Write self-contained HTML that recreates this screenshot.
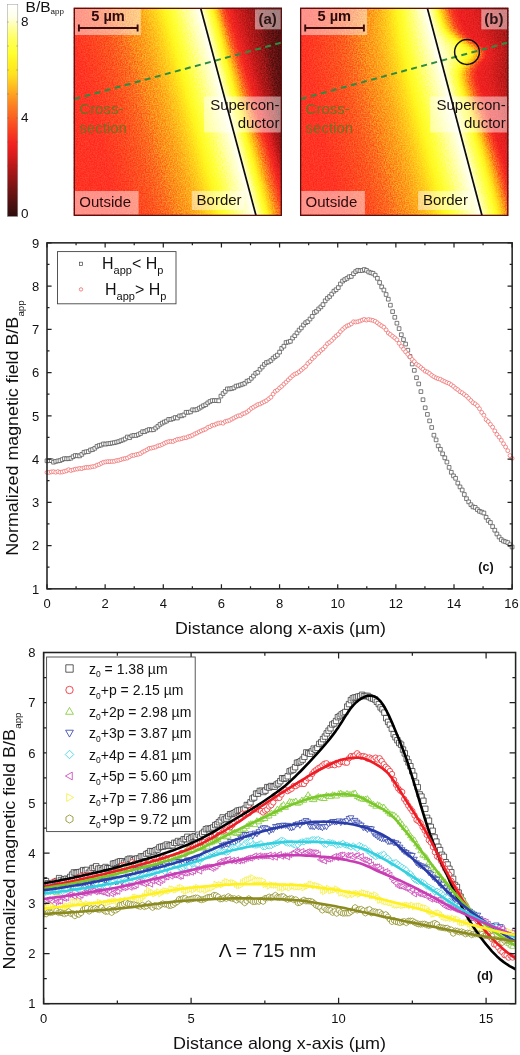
<!DOCTYPE html>
<html lang="en"><head><meta charset="utf-8"><title>Figure</title>
<style>html,body{margin:0;padding:0;background:#fff;}body{width:520px;height:1055px;overflow:hidden;}svg{display:block;}.ka{stop-color:#ff3424}.kb{stop-color:#fe4222}.kc{stop-color:#fd5420}.kd{stop-color:#fc6c20}.ke{stop-color:#fc8a1c}.kf{stop-color:#fda01c}.kg{stop-color:#feb81c}.kh{stop-color:#ffd01c}.ki{stop-color:#ffe81c}.kj{stop-color:#fff820}.kk{stop-color:#ffff38}.kl{stop-color:#ffff70}.km{stop-color:#ffffac}.kn{stop-color:#ffffd4}.ko{stop-color:#fffff4}.kp{stop-color:#ffffa0}.kq{stop-color:#ffff40}.kr{stop-color:#ffd018}.ks{stop-color:#fea018}.kt{stop-color:#fc7020}.ku{stop-color:#fa4820}.kv{stop-color:#f42820}.kw{stop-color:#e42020}.kx{stop-color:#d01c1c}.ky{stop-color:#b81818}.kz{stop-color:#981616}.kaa{stop-color:#701313}.kab{stop-color:#561010}.kac{stop-color:#420c0c}.kad{stop-color:#ff3222}.kae{stop-color:#ffff60}.kaf{stop-color:#ffff30}.kag{stop-color:#fff020}.kah{stop-color:#fe9818}.kai{stop-color:#fc6020}.kaj{stop-color:#f83820}.kak{stop-color:#f02020}.kal{stop-color:#b81a1a}.kam{stop-color:#a01818}.kan{stop-color:#8c1616}</style>
</head><body>
<svg width="520" height="1055" viewBox="0 0 520 1055" font-family='"Liberation Sans", sans-serif' shape-rendering="auto">
<rect x="0" y="0" width="520" height="1055" fill="#fff"/>
<defs><linearGradient id="gcb" x1="0" y1="0" x2="0" y2="1"><stop offset="0.003" stop-color="#ffffff"/><stop offset="0.059" stop-color="#ffffe8"/><stop offset="0.109" stop-color="#ffffa0"/><stop offset="0.159" stop-color="#ffff60"/><stop offset="0.230" stop-color="#ffff30"/><stop offset="0.280" stop-color="#fff020"/><stop offset="0.331" stop-color="#ffe020"/><stop offset="0.381" stop-color="#ffc020"/><stop offset="0.431" stop-color="#fe9c20"/><stop offset="0.482" stop-color="#fc7c20"/><stop offset="0.542" stop-color="#fa5c20"/><stop offset="0.602" stop-color="#f83c20"/><stop offset="0.663" stop-color="#f02020"/><stop offset="0.713" stop-color="#d81c1c"/><stop offset="0.763" stop-color="#b81818"/><stop offset="0.814" stop-color="#981616"/><stop offset="0.864" stop-color="#781414"/><stop offset="0.914" stop-color="#5c1212"/><stop offset="0.965" stop-color="#401010"/><stop offset="1.000" stop-color="#2c0c0c"/></linearGradient><linearGradient id="a0" gradientUnits="userSpaceOnUse" x1="65.19" y1="0" x2="292.39" y2="0" gradientTransform="matrix(1 0 0.2670 1 -2.72 0)"><stop offset="0" class="ka"/><stop offset=".075" class="kb"/><stop offset=".15" class="kc"/><stop offset=".211" class="kd"/><stop offset=".264" class="ke"/><stop offset=".312" class="kf"/><stop offset=".352" class="kg"/><stop offset=".387" class="kh"/><stop offset=".418" class="ki"/><stop offset=".44" class="kj"/><stop offset=".471" class="kk"/><stop offset=".506" class="kl"/><stop offset=".542" class="km"/><stop offset=".57" class="kn"/><stop offset=".59" class="ko"/><stop offset=".612" class="kp"/><stop offset=".634" class="kq"/><stop offset=".649" class="kj"/><stop offset=".664" class="kr"/><stop offset=".677" class="ks"/><stop offset=".686" class="kt"/><stop offset=".699" class="ku"/><stop offset=".717" class="kv"/><stop offset=".74" class="kw"/><stop offset=".762" class="kx"/><stop offset=".789" class="ky"/><stop offset=".831" class="kz"/><stop offset=".865" class="kaa"/><stop offset=".914" class="kab"/><stop offset="1" class="kac"/></linearGradient><linearGradient id="a1" gradientUnits="userSpaceOnUse" x1="66.52" y1="0" x2="293.72" y2="0" gradientTransform="matrix(1 0 0.2670 1 -4.06 0)"><stop offset="0" class="ka"/><stop offset=".075" class="kb"/><stop offset=".15" class="kc"/><stop offset=".211" class="kd"/><stop offset=".264" class="ke"/><stop offset=".312" class="kf"/><stop offset=".352" class="kg"/><stop offset=".387" class="kh"/><stop offset=".418" class="ki"/><stop offset=".44" class="kj"/><stop offset=".471" class="kk"/><stop offset=".506" class="kl"/><stop offset=".542" class="km"/><stop offset=".57" class="kn"/><stop offset=".59" class="ko"/><stop offset=".612" class="kp"/><stop offset=".634" class="kq"/><stop offset=".649" class="kj"/><stop offset=".664" class="kr"/><stop offset=".677" class="ks"/><stop offset=".686" class="kt"/><stop offset=".699" class="ku"/><stop offset=".717" class="kv"/><stop offset=".74" class="kw"/><stop offset=".762" class="kx"/><stop offset=".789" class="ky"/><stop offset=".831" class="kz"/><stop offset=".865" class="kaa"/><stop offset=".914" class="kab"/><stop offset="1" class="kac"/></linearGradient><linearGradient id="a2" gradientUnits="userSpaceOnUse" x1="67.86" y1="0" x2="294.15" y2="0" gradientTransform="matrix(1 0 0.2670 1 -5.39 0)"><stop offset="0" class="ka"/><stop offset=".075" class="kb"/><stop offset=".15" class="kc"/><stop offset=".212" class="kd"/><stop offset=".265" class="ke"/><stop offset=".314" class="kf"/><stop offset=".354" class="kg"/><stop offset=".389" class="kh"/><stop offset=".42" class="ki"/><stop offset=".442" class="kj"/><stop offset=".473" class="kk"/><stop offset=".508" class="kl"/><stop offset=".544" class="km"/><stop offset=".572" class="kn"/><stop offset=".592" class="ko"/><stop offset=".615" class="kp"/><stop offset=".637" class="kq"/><stop offset=".652" class="kj"/><stop offset=".666" class="kr"/><stop offset=".68" class="ks"/><stop offset=".69" class="kt"/><stop offset=".702" class="ku"/><stop offset=".72" class="kv"/><stop offset=".743" class="kw"/><stop offset=".765" class="kx"/><stop offset=".792" class="ky"/><stop offset=".833" class="kz"/><stop offset=".867" class="kaa"/><stop offset=".915" class="kab"/><stop offset="1" class="kac"/></linearGradient><linearGradient id="a3" gradientUnits="userSpaceOnUse" x1="69.19" y1="0" x2="294.4" y2="0" gradientTransform="matrix(1 0 0.2670 1 -6.73 0)"><stop offset="0" class="ka"/><stop offset=".075" class="kb"/><stop offset=".151" class="kc"/><stop offset=".213" class="kd"/><stop offset=".266" class="ke"/><stop offset=".315" class="kf"/><stop offset=".355" class="kg"/><stop offset=".391" class="kh"/><stop offset=".422" class="ki"/><stop offset=".444" class="kj"/><stop offset=".475" class="kk"/><stop offset=".511" class="kl"/><stop offset=".547" class="km"/><stop offset=".575" class="kn"/><stop offset=".595" class="ko"/><stop offset=".617" class="kp"/><stop offset=".64" class="kq"/><stop offset=".655" class="kj"/><stop offset=".67" class="kr"/><stop offset=".683" class="ks"/><stop offset=".693" class="kt"/><stop offset=".706" class="ku"/><stop offset=".724" class="kv"/><stop offset=".747" class="kw"/><stop offset=".768" class="kx"/><stop offset=".795" class="ky"/><stop offset=".836" class="kz"/><stop offset=".869" class="kaa"/><stop offset=".916" class="kab"/><stop offset="1" class="kac"/></linearGradient><linearGradient id="a4" gradientUnits="userSpaceOnUse" x1="70.53" y1="0" x2="294.65" y2="0" gradientTransform="matrix(1 0 0.2670 1 -8.06 0)"><stop offset="0" class="ka"/><stop offset=".076" class="kb"/><stop offset=".152" class="kc"/><stop offset=".214" class="kd"/><stop offset=".268" class="ke"/><stop offset=".317" class="kf"/><stop offset=".357" class="kg"/><stop offset=".393" class="kh"/><stop offset=".424" class="ki"/><stop offset=".446" class="kj"/><stop offset=".477" class="kk"/><stop offset=".513" class="kl"/><stop offset=".55" class="km"/><stop offset=".578" class="kn"/><stop offset=".598" class="ko"/><stop offset=".62" class="kp"/><stop offset=".643" class="kq"/><stop offset=".658" class="kj"/><stop offset=".673" class="kr"/><stop offset=".687" class="ks"/><stop offset=".697" class="kt"/><stop offset=".71" class="ku"/><stop offset=".728" class="kv"/><stop offset=".751" class="kw"/><stop offset=".772" class="kx"/><stop offset=".798" class="ky"/><stop offset=".838" class="kz"/><stop offset=".87" class="kaa"/><stop offset=".917" class="kab"/><stop offset="1" class="kac"/></linearGradient><linearGradient id="a5" gradientUnits="userSpaceOnUse" x1="71.86" y1="0" x2="294.9" y2="0" gradientTransform="matrix(1 0 0.2670 1 -9.4 0)"><stop offset="0" class="ka"/><stop offset=".076" class="kb"/><stop offset=".152" class="kc"/><stop offset=".215" class="kd"/><stop offset=".269" class="ke"/><stop offset=".318" class="kf"/><stop offset=".359" class="kg"/><stop offset=".395" class="kh"/><stop offset=".426" class="ki"/><stop offset=".448" class="kj"/><stop offset=".48" class="kk"/><stop offset=".516" class="kl"/><stop offset=".552" class="km"/><stop offset=".581" class="kn"/><stop offset=".601" class="ko"/><stop offset=".623" class="kp"/><stop offset=".646" class="kq"/><stop offset=".661" class="kj"/><stop offset=".676" class="kr"/><stop offset=".69" class="ks"/><stop offset=".701" class="kt"/><stop offset=".714" class="ku"/><stop offset=".732" class="kv"/><stop offset=".755" class="kw"/><stop offset=".776" class="kx"/><stop offset=".801" class="ky"/><stop offset=".84" class="kz"/><stop offset=".872" class="kaa"/><stop offset=".918" class="kab"/><stop offset="1" class="kac"/></linearGradient><linearGradient id="a6" gradientUnits="userSpaceOnUse" x1="9.2" y1="0" x2="295.15" y2="0" gradientTransform="matrix(1 0 0.2670 1 -10.73 0)"><stop offset="0" class="kad"/><stop offset=".224" class="ka"/><stop offset=".283" class="kb"/><stop offset=".343" class="kc"/><stop offset=".392" class="kd"/><stop offset=".434" class="ke"/><stop offset=".472" class="kf"/><stop offset=".504" class="kg"/><stop offset=".532" class="kh"/><stop offset=".556" class="ki"/><stop offset=".574" class="kj"/><stop offset=".598" class="kk"/><stop offset=".626" class="kl"/><stop offset=".655" class="km"/><stop offset=".677" class="kn"/><stop offset=".692" class="ko"/><stop offset=".71" class="kp"/><stop offset=".727" class="kq"/><stop offset=".74" class="kj"/><stop offset=".752" class="kr"/><stop offset=".762" class="ks"/><stop offset=".771" class="kt"/><stop offset=".782" class="ku"/><stop offset=".796" class="kv"/><stop offset=".813" class="kw"/><stop offset=".829" class="kx"/><stop offset=".848" class="ky"/><stop offset=".878" class="kz"/><stop offset=".902" class="kaa"/><stop offset=".937" class="kab"/><stop offset="1" class="kac"/></linearGradient><linearGradient id="a7" gradientUnits="userSpaceOnUse" x1="10.53" y1="0" x2="295.41" y2="0" gradientTransform="matrix(1 0 0.2670 1 -12.07 0)"><stop offset="0" class="kad"/><stop offset=".225" class="ka"/><stop offset=".284" class="kb"/><stop offset=".344" class="kc"/><stop offset=".393" class="kd"/><stop offset=".435" class="ke"/><stop offset=".474" class="kf"/><stop offset=".505" class="kg"/><stop offset=".534" class="kh"/><stop offset=".558" class="ki"/><stop offset=".576" class="kj"/><stop offset=".6" class="kk"/><stop offset=".628" class="kl"/><stop offset=".657" class="km"/><stop offset=".679" class="kn"/><stop offset=".695" class="ko"/><stop offset=".713" class="kp"/><stop offset=".73" class="kq"/><stop offset=".742" class="kj"/><stop offset=".754" class="kr"/><stop offset=".765" class="ks"/><stop offset=".774" class="kt"/><stop offset=".785" class="ku"/><stop offset=".799" class="kv"/><stop offset=".816" class="kw"/><stop offset=".832" class="kx"/><stop offset=".851" class="ky"/><stop offset=".88" class="kz"/><stop offset=".904" class="kaa"/><stop offset=".938" class="kab"/><stop offset="1" class="kac"/></linearGradient><linearGradient id="a8" gradientUnits="userSpaceOnUse" x1="11.87" y1="0" x2="295.66" y2="0" gradientTransform="matrix(1 0 0.2670 1 -13.4 0)"><stop offset="0" class="kad"/><stop offset=".226" class="ka"/><stop offset=".285" class="kb"/><stop offset=".345" class="kc"/><stop offset=".395" class="kd"/><stop offset=".437" class="ke"/><stop offset=".476" class="kf"/><stop offset=".507" class="kg"/><stop offset=".536" class="kh"/><stop offset=".56" class="ki"/><stop offset=".578" class="kj"/><stop offset=".603" class="kk"/><stop offset=".631" class="kl"/><stop offset=".66" class="km"/><stop offset=".682" class="kn"/><stop offset=".698" class="ko"/><stop offset=".715" class="kp"/><stop offset=".733" class="kq"/><stop offset=".745" class="kj"/><stop offset=".757" class="kr"/><stop offset=".769" class="ks"/><stop offset=".778" class="kt"/><stop offset=".789" class="ku"/><stop offset=".803" class="kv"/><stop offset=".82" class="kw"/><stop offset=".835" class="kx"/><stop offset=".853" class="ky"/><stop offset=".882" class="kz"/><stop offset=".905" class="kaa"/><stop offset=".939" class="kab"/><stop offset="1" class="kac"/></linearGradient><linearGradient id="a9" gradientUnits="userSpaceOnUse" x1="13.2" y1="0" x2="295.91" y2="0" gradientTransform="matrix(1 0 0.2670 1 -14.74 0)"><stop offset="0" class="kad"/><stop offset=".226" class="ka"/><stop offset=".287" class="kb"/><stop offset=".347" class="kc"/><stop offset=".396" class="kd"/><stop offset=".439" class="ke"/><stop offset=".478" class="kf"/><stop offset=".509" class="kg"/><stop offset=".538" class="kh"/><stop offset=".562" class="ki"/><stop offset=".58" class="kj"/><stop offset=".605" class="kk"/><stop offset=".633" class="kl"/><stop offset=".662" class="km"/><stop offset=".684" class="kn"/><stop offset=".7" class="ko"/><stop offset=".718" class="kp"/><stop offset=".736" class="kq"/><stop offset=".748" class="kj"/><stop offset=".76" class="kr"/><stop offset=".772" class="ks"/><stop offset=".781" class="kt"/><stop offset=".792" class="ku"/><stop offset=".806" class="kv"/><stop offset=".823" class="kw"/><stop offset=".838" class="kx"/><stop offset=".856" class="ky"/><stop offset=".884" class="kz"/><stop offset=".907" class="kaa"/><stop offset=".94" class="kab"/><stop offset="1" class="kac"/></linearGradient><linearGradient id="a10" gradientUnits="userSpaceOnUse" x1="14.54" y1="0" x2="296.16" y2="0" gradientTransform="matrix(1 0 0.2670 1 -16.07 0)"><stop offset="0" class="kad"/><stop offset=".227" class="ka"/><stop offset=".288" class="kb"/><stop offset=".348" class="kc"/><stop offset=".398" class="kd"/><stop offset=".44" class="ke"/><stop offset=".479" class="kf"/><stop offset=".511" class="kg"/><stop offset=".54" class="kh"/><stop offset=".565" class="ki"/><stop offset=".582" class="kj"/><stop offset=".607" class="kk"/><stop offset=".636" class="kl"/><stop offset=".665" class="km"/><stop offset=".687" class="kn"/><stop offset=".703" class="ko"/><stop offset=".721" class="kp"/><stop offset=".738" class="kq"/><stop offset=".751" class="kj"/><stop offset=".763" class="kr"/><stop offset=".775" class="ks"/><stop offset=".785" class="kt"/><stop offset=".796" class="ku"/><stop offset=".81" class="kv"/><stop offset=".827" class="kw"/><stop offset=".841" class="kx"/><stop offset=".859" class="ky"/><stop offset=".886" class="kz"/><stop offset=".908" class="kaa"/><stop offset=".941" class="kab"/><stop offset="1" class="kac"/></linearGradient><linearGradient id="a11" gradientUnits="userSpaceOnUse" x1="15.87" y1="0" x2="296.41" y2="0" gradientTransform="matrix(1 0 0.2670 1 -17.41 0)"><stop offset="0" class="kad"/><stop offset=".228" class="ka"/><stop offset=".289" class="kb"/><stop offset=".349" class="kc"/><stop offset=".399" class="kd"/><stop offset=".442" class="ke"/><stop offset=".481" class="kf"/><stop offset=".513" class="kg"/><stop offset=".542" class="kh"/><stop offset=".567" class="ki"/><stop offset=".585" class="kj"/><stop offset=".61" class="kk"/><stop offset=".638" class="kl"/><stop offset=".667" class="km"/><stop offset=".69" class="kn"/><stop offset=".706" class="ko"/><stop offset=".723" class="kp"/><stop offset=".741" class="kq"/><stop offset=".754" class="kj"/><stop offset=".766" class="kr"/><stop offset=".778" class="ks"/><stop offset=".788" class="kt"/><stop offset=".799" class="ku"/><stop offset=".813" class="kv"/><stop offset=".83" class="kw"/><stop offset=".844" class="kx"/><stop offset=".861" class="ky"/><stop offset=".888" class="kz"/><stop offset=".91" class="kaa"/><stop offset=".942" class="kab"/><stop offset="1" class="kac"/></linearGradient><linearGradient id="a12" gradientUnits="userSpaceOnUse" x1="17.21" y1="0" x2="296.66" y2="0" gradientTransform="matrix(1 0 0.2670 1 -18.74 0)"><stop offset="0" class="kad"/><stop offset=".229" class="ka"/><stop offset=".29" class="kb"/><stop offset=".351" class="kc"/><stop offset=".401" class="kd"/><stop offset=".444" class="ke"/><stop offset=".483" class="kf"/><stop offset=".515" class="kg"/><stop offset=".544" class="kh"/><stop offset=".569" class="ki"/><stop offset=".587" class="kj"/><stop offset=".612" class="kk"/><stop offset=".641" class="kl"/><stop offset=".67" class="km"/><stop offset=".692" class="kn"/><stop offset=".709" class="ko"/><stop offset=".726" class="kp"/><stop offset=".744" class="kq"/><stop offset=".757" class="kj"/><stop offset=".77" class="kr"/><stop offset=".781" class="ks"/><stop offset=".792" class="kt"/><stop offset=".803" class="ku"/><stop offset=".817" class="kv"/><stop offset=".834" class="kw"/><stop offset=".848" class="kx"/><stop offset=".864" class="ky"/><stop offset=".89" class="kz"/><stop offset=".912" class="kaa"/><stop offset=".943" class="kab"/><stop offset="1" class="kac"/></linearGradient><linearGradient id="a13" gradientUnits="userSpaceOnUse" x1="18.54" y1="0" x2="296.91" y2="0" gradientTransform="matrix(1 0 0.2670 1 -20.08 0)"><stop offset="0" class="kad"/><stop offset=".23" class="ka"/><stop offset=".291" class="kb"/><stop offset=".352" class="kc"/><stop offset=".402" class="kd"/><stop offset=".445" class="ke"/><stop offset=".485" class="kf"/><stop offset=".517" class="kg"/><stop offset=".546" class="kh"/><stop offset=".571" class="ki"/><stop offset=".589" class="kj"/><stop offset=".614" class="kk"/><stop offset=".643" class="kl"/><stop offset=".672" class="km"/><stop offset=".695" class="kn"/><stop offset=".711" class="ko"/><stop offset=".729" class="kp"/><stop offset=".747" class="kq"/><stop offset=".759" class="kj"/><stop offset=".773" class="kr"/><stop offset=".784" class="ks"/><stop offset=".795" class="kt"/><stop offset=".807" class="ku"/><stop offset=".821" class="kv"/><stop offset=".837" class="kw"/><stop offset=".851" class="kx"/><stop offset=".867" class="ky"/><stop offset=".892" class="kz"/><stop offset=".913" class="kaa"/><stop offset=".944" class="kab"/><stop offset="1" class="kac"/></linearGradient><linearGradient id="a14" gradientUnits="userSpaceOnUse" x1="19.88" y1="0" x2="297.17" y2="0" gradientTransform="matrix(1 0 0.2670 1 -21.41 0)"><stop offset="0" class="kad"/><stop offset=".231" class="ka"/><stop offset=".292" class="kb"/><stop offset=".353" class="kc"/><stop offset=".404" class="kd"/><stop offset=".447" class="ke"/><stop offset=".487" class="kf"/><stop offset=".519" class="kg"/><stop offset=".548" class="kh"/><stop offset=".573" class="ki"/><stop offset=".591" class="kj"/><stop offset=".617" class="kk"/><stop offset=".646" class="kl"/><stop offset=".675" class="km"/><stop offset=".698" class="kn"/><stop offset=".714" class="ko"/><stop offset=".731" class="kp"/><stop offset=".75" class="kq"/><stop offset=".762" class="kj"/><stop offset=".776" class="kr"/><stop offset=".788" class="ks"/><stop offset=".799" class="kt"/><stop offset=".81" class="ku"/><stop offset=".825" class="kv"/><stop offset=".841" class="kw"/><stop offset=".854" class="kx"/><stop offset=".87" class="ky"/><stop offset=".894" class="kz"/><stop offset=".915" class="kaa"/><stop offset=".945" class="kab"/><stop offset="1" class="kac"/></linearGradient><linearGradient id="a15" gradientUnits="userSpaceOnUse" x1="21.21" y1="0" x2="297.42" y2="0" gradientTransform="matrix(1 0 0.2670 1 -22.75 0)"><stop offset="0" class="kad"/><stop offset=".232" class="ka"/><stop offset=".293" class="kb"/><stop offset=".355" class="kc"/><stop offset=".405" class="kd"/><stop offset=".449" class="ke"/><stop offset=".489" class="kf"/><stop offset=".521" class="kg"/><stop offset=".55" class="kh"/><stop offset=".576" class="ki"/><stop offset=".594" class="kj"/><stop offset=".619" class="kk"/><stop offset=".648" class="kl"/><stop offset=".678" class="km"/><stop offset=".701" class="kn"/><stop offset=".717" class="ko"/><stop offset=".734" class="kp"/><stop offset=".752" class="kq"/><stop offset=".765" class="kj"/><stop offset=".779" class="kr"/><stop offset=".791" class="ks"/><stop offset=".802" class="kt"/><stop offset=".814" class="ku"/><stop offset=".828" class="kv"/><stop offset=".844" class="kw"/><stop offset=".858" class="kx"/><stop offset=".873" class="ky"/><stop offset=".896" class="kz"/><stop offset=".916" class="kaa"/><stop offset=".946" class="kab"/><stop offset="1" class="kac"/></linearGradient><linearGradient id="a16" gradientUnits="userSpaceOnUse" x1="22.55" y1="0" x2="297.67" y2="0" gradientTransform="matrix(1 0 0.2670 1 -24.08 0)"><stop offset="0" class="kad"/><stop offset=".233" class="ka"/><stop offset=".294" class="kb"/><stop offset=".356" class="kc"/><stop offset=".407" class="kd"/><stop offset=".451" class="ke"/><stop offset=".491" class="kf"/><stop offset=".523" class="kg"/><stop offset=".552" class="kh"/><stop offset=".578" class="ki"/><stop offset=".596" class="kj"/><stop offset=".622" class="kk"/><stop offset=".651" class="kl"/><stop offset=".68" class="km"/><stop offset=".703" class="kn"/><stop offset=".72" class="ko"/><stop offset=".737" class="kp"/><stop offset=".755" class="kq"/><stop offset=".768" class="kj"/><stop offset=".782" class="kr"/><stop offset=".794" class="ks"/><stop offset=".806" class="kt"/><stop offset=".818" class="ku"/><stop offset=".832" class="kv"/><stop offset=".848" class="kw"/><stop offset=".861" class="kx"/><stop offset=".875" class="ky"/><stop offset=".898" class="kz"/><stop offset=".918" class="kaa"/><stop offset=".947" class="kab"/><stop offset="1" class="kac"/></linearGradient><linearGradient id="a17" gradientUnits="userSpaceOnUse" x1="23.88" y1="0" x2="283.6" y2="0" gradientTransform="matrix(1 0 0.2670 1 -25.42 0)"><stop offset="0" class="kad"/><stop offset=".246" class="ka"/><stop offset=".312" class="kb"/><stop offset=".377" class="kc"/><stop offset=".431" class="kd"/><stop offset=".477" class="ke"/><stop offset=".52" class="kf"/><stop offset=".554" class="kg"/><stop offset=".585" class="kh"/><stop offset=".612" class="ki"/><stop offset=".631" class="kj"/><stop offset=".658" class="kk"/><stop offset=".689" class="kl"/><stop offset=".721" class="km"/><stop offset=".745" class="kn"/><stop offset=".762" class="ko"/><stop offset=".781" class="kp"/><stop offset=".8" class="kq"/><stop offset=".814" class="kj"/><stop offset=".828" class="kr"/><stop offset=".842" class="ks"/><stop offset=".854" class="kt"/><stop offset=".867" class="ku"/><stop offset=".882" class="kv"/><stop offset=".898" class="kw"/><stop offset=".912" class="kx"/><stop offset=".927" class="ky"/><stop offset=".95" class="kz"/><stop offset=".97" class="kaa"/><stop offset="1" class="kab"/></linearGradient><linearGradient id="a18" gradientUnits="userSpaceOnUse" x1="25.22" y1="0" x2="284.19" y2="0" gradientTransform="matrix(1 0 0.2670 1 -26.75 0)"><stop offset="0" class="kad"/><stop offset=".247" class="ka"/><stop offset=".313" class="kb"/><stop offset=".378" class="kc"/><stop offset=".432" class="kd"/><stop offset=".479" class="ke"/><stop offset=".521" class="kf"/><stop offset=".556" class="kg"/><stop offset=".587" class="kh"/><stop offset=".614" class="ki"/><stop offset=".633" class="kj"/><stop offset=".66" class="kk"/><stop offset=".691" class="kl"/><stop offset=".723" class="km"/><stop offset=".747" class="kn"/><stop offset=".765" class="ko"/><stop offset=".783" class="kp"/><stop offset=".802" class="kq"/><stop offset=".816" class="kj"/><stop offset=".831" class="kr"/><stop offset=".844" class="ks"/><stop offset=".857" class="kt"/><stop offset=".87" class="ku"/><stop offset=".885" class="kv"/><stop offset=".901" class="kw"/><stop offset=".914" class="kx"/><stop offset=".929" class="ky"/><stop offset=".951" class="kz"/><stop offset=".971" class="kaa"/><stop offset="1" class="kab"/></linearGradient><linearGradient id="a19" gradientUnits="userSpaceOnUse" x1="26.55" y1="0" x2="284.77" y2="0" gradientTransform="matrix(1 0 0.2670 1 -28.09 0)"><stop offset="0" class="kad"/><stop offset=".248" class="ka"/><stop offset=".314" class="kb"/><stop offset=".38" class="kc"/><stop offset=".434" class="kd"/><stop offset=".48" class="ke"/><stop offset=".523" class="kf"/><stop offset=".558" class="kg"/><stop offset=".589" class="kh"/><stop offset=".616" class="ki"/><stop offset=".635" class="kj"/><stop offset=".662" class="kk"/><stop offset=".693" class="kl"/><stop offset=".725" class="km"/><stop offset=".749" class="kn"/><stop offset=".767" class="ko"/><stop offset=".785" class="kp"/><stop offset=".804" class="kq"/><stop offset=".818" class="kj"/><stop offset=".833" class="kr"/><stop offset=".847" class="ks"/><stop offset=".86" class="kt"/><stop offset=".873" class="ku"/><stop offset=".888" class="kv"/><stop offset=".904" class="kw"/><stop offset=".917" class="kx"/><stop offset=".931" class="ky"/><stop offset=".952" class="kz"/><stop offset=".972" class="kaa"/><stop offset="1" class="kab"/></linearGradient><linearGradient id="a20" gradientUnits="userSpaceOnUse" x1="27.89" y1="0" x2="285.36" y2="0" gradientTransform="matrix(1 0 0.2670 1 -29.42 0)"><stop offset="0" class="kad"/><stop offset=".249" class="ka"/><stop offset=".315" class="kb"/><stop offset=".381" class="kc"/><stop offset=".435" class="kd"/><stop offset=".482" class="ke"/><stop offset=".524" class="kf"/><stop offset=".559" class="kg"/><stop offset=".59" class="kh"/><stop offset=".618" class="ki"/><stop offset=".637" class="kj"/><stop offset=".664" class="kk"/><stop offset=".695" class="kl"/><stop offset=".727" class="km"/><stop offset=".752" class="kn"/><stop offset=".769" class="ko"/><stop offset=".787" class="kp"/><stop offset=".807" class="kq"/><stop offset=".821" class="kj"/><stop offset=".836" class="kr"/><stop offset=".85" class="ks"/><stop offset=".863" class="kt"/><stop offset=".876" class="ku"/><stop offset=".891" class="kv"/><stop offset=".907" class="kw"/><stop offset=".92" class="kx"/><stop offset=".933" class="ky"/><stop offset=".953" class="kz"/><stop offset=".973" class="kaa"/><stop offset="1" class="kab"/></linearGradient><linearGradient id="a21" gradientUnits="userSpaceOnUse" x1="29.22" y1="0" x2="285.94" y2="0" gradientTransform="matrix(1 0 0.2670 1 -30.76 0)"><stop offset="0" class="kad"/><stop offset=".249" class="ka"/><stop offset=".316" class="kb"/><stop offset=".382" class="kc"/><stop offset=".436" class="kd"/><stop offset=".483" class="ke"/><stop offset=".526" class="kf"/><stop offset=".561" class="kg"/><stop offset=".592" class="kh"/><stop offset=".619" class="ki"/><stop offset=".639" class="kj"/><stop offset=".666" class="kk"/><stop offset=".697" class="kl"/><stop offset=".729" class="km"/><stop offset=".754" class="kn"/><stop offset=".771" class="ko"/><stop offset=".79" class="kp"/><stop offset=".809" class="kq"/><stop offset=".823" class="kj"/><stop offset=".839" class="kr"/><stop offset=".852" class="ks"/><stop offset=".866" class="kt"/><stop offset=".879" class="ku"/><stop offset=".894" class="kv"/><stop offset=".91" class="kw"/><stop offset=".922" class="kx"/><stop offset=".935" class="ky"/><stop offset=".955" class="kz"/><stop offset=".973" class="kaa"/><stop offset="1" class="kab"/></linearGradient><linearGradient id="a22" gradientUnits="userSpaceOnUse" x1="30.56" y1="0" x2="286.53" y2="0" gradientTransform="matrix(1 0 0.2670 1 -32.09 0)"><stop offset="0" class="kad"/><stop offset=".25" class="ka"/><stop offset=".316" class="kb"/><stop offset=".383" class="kc"/><stop offset=".438" class="kd"/><stop offset=".484" class="ke"/><stop offset=".527" class="kf"/><stop offset=".563" class="kg"/><stop offset=".594" class="kh"/><stop offset=".621" class="ki"/><stop offset=".641" class="kj"/><stop offset=".668" class="kk"/><stop offset=".699" class="kl"/><stop offset=".731" class="km"/><stop offset=".756" class="kn"/><stop offset=".774" class="ko"/><stop offset=".792" class="kp"/><stop offset=".811" class="kq"/><stop offset=".825" class="kj"/><stop offset=".841" class="kr"/><stop offset=".855" class="ks"/><stop offset=".869" class="kt"/><stop offset=".883" class="ku"/><stop offset=".898" class="kv"/><stop offset=".913" class="kw"/><stop offset=".925" class="kx"/><stop offset=".937" class="ky"/><stop offset=".956" class="kz"/><stop offset=".974" class="kaa"/><stop offset="1" class="kab"/></linearGradient><linearGradient id="a23" gradientUnits="userSpaceOnUse" x1="31.89" y1="0" x2="287.11" y2="0" gradientTransform="matrix(1 0 0.2670 1 -33.43 0)"><stop offset="0" class="kad"/><stop offset=".251" class="ka"/><stop offset=".317" class="kb"/><stop offset=".384" class="kc"/><stop offset=".439" class="kd"/><stop offset=".486" class="ke"/><stop offset=".529" class="kf"/><stop offset=".564" class="kg"/><stop offset=".596" class="kh"/><stop offset=".623" class="ki"/><stop offset=".643" class="kj"/><stop offset=".67" class="kk"/><stop offset=".701" class="kl"/><stop offset=".733" class="km"/><stop offset=".758" class="kn"/><stop offset=".776" class="ko"/><stop offset=".794" class="kp"/><stop offset=".814" class="kq"/><stop offset=".828" class="kj"/><stop offset=".844" class="kr"/><stop offset=".858" class="ks"/><stop offset=".872" class="kt"/><stop offset=".886" class="ku"/><stop offset=".901" class="kv"/><stop offset=".916" class="kw"/><stop offset=".927" class="kx"/><stop offset=".939" class="ky"/><stop offset=".957" class="kz"/><stop offset=".975" class="kaa"/><stop offset="1" class="kab"/></linearGradient><linearGradient id="a24" gradientUnits="userSpaceOnUse" x1="33.23" y1="0" x2="287.7" y2="0" gradientTransform="matrix(1 0 0.2670 1 -34.76 0)"><stop offset="0" class="kad"/><stop offset=".252" class="ka"/><stop offset=".318" class="kb"/><stop offset=".385" class="kc"/><stop offset=".44" class="kd"/><stop offset=".487" class="ke"/><stop offset=".531" class="kf"/><stop offset=".566" class="kg"/><stop offset=".597" class="kh"/><stop offset=".625" class="ki"/><stop offset=".644" class="kj"/><stop offset=".672" class="kk"/><stop offset=".703" class="kl"/><stop offset=".736" class="km"/><stop offset=".76" class="kn"/><stop offset=".778" class="ko"/><stop offset=".796" class="kp"/><stop offset=".816" class="kq"/><stop offset=".83" class="kj"/><stop offset=".846" class="kr"/><stop offset=".861" class="ks"/><stop offset=".875" class="kt"/><stop offset=".889" class="ku"/><stop offset=".904" class="kv"/><stop offset=".919" class="kw"/><stop offset=".93" class="kx"/><stop offset=".941" class="ky"/><stop offset=".958" class="kz"/><stop offset=".975" class="kaa"/><stop offset="1" class="kab"/></linearGradient><linearGradient id="a25" gradientUnits="userSpaceOnUse" x1="34.56" y1="0" x2="288.28" y2="0" gradientTransform="matrix(1 0 0.2670 1 -36.1 0)"><stop offset="0" class="kad"/><stop offset=".252" class="ka"/><stop offset=".319" class="kb"/><stop offset=".386" class="kc"/><stop offset=".441" class="kd"/><stop offset=".489" class="ke"/><stop offset=".532" class="kf"/><stop offset=".568" class="kg"/><stop offset=".599" class="kh"/><stop offset=".627" class="ki"/><stop offset=".646" class="kj"/><stop offset=".674" class="kk"/><stop offset=".706" class="kl"/><stop offset=".738" class="km"/><stop offset=".763" class="kn"/><stop offset=".78" class="ko"/><stop offset=".799" class="kp"/><stop offset=".818" class="kq"/><stop offset=".833" class="kj"/><stop offset=".849" class="kr"/><stop offset=".863" class="ks"/><stop offset=".878" class="kt"/><stop offset=".892" class="ku"/><stop offset=".907" class="kv"/><stop offset=".922" class="kw"/><stop offset=".933" class="kx"/><stop offset=".944" class="ky"/><stop offset=".96" class="kz"/><stop offset=".976" class="kaa"/><stop offset="1" class="kab"/></linearGradient><linearGradient id="a26" gradientUnits="userSpaceOnUse" x1="35.9" y1="0" x2="288.87" y2="0" gradientTransform="matrix(1 0 0.2670 1 -37.43 0)"><stop offset="0" class="kad"/><stop offset=".253" class="ka"/><stop offset=".32" class="kb"/><stop offset=".387" class="kc"/><stop offset=".443" class="kd"/><stop offset=".49" class="ke"/><stop offset=".534" class="kf"/><stop offset=".569" class="kg"/><stop offset=".601" class="kh"/><stop offset=".629" class="ki"/><stop offset=".648" class="kj"/><stop offset=".676" class="kk"/><stop offset=".708" class="kl"/><stop offset=".74" class="km"/><stop offset=".765" class="kn"/><stop offset=".783" class="ko"/><stop offset=".801" class="kp"/><stop offset=".821" class="kq"/><stop offset=".835" class="kj"/><stop offset=".851" class="kr"/><stop offset=".866" class="ks"/><stop offset=".881" class="kt"/><stop offset=".895" class="ku"/><stop offset=".911" class="kv"/><stop offset=".925" class="kw"/><stop offset=".936" class="kx"/><stop offset=".946" class="ky"/><stop offset=".961" class="kz"/><stop offset=".977" class="kaa"/><stop offset="1" class="kab"/></linearGradient><linearGradient id="a27" gradientUnits="userSpaceOnUse" x1="37.23" y1="0" x2="283.83" y2="0" gradientTransform="matrix(1 0 0.2670 1 -38.77 0)"><stop offset="0" class="kad"/><stop offset=".26" class="ka"/><stop offset=".328" class="kb"/><stop offset=".397" class="kc"/><stop offset=".454" class="kd"/><stop offset=".503" class="ke"/><stop offset=".547" class="kf"/><stop offset=".584" class="kg"/><stop offset=".616" class="kh"/><stop offset=".645" class="ki"/><stop offset=".665" class="kj"/><stop offset=".693" class="kk"/><stop offset=".726" class="kl"/><stop offset=".759" class="km"/><stop offset=".785" class="kn"/><stop offset=".803" class="ko"/><stop offset=".821" class="kp"/><stop offset=".842" class="kq"/><stop offset=".857" class="kj"/><stop offset=".874" class="kr"/><stop offset=".889" class="ks"/><stop offset=".904" class="kt"/><stop offset=".919" class="ku"/><stop offset=".935" class="kv"/><stop offset=".949" class="kw"/><stop offset=".96" class="kx"/><stop offset=".969" class="ky"/><stop offset=".984" class="kz"/><stop offset="1" class="kaa"/></linearGradient><linearGradient id="a28" gradientUnits="userSpaceOnUse" x1="38.57" y1="0" x2="284.63" y2="0" gradientTransform="matrix(1 0 0.2670 1 -40.1 0)"><stop offset="0" class="kad"/><stop offset=".26" class="ka"/><stop offset=".329" class="kb"/><stop offset=".398" class="kc"/><stop offset=".455" class="kd"/><stop offset=".504" class="ke"/><stop offset=".549" class="kf"/><stop offset=".585" class="kg"/><stop offset=".618" class="kh"/><stop offset=".646" class="ki"/><stop offset=".666" class="kj"/><stop offset=".695" class="kk"/><stop offset=".727" class="kl"/><stop offset=".761" class="km"/><stop offset=".786" class="kn"/><stop offset=".805" class="ko"/><stop offset=".823" class="kp"/><stop offset=".843" class="kq"/><stop offset=".858" class="kj"/><stop offset=".876" class="kr"/><stop offset=".891" class="ks"/><stop offset=".907" class="kt"/><stop offset=".922" class="ku"/><stop offset=".937" class="kv"/><stop offset=".952" class="kw"/><stop offset=".962" class="kx"/><stop offset=".971" class="ky"/><stop offset=".985" class="kz"/><stop offset="1" class="kaa"/></linearGradient><linearGradient id="a29" gradientUnits="userSpaceOnUse" x1="39.9" y1="0" x2="285.42" y2="0" gradientTransform="matrix(1 0 0.2670 1 -41.44 0)"><stop offset="0" class="kad"/><stop offset=".261" class="ka"/><stop offset=".33" class="kb"/><stop offset=".399" class="kc"/><stop offset=".456" class="kd"/><stop offset=".505" class="ke"/><stop offset=".55" class="kf"/><stop offset=".587" class="kg"/><stop offset=".619" class="kh"/><stop offset=".648" class="ki"/><stop offset=".668" class="kj"/><stop offset=".696" class="kk"/><stop offset=".729" class="kl"/><stop offset=".762" class="km"/><stop offset=".788" class="kn"/><stop offset=".806" class="ko"/><stop offset=".825" class="kp"/><stop offset=".845" class="kq"/><stop offset=".86" class="kj"/><stop offset=".878" class="kr"/><stop offset=".893" class="ks"/><stop offset=".909" class="kt"/><stop offset=".924" class="ku"/><stop offset=".94" class="kv"/><stop offset=".954" class="kw"/><stop offset=".964" class="kx"/><stop offset=".972" class="ky"/><stop offset=".985" class="kz"/><stop offset="1" class="kaa"/></linearGradient><linearGradient id="a30" gradientUnits="userSpaceOnUse" x1="41.24" y1="0" x2="286.24" y2="0" gradientTransform="matrix(1 0 0.2670 1 -42.77 0)"><stop offset="0" class="kad"/><stop offset=".261" class="ka"/><stop offset=".331" class="kb"/><stop offset=".4" class="kc"/><stop offset=".457" class="kd"/><stop offset=".506" class="ke"/><stop offset=".551" class="kf"/><stop offset=".588" class="kg"/><stop offset=".62" class="kh"/><stop offset=".649" class="ki"/><stop offset=".669" class="kj"/><stop offset=".698" class="kk"/><stop offset=".731" class="kl"/><stop offset=".764" class="km"/><stop offset=".79" class="kn"/><stop offset=".808" class="ko"/><stop offset=".827" class="kp"/><stop offset=".847" class="kq"/><stop offset=".862" class="kj"/><stop offset=".88" class="kr"/><stop offset=".895" class="ks"/><stop offset=".911" class="kt"/><stop offset=".927" class="ku"/><stop offset=".942" class="kv"/><stop offset=".956" class="kw"/><stop offset=".966" class="kx"/><stop offset=".974" class="ky"/><stop offset=".986" class="kz"/><stop offset="1" class="kaa"/></linearGradient><linearGradient id="a31" gradientUnits="userSpaceOnUse" x1="42.57" y1="0" x2="284.07" y2="0" gradientTransform="matrix(1 0 0.2670 1 -44.11 0)"><stop offset="0" class="kad"/><stop offset=".265" class="ka"/><stop offset=".335" class="kb"/><stop offset=".406" class="kc"/><stop offset=".464" class="kd"/><stop offset=".513" class="ke"/><stop offset=".559" class="kf"/><stop offset=".596" class="kg"/><stop offset=".629" class="kh"/><stop offset=".658" class="ki"/><stop offset=".679" class="kj"/><stop offset=".708" class="kk"/><stop offset=".741" class="kl"/><stop offset=".775" class="km"/><stop offset=".801" class="kn"/><stop offset=".82" class="ko"/><stop offset=".839" class="kp"/><stop offset=".859" class="kq"/><stop offset=".875" class="kj"/><stop offset=".892" class="kr"/><stop offset=".908" class="ks"/><stop offset=".925" class="kt"/><stop offset=".94" class="ku"/><stop offset=".956" class="kv"/><stop offset=".97" class="kw"/><stop offset=".98" class="kx"/><stop offset=".988" class="ky"/><stop offset="1" class="kz"/></linearGradient><linearGradient id="a32" gradientUnits="userSpaceOnUse" x1="43.91" y1="0" x2="285.41" y2="0" gradientTransform="matrix(1 0 0.2670 1 -45.44 0)"><stop offset="0" class="kad"/><stop offset=".265" class="ka"/><stop offset=".335" class="kb"/><stop offset=".406" class="kc"/><stop offset=".464" class="kd"/><stop offset=".513" class="ke"/><stop offset=".559" class="kf"/><stop offset=".596" class="kg"/><stop offset=".629" class="kh"/><stop offset=".658" class="ki"/><stop offset=".679" class="kj"/><stop offset=".708" class="kk"/><stop offset=".741" class="kl"/><stop offset=".775" class="km"/><stop offset=".801" class="kn"/><stop offset=".82" class="ko"/><stop offset=".839" class="kp"/><stop offset=".859" class="kq"/><stop offset=".875" class="kj"/><stop offset=".892" class="kr"/><stop offset=".908" class="ks"/><stop offset=".925" class="kt"/><stop offset=".94" class="ku"/><stop offset=".956" class="kv"/><stop offset=".97" class="kw"/><stop offset=".98" class="kx"/><stop offset=".988" class="ky"/><stop offset="1" class="kz"/></linearGradient><linearGradient id="a33" gradientUnits="userSpaceOnUse" x1="45.24" y1="0" x2="283.84" y2="0" gradientTransform="matrix(1 0 0.2670 1 -46.78 0)"><stop offset="0" class="kad"/><stop offset=".268" class="ka"/><stop offset=".339" class="kb"/><stop offset=".411" class="kc"/><stop offset=".469" class="kd"/><stop offset=".52" class="ke"/><stop offset=".566" class="kf"/><stop offset=".604" class="kg"/><stop offset=".637" class="kh"/><stop offset=".666" class="ki"/><stop offset=".687" class="kj"/><stop offset=".717" class="kk"/><stop offset=".75" class="kl"/><stop offset=".785" class="km"/><stop offset=".811" class="kn"/><stop offset=".83" class="ko"/><stop offset=".849" class="kp"/><stop offset=".87" class="kq"/><stop offset=".885" class="kj"/><stop offset=".903" class="kr"/><stop offset=".919" class="ks"/><stop offset=".936" class="kt"/><stop offset=".952" class="ku"/><stop offset=".968" class="kv"/><stop offset=".982" class="kw"/><stop offset=".992" class="kx"/><stop offset="1" class="ky"/></linearGradient><linearGradient id="a34" gradientUnits="userSpaceOnUse" x1="46.58" y1="0" x2="285.18" y2="0" gradientTransform="matrix(1 0 0.2670 1 -48.11 0)"><stop offset="0" class="kad"/><stop offset=".268" class="ka"/><stop offset=".339" class="kb"/><stop offset=".411" class="kc"/><stop offset=".469" class="kd"/><stop offset=".52" class="ke"/><stop offset=".566" class="kf"/><stop offset=".604" class="kg"/><stop offset=".637" class="kh"/><stop offset=".666" class="ki"/><stop offset=".687" class="kj"/><stop offset=".717" class="kk"/><stop offset=".75" class="kl"/><stop offset=".785" class="km"/><stop offset=".811" class="kn"/><stop offset=".83" class="ko"/><stop offset=".849" class="kp"/><stop offset=".87" class="kq"/><stop offset=".885" class="kj"/><stop offset=".903" class="kr"/><stop offset=".919" class="ks"/><stop offset=".936" class="kt"/><stop offset=".952" class="ku"/><stop offset=".968" class="kv"/><stop offset=".982" class="kw"/><stop offset=".992" class="kx"/><stop offset="1" class="ky"/></linearGradient><linearGradient id="a35" gradientUnits="userSpaceOnUse" x1="47.91" y1="0" x2="284.51" y2="0" gradientTransform="matrix(1 0 0.2670 1 -49.45 0)"><stop offset="0" class="kad"/><stop offset=".27" class="ka"/><stop offset=".342" class="kb"/><stop offset=".414" class="kc"/><stop offset=".473" class="kd"/><stop offset=".524" class="ke"/><stop offset=".571" class="kf"/><stop offset=".609" class="kg"/><stop offset=".642" class="kh"/><stop offset=".672" class="ki"/><stop offset=".693" class="kj"/><stop offset=".723" class="kk"/><stop offset=".757" class="kl"/><stop offset=".791" class="km"/><stop offset=".818" class="kn"/><stop offset=".837" class="ko"/><stop offset=".856" class="kp"/><stop offset=".877" class="kq"/><stop offset=".893" class="kj"/><stop offset=".911" class="kr"/><stop offset=".927" class="ks"/><stop offset=".944" class="kt"/><stop offset=".96" class="ku"/><stop offset=".976" class="kv"/><stop offset=".99" class="kw"/><stop offset="1" class="kx"/></linearGradient><linearGradient id="a36" gradientUnits="userSpaceOnUse" x1="49.25" y1="0" x2="283.55" y2="0" gradientTransform="matrix(1 0 0.2670 1 -50.78 0)"><stop offset="0" class="kad"/><stop offset=".273" class="ka"/><stop offset=".346" class="kb"/><stop offset=".418" class="kc"/><stop offset=".478" class="kd"/><stop offset=".529" class="ke"/><stop offset=".576" class="kf"/><stop offset=".615" class="kg"/><stop offset=".649" class="kh"/><stop offset=".679" class="ki"/><stop offset=".7" class="kj"/><stop offset=".73" class="kk"/><stop offset=".764" class="kl"/><stop offset=".799" class="km"/><stop offset=".826" class="kn"/><stop offset=".845" class="ko"/><stop offset=".864" class="kp"/><stop offset=".886" class="kq"/><stop offset=".901" class="kj"/><stop offset=".92" class="kr"/><stop offset=".936" class="ks"/><stop offset=".953" class="kt"/><stop offset=".969" class="ku"/><stop offset=".985" class="kv"/><stop offset="1" class="kw"/></linearGradient><linearGradient id="a37" gradientUnits="userSpaceOnUse" x1="50.58" y1="0" x2="284.88" y2="0" gradientTransform="matrix(1 0 0.2670 1 -52.12 0)"><stop offset="0" class="kad"/><stop offset=".273" class="ka"/><stop offset=".346" class="kb"/><stop offset=".418" class="kc"/><stop offset=".478" class="kd"/><stop offset=".529" class="ke"/><stop offset=".576" class="kf"/><stop offset=".615" class="kg"/><stop offset=".649" class="kh"/><stop offset=".679" class="ki"/><stop offset=".7" class="kj"/><stop offset=".73" class="kk"/><stop offset=".764" class="kl"/><stop offset=".799" class="km"/><stop offset=".826" class="kn"/><stop offset=".845" class="ko"/><stop offset=".864" class="kp"/><stop offset=".886" class="kq"/><stop offset=".901" class="kj"/><stop offset=".92" class="kr"/><stop offset=".936" class="ks"/><stop offset=".953" class="kt"/><stop offset=".969" class="ku"/><stop offset=".985" class="kv"/><stop offset="1" class="kw"/></linearGradient><linearGradient id="a38" gradientUnits="userSpaceOnUse" x1="51.92" y1="0" x2="286.22" y2="0" gradientTransform="matrix(1 0 0.2670 1 -53.45 0)"><stop offset="0" class="kad"/><stop offset=".273" class="ka"/><stop offset=".346" class="kb"/><stop offset=".418" class="kc"/><stop offset=".478" class="kd"/><stop offset=".529" class="ke"/><stop offset=".576" class="kf"/><stop offset=".615" class="kg"/><stop offset=".649" class="kh"/><stop offset=".679" class="ki"/><stop offset=".7" class="kj"/><stop offset=".73" class="kk"/><stop offset=".764" class="kl"/><stop offset=".799" class="km"/><stop offset=".826" class="kn"/><stop offset=".845" class="ko"/><stop offset=".864" class="kp"/><stop offset=".886" class="kq"/><stop offset=".901" class="kj"/><stop offset=".92" class="kr"/><stop offset=".936" class="ks"/><stop offset=".953" class="kt"/><stop offset=".969" class="ku"/><stop offset=".985" class="kv"/><stop offset="1" class="kw"/></linearGradient><linearGradient id="a39" gradientUnits="userSpaceOnUse" x1="53.25" y1="0" x2="284.15" y2="0" gradientTransform="matrix(1 0 0.2670 1 -54.79 0)"><stop offset="0" class="kad"/><stop offset=".277" class="ka"/><stop offset=".351" class="kb"/><stop offset=".424" class="kc"/><stop offset=".485" class="kd"/><stop offset=".537" class="ke"/><stop offset=".585" class="kf"/><stop offset=".624" class="kg"/><stop offset=".658" class="kh"/><stop offset=".689" class="ki"/><stop offset=".71" class="kj"/><stop offset=".741" class="kk"/><stop offset=".775" class="kl"/><stop offset=".811" class="km"/><stop offset=".838" class="kn"/><stop offset=".858" class="ko"/><stop offset=".877" class="kp"/><stop offset=".899" class="kq"/><stop offset=".915" class="kj"/><stop offset=".933" class="kr"/><stop offset=".95" class="ks"/><stop offset=".967" class="kt"/><stop offset=".984" class="ku"/><stop offset="1" class="kv"/></linearGradient><linearGradient id="a40" gradientUnits="userSpaceOnUse" x1="54.58" y1="0" x2="285.48" y2="0" gradientTransform="matrix(1 0 0.2670 1 -56.12 0)"><stop offset="0" class="kad"/><stop offset=".277" class="ka"/><stop offset=".351" class="kb"/><stop offset=".424" class="kc"/><stop offset=".485" class="kd"/><stop offset=".537" class="ke"/><stop offset=".585" class="kf"/><stop offset=".624" class="kg"/><stop offset=".658" class="kh"/><stop offset=".689" class="ki"/><stop offset=".71" class="kj"/><stop offset=".741" class="kk"/><stop offset=".775" class="kl"/><stop offset=".811" class="km"/><stop offset=".838" class="kn"/><stop offset=".858" class="ko"/><stop offset=".877" class="kp"/><stop offset=".899" class="kq"/><stop offset=".915" class="kj"/><stop offset=".933" class="kr"/><stop offset=".95" class="ks"/><stop offset=".967" class="kt"/><stop offset=".984" class="ku"/><stop offset="1" class="kv"/></linearGradient><linearGradient id="a41" gradientUnits="userSpaceOnUse" x1="55.69" y1="0" x2="286.59" y2="0" gradientTransform="matrix(1 0 0.2670 1 -57.23 0)"><stop offset="0" class="kad"/><stop offset=".277" class="ka"/><stop offset=".351" class="kb"/><stop offset=".424" class="kc"/><stop offset=".485" class="kd"/><stop offset=".537" class="ke"/><stop offset=".585" class="kf"/><stop offset=".624" class="kg"/><stop offset=".658" class="kh"/><stop offset=".689" class="ki"/><stop offset=".71" class="kj"/><stop offset=".741" class="kk"/><stop offset=".775" class="kl"/><stop offset=".811" class="km"/><stop offset=".838" class="kn"/><stop offset=".858" class="ko"/><stop offset=".877" class="kp"/><stop offset=".899" class="kq"/><stop offset=".915" class="kj"/><stop offset=".933" class="kr"/><stop offset=".95" class="ks"/><stop offset=".967" class="kt"/><stop offset=".984" class="ku"/><stop offset="1" class="kv"/></linearGradient><linearGradient id="b0" gradientUnits="userSpaceOnUse" x1="261.2" y1="0" x2="519.16" y2="0" gradientTransform="matrix(1 0 0.2636 1 -2.43 0)"><stop offset="0" class="kad"/><stop offset=".206" class="ka"/><stop offset=".261" class="kb"/><stop offset=".316" class="kc"/><stop offset=".361" class="kd"/><stop offset=".4" class="ke"/><stop offset=".435" class="kf"/><stop offset=".464" class="kg"/><stop offset=".49" class="kh"/><stop offset=".513" class="ki"/><stop offset=".529" class="kj"/><stop offset=".552" class="kk"/><stop offset=".577" class="kl"/><stop offset=".604" class="km"/><stop offset=".624" class="kn"/><stop offset=".639" class="ko"/><stop offset=".658" class="kp"/><stop offset=".67" class="kae"/><stop offset=".679" class="kaf"/><stop offset=".686" class="kag"/><stop offset=".696" class="kr"/><stop offset=".711" class="kah"/><stop offset=".724" class="kai"/><stop offset=".738" class="kaj"/><stop offset=".76" class="kak"/><stop offset=".817" class="kw"/><stop offset=".857" class="kx"/><stop offset=".897" class="kal"/><stop offset=".945" class="kam"/><stop offset="1" class="kan"/></linearGradient><linearGradient id="b1" gradientUnits="userSpaceOnUse" x1="258.22" y1="0" x2="519.52" y2="0" gradientTransform="matrix(1 0 0.2636 1 -3.22 0)"><stop offset="0" class="kad"/><stop offset=".208" class="ka"/><stop offset=".264" class="kb"/><stop offset=".319" class="kc"/><stop offset=".365" class="kd"/><stop offset=".404" class="ke"/><stop offset=".44" class="kf"/><stop offset=".469" class="kg"/><stop offset=".495" class="kh"/><stop offset=".518" class="ki"/><stop offset=".534" class="kj"/><stop offset=".557" class="kk"/><stop offset=".583" class="kl"/><stop offset=".61" class="km"/><stop offset=".63" class="kn"/><stop offset=".645" class="ko"/><stop offset=".664" class="kp"/><stop offset=".676" class="kae"/><stop offset=".685" class="kaf"/><stop offset=".692" class="kag"/><stop offset=".702" class="kr"/><stop offset=".717" class="kah"/><stop offset=".73" class="kai"/><stop offset=".743" class="kaj"/><stop offset=".765" class="kak"/><stop offset=".82" class="kw"/><stop offset=".86" class="kx"/><stop offset=".899" class="kal"/><stop offset=".946" class="kam"/><stop offset="1" class="kan"/></linearGradient><linearGradient id="b2" gradientUnits="userSpaceOnUse" x1="255.61" y1="0" x2="519.89" y2="0" gradientTransform="matrix(1 0 0.2636 1 -4.01 0)"><stop offset="0" class="kad"/><stop offset=".21" class="ka"/><stop offset=".266" class="kb"/><stop offset=".322" class="kc"/><stop offset=".368" class="kd"/><stop offset=".407" class="ke"/><stop offset=".443" class="kf"/><stop offset=".473" class="kg"/><stop offset=".499" class="kh"/><stop offset=".522" class="ki"/><stop offset=".539" class="kj"/><stop offset=".562" class="kk"/><stop offset=".588" class="kl"/><stop offset=".615" class="km"/><stop offset=".635" class="kn"/><stop offset=".65" class="ko"/><stop offset=".669" class="kp"/><stop offset=".681" class="kae"/><stop offset=".69" class="kaf"/><stop offset=".698" class="kag"/><stop offset=".708" class="kr"/><stop offset=".722" class="kah"/><stop offset=".735" class="kai"/><stop offset=".749" class="kaj"/><stop offset=".77" class="kak"/><stop offset=".824" class="kw"/><stop offset=".862" class="kx"/><stop offset=".901" class="kal"/><stop offset=".947" class="kam"/><stop offset="1" class="kan"/></linearGradient><linearGradient id="b3" gradientUnits="userSpaceOnUse" x1="253.31" y1="0" x2="520.26" y2="0" gradientTransform="matrix(1 0 0.2636 1 -4.8 0)"><stop offset="0" class="kad"/><stop offset=".212" class="ka"/><stop offset=".268" class="kb"/><stop offset=".324" class="kc"/><stop offset=".371" class="kd"/><stop offset=".41" class="ke"/><stop offset=".447" class="kf"/><stop offset=".477" class="kg"/><stop offset=".503" class="kh"/><stop offset=".526" class="ki"/><stop offset=".543" class="kj"/><stop offset=".566" class="kk"/><stop offset=".592" class="kl"/><stop offset=".619" class="km"/><stop offset=".64" class="kn"/><stop offset=".655" class="ko"/><stop offset=".674" class="kp"/><stop offset=".686" class="kae"/><stop offset=".696" class="kaf"/><stop offset=".703" class="kag"/><stop offset=".713" class="kr"/><stop offset=".727" class="kah"/><stop offset=".74" class="kai"/><stop offset=".753" class="kaj"/><stop offset=".774" class="kak"/><stop offset=".827" class="kw"/><stop offset=".865" class="kx"/><stop offset=".902" class="kal"/><stop offset=".947" class="kam"/><stop offset="1" class="kan"/></linearGradient><linearGradient id="b4" gradientUnits="userSpaceOnUse" x1="251.31" y1="0" x2="520.66" y2="0" gradientTransform="matrix(1 0 0.2636 1 -5.59 0)"><stop offset="0" class="kad"/><stop offset=".213" class="ka"/><stop offset=".27" class="kb"/><stop offset=".326" class="kc"/><stop offset=".373" class="kd"/><stop offset=".413" class="ke"/><stop offset=".45" class="kf"/><stop offset=".48" class="kg"/><stop offset=".506" class="kh"/><stop offset=".53" class="ki"/><stop offset=".546" class="kj"/><stop offset=".57" class="kk"/><stop offset=".596" class="kl"/><stop offset=".624" class="km"/><stop offset=".645" class="kn"/><stop offset=".66" class="ko"/><stop offset=".679" class="kp"/><stop offset=".691" class="kae"/><stop offset=".7" class="kaf"/><stop offset=".708" class="kag"/><stop offset=".718" class="kr"/><stop offset=".732" class="kah"/><stop offset=".745" class="kai"/><stop offset=".758" class="kaj"/><stop offset=".778" class="kak"/><stop offset=".83" class="kw"/><stop offset=".867" class="kx"/><stop offset=".904" class="kal"/><stop offset=".948" class="kam"/><stop offset="1" class="kan"/></linearGradient><linearGradient id="b5" gradientUnits="userSpaceOnUse" x1="249.58" y1="0" x2="521.09" y2="0" gradientTransform="matrix(1 0 0.2636 1 -6.38 0)"><stop offset="0" class="kad"/><stop offset=".214" class="ka"/><stop offset=".271" class="kb"/><stop offset=".328" class="kc"/><stop offset=".375" class="kd"/><stop offset=".416" class="ke"/><stop offset=".452" class="kf"/><stop offset=".483" class="kg"/><stop offset=".509" class="kh"/><stop offset=".533" class="ki"/><stop offset=".55" class="kj"/><stop offset=".573" class="kk"/><stop offset=".6" class="kl"/><stop offset=".627" class="km"/><stop offset=".649" class="kn"/><stop offset=".664" class="ko"/><stop offset=".683" class="kp"/><stop offset=".695" class="kae"/><stop offset=".705" class="kaf"/><stop offset=".713" class="kag"/><stop offset=".723" class="kr"/><stop offset=".737" class="kah"/><stop offset=".75" class="kai"/><stop offset=".763" class="kaj"/><stop offset=".783" class="kak"/><stop offset=".833" class="kw"/><stop offset=".869" class="kx"/><stop offset=".905" class="kal"/><stop offset=".949" class="kam"/><stop offset="1" class="kan"/></linearGradient><linearGradient id="b6" gradientUnits="userSpaceOnUse" x1="248.09" y1="0" x2="521.59" y2="0" gradientTransform="matrix(1 0 0.2636 1 -7.17 0)"><stop offset="0" class="kad"/><stop offset=".216" class="ka"/><stop offset=".273" class="kb"/><stop offset=".33" class="kc"/><stop offset=".377" class="kd"/><stop offset=".418" class="ke"/><stop offset=".455" class="kf"/><stop offset=".485" class="kg"/><stop offset=".512" class="kh"/><stop offset=".536" class="ki"/><stop offset=".552" class="kj"/><stop offset=".576" class="kk"/><stop offset=".603" class="kl"/><stop offset=".631" class="km"/><stop offset=".652" class="kn"/><stop offset=".667" class="ko"/><stop offset=".687" class="kp"/><stop offset=".7" class="kae"/><stop offset=".71" class="kaf"/><stop offset=".718" class="kag"/><stop offset=".728" class="kr"/><stop offset=".742" class="kah"/><stop offset=".755" class="kai"/><stop offset=".768" class="kaj"/><stop offset=".787" class="kak"/><stop offset=".835" class="kw"/><stop offset=".871" class="kx"/><stop offset=".906" class="kal"/><stop offset=".95" class="kam"/><stop offset="1" class="kan"/></linearGradient><linearGradient id="b7" gradientUnits="userSpaceOnUse" x1="246.81" y1="0" x2="522.23" y2="0" gradientTransform="matrix(1 0 0.2636 1 -7.96 0)"><stop offset="0" class="kad"/><stop offset=".217" class="ka"/><stop offset=".274" class="kb"/><stop offset=".332" class="kc"/><stop offset=".379" class="kd"/><stop offset=".419" class="ke"/><stop offset=".457" class="kf"/><stop offset=".487" class="kg"/><stop offset=".514" class="kh"/><stop offset=".538" class="ki"/><stop offset=".555" class="kj"/><stop offset=".578" class="kk"/><stop offset=".606" class="kl"/><stop offset=".633" class="km"/><stop offset=".655" class="kn"/><stop offset=".67" class="ko"/><stop offset=".69" class="kp"/><stop offset=".704" class="kae"/><stop offset=".716" class="kaf"/><stop offset=".724" class="kag"/><stop offset=".734" class="kr"/><stop offset=".748" class="kah"/><stop offset=".761" class="kai"/><stop offset=".774" class="kaj"/><stop offset=".792" class="kak"/><stop offset=".838" class="kw"/><stop offset=".872" class="kx"/><stop offset=".908" class="kal"/><stop offset=".95" class="kam"/><stop offset="1" class="kan"/></linearGradient><linearGradient id="b8" gradientUnits="userSpaceOnUse" x1="245.73" y1="0" x2="509.42" y2="0" gradientTransform="matrix(1 0 0.2636 1 -8.75 0)"><stop offset="0" class="kad"/><stop offset=".228" class="ka"/><stop offset=".289" class="kb"/><stop offset=".35" class="kc"/><stop offset=".4" class="kd"/><stop offset=".443" class="ke"/><stop offset=".482" class="kf"/><stop offset=".514" class="kg"/><stop offset=".542" class="kh"/><stop offset=".567" class="ki"/><stop offset=".585" class="kj"/><stop offset=".61" class="kk"/><stop offset=".639" class="kl"/><stop offset=".668" class="km"/><stop offset=".691" class="kn"/><stop offset=".707" class="ko"/><stop offset=".73" class="kp"/><stop offset=".746" class="kae"/><stop offset=".759" class="kaf"/><stop offset=".77" class="kag"/><stop offset=".78" class="kr"/><stop offset=".795" class="kah"/><stop offset=".808" class="kai"/><stop offset=".821" class="kaj"/><stop offset=".84" class="kak"/><stop offset=".885" class="kw"/><stop offset=".919" class="kx"/><stop offset=".956" class="kal"/><stop offset="1" class="kam"/></linearGradient><linearGradient id="b9" gradientUnits="userSpaceOnUse" x1="244.83" y1="0" x2="510.56" y2="0" gradientTransform="matrix(1 0 0.2636 1 -9.54 0)"><stop offset="0" class="kad"/><stop offset=".229" class="ka"/><stop offset=".289" class="kb"/><stop offset=".35" class="kc"/><stop offset=".4" class="kd"/><stop offset=".443" class="ke"/><stop offset=".482" class="kf"/><stop offset=".515" class="kg"/><stop offset=".543" class="kh"/><stop offset=".568" class="ki"/><stop offset=".586" class="kj"/><stop offset=".611" class="kk"/><stop offset=".64" class="kl"/><stop offset=".669" class="km"/><stop offset=".691" class="kn"/><stop offset=".708" class="ko"/><stop offset=".733" class="kp"/><stop offset=".752" class="kae"/><stop offset=".767" class="kaf"/><stop offset=".78" class="kag"/><stop offset=".79" class="kr"/><stop offset=".805" class="kah"/><stop offset=".818" class="kai"/><stop offset=".83" class="kaj"/><stop offset=".847" class="kak"/><stop offset=".888" class="kw"/><stop offset=".921" class="kx"/><stop offset=".957" class="kal"/><stop offset="1" class="kam"/></linearGradient><linearGradient id="b10" gradientUnits="userSpaceOnUse" x1="244.09" y1="0" x2="511.93" y2="0" gradientTransform="matrix(1 0 0.2636 1 -10.33 0)"><stop offset="0" class="kad"/><stop offset=".229" class="ka"/><stop offset=".289" class="kb"/><stop offset=".35" class="kc"/><stop offset=".4" class="kd"/><stop offset=".443" class="ke"/><stop offset=".482" class="kf"/><stop offset=".515" class="kg"/><stop offset=".543" class="kh"/><stop offset=".568" class="ki"/><stop offset=".586" class="kj"/><stop offset=".611" class="kk"/><stop offset=".64" class="kl"/><stop offset=".669" class="km"/><stop offset=".692" class="kn"/><stop offset=".708" class="ko"/><stop offset=".737" class="kp"/><stop offset=".759" class="kae"/><stop offset=".777" class="kaf"/><stop offset=".791" class="kag"/><stop offset=".801" class="kr"/><stop offset=".816" class="kah"/><stop offset=".829" class="kai"/><stop offset=".84" class="kaj"/><stop offset=".856" class="kak"/><stop offset=".892" class="kw"/><stop offset=".922" class="kx"/><stop offset=".957" class="kal"/><stop offset="1" class="kam"/></linearGradient><linearGradient id="b11" gradientUnits="userSpaceOnUse" x1="243.49" y1="0" x2="513.45" y2="0" gradientTransform="matrix(1 0 0.2636 1 -11.12 0)"><stop offset="0" class="kad"/><stop offset=".229" class="ka"/><stop offset=".289" class="kb"/><stop offset=".35" class="kc"/><stop offset=".4" class="kd"/><stop offset=".443" class="ke"/><stop offset=".482" class="kf"/><stop offset=".514" class="kg"/><stop offset=".543" class="kh"/><stop offset=".568" class="ki"/><stop offset=".586" class="kj"/><stop offset=".611" class="kk"/><stop offset=".639" class="kl"/><stop offset=".669" class="km"/><stop offset=".691" class="kn"/><stop offset=".707" class="ko"/><stop offset=".74" class="kp"/><stop offset=".766" class="kae"/><stop offset=".787" class="kaf"/><stop offset=".804" class="kag"/><stop offset=".814" class="kr"/><stop offset=".828" class="kah"/><stop offset=".842" class="kai"/><stop offset=".852" class="kaj"/><stop offset=".865" class="kak"/><stop offset=".896" class="kw"/><stop offset=".923" class="kx"/><stop offset=".958" class="kal"/><stop offset="1" class="kam"/></linearGradient><linearGradient id="b12" gradientUnits="userSpaceOnUse" x1="243.03" y1="0" x2="514.97" y2="0" gradientTransform="matrix(1 0 0.2636 1 -11.92 0)"><stop offset="0" class="kad"/><stop offset=".228" class="ka"/><stop offset=".289" class="kb"/><stop offset=".35" class="kc"/><stop offset=".4" class="kd"/><stop offset=".442" class="ke"/><stop offset=".482" class="kf"/><stop offset=".514" class="kg"/><stop offset=".542" class="kh"/><stop offset=".567" class="ki"/><stop offset=".585" class="kj"/><stop offset=".61" class="kk"/><stop offset=".639" class="kl"/><stop offset=".668" class="km"/><stop offset=".69" class="kn"/><stop offset=".707" class="ko"/><stop offset=".743" class="kp"/><stop offset=".773" class="kae"/><stop offset=".797" class="kaf"/><stop offset=".816" class="kag"/><stop offset=".826" class="kr"/><stop offset=".841" class="kah"/><stop offset=".854" class="kai"/><stop offset=".863" class="kaj"/><stop offset=".874" class="kak"/><stop offset=".9" class="kw"/><stop offset=".924" class="kx"/><stop offset=".959" class="kal"/><stop offset="1" class="kam"/></linearGradient><linearGradient id="b13" gradientUnits="userSpaceOnUse" x1="242.69" y1="0" x2="516.25" y2="0" gradientTransform="matrix(1 0 0.2636 1 -12.71 0)"><stop offset="0" class="kad"/><stop offset=".228" class="ka"/><stop offset=".289" class="kb"/><stop offset=".35" class="kc"/><stop offset=".4" class="kd"/><stop offset=".442" class="ke"/><stop offset=".482" class="kf"/><stop offset=".514" class="kg"/><stop offset=".542" class="kh"/><stop offset=".567" class="ki"/><stop offset=".585" class="kj"/><stop offset=".61" class="kk"/><stop offset=".639" class="kl"/><stop offset=".668" class="km"/><stop offset=".69" class="kn"/><stop offset=".706" class="ko"/><stop offset=".746" class="kp"/><stop offset=".779" class="kae"/><stop offset=".805" class="kaf"/><stop offset=".826" class="kag"/><stop offset=".836" class="kr"/><stop offset=".85" class="kah"/><stop offset=".864" class="kai"/><stop offset=".872" class="kaj"/><stop offset=".882" class="kak"/><stop offset=".903" class="kw"/><stop offset=".925" class="kx"/><stop offset=".959" class="kal"/><stop offset="1" class="kam"/></linearGradient><linearGradient id="b14" gradientUnits="userSpaceOnUse" x1="242.45" y1="0" x2="517.1" y2="0" gradientTransform="matrix(1 0 0.2636 1 -13.5 0)"><stop offset="0" class="kad"/><stop offset=".229" class="ka"/><stop offset=".289" class="kb"/><stop offset=".35" class="kc"/><stop offset=".4" class="kd"/><stop offset=".443" class="ke"/><stop offset=".482" class="kf"/><stop offset=".514" class="kg"/><stop offset=".543" class="kh"/><stop offset=".568" class="ki"/><stop offset=".586" class="kj"/><stop offset=".611" class="kk"/><stop offset=".639" class="kl"/><stop offset=".669" class="km"/><stop offset=".691" class="kn"/><stop offset=".707" class="ko"/><stop offset=".748" class="kp"/><stop offset=".782" class="kae"/><stop offset=".81" class="kaf"/><stop offset=".832" class="kag"/><stop offset=".842" class="kr"/><stop offset=".856" class="kah"/><stop offset=".869" class="kai"/><stop offset=".878" class="kaj"/><stop offset=".887" class="kak"/><stop offset=".905" class="kw"/><stop offset=".926" class="kx"/><stop offset=".96" class="kal"/><stop offset="1" class="kam"/></linearGradient><linearGradient id="b15" gradientUnits="userSpaceOnUse" x1="242.31" y1="0" x2="517.42" y2="0" gradientTransform="matrix(1 0 0.2636 1 -14.29 0)"><stop offset="0" class="kad"/><stop offset=".229" class="ka"/><stop offset=".29" class="kb"/><stop offset=".351" class="kc"/><stop offset=".401" class="kd"/><stop offset=".444" class="ke"/><stop offset=".484" class="kf"/><stop offset=".516" class="kg"/><stop offset=".545" class="kh"/><stop offset=".57" class="ki"/><stop offset=".588" class="kj"/><stop offset=".613" class="kk"/><stop offset=".641" class="kl"/><stop offset=".671" class="km"/><stop offset=".693" class="kn"/><stop offset=".71" class="ko"/><stop offset=".75" class="kp"/><stop offset=".784" class="kae"/><stop offset=".811" class="kaf"/><stop offset=".833" class="kag"/><stop offset=".843" class="kr"/><stop offset=".857" class="kah"/><stop offset=".87" class="kai"/><stop offset=".879" class="kaj"/><stop offset=".888" class="kak"/><stop offset=".906" class="kw"/><stop offset=".927" class="kx"/><stop offset=".96" class="kal"/><stop offset="1" class="kam"/></linearGradient><linearGradient id="b16" gradientUnits="userSpaceOnUse" x1="242.26" y1="0" x2="517.25" y2="0" gradientTransform="matrix(1 0 0.2636 1 -15.08 0)"><stop offset="0" class="kad"/><stop offset=".23" class="ka"/><stop offset=".292" class="kb"/><stop offset=".353" class="kc"/><stop offset=".403" class="kd"/><stop offset=".446" class="ke"/><stop offset=".486" class="kf"/><stop offset=".518" class="kg"/><stop offset=".547" class="kh"/><stop offset=".572" class="ki"/><stop offset=".59" class="kj"/><stop offset=".616" class="kk"/><stop offset=".644" class="kl"/><stop offset=".674" class="km"/><stop offset=".697" class="kn"/><stop offset=".713" class="ko"/><stop offset=".751" class="kp"/><stop offset=".783" class="kae"/><stop offset=".808" class="kaf"/><stop offset=".829" class="kag"/><stop offset=".839" class="kr"/><stop offset=".854" class="kah"/><stop offset=".867" class="kai"/><stop offset=".876" class="kaj"/><stop offset=".886" class="kak"/><stop offset=".906" class="kw"/><stop offset=".928" class="kx"/><stop offset=".96" class="kal"/><stop offset="1" class="kam"/></linearGradient><linearGradient id="b17" gradientUnits="userSpaceOnUse" x1="242.29" y1="0" x2="516.72" y2="0" gradientTransform="matrix(1 0 0.2636 1 -15.87 0)"><stop offset="0" class="kad"/><stop offset=".232" class="ka"/><stop offset=".293" class="kb"/><stop offset=".355" class="kc"/><stop offset=".406" class="kd"/><stop offset=".449" class="ke"/><stop offset=".489" class="kf"/><stop offset=".521" class="kg"/><stop offset=".55" class="kh"/><stop offset=".576" class="ki"/><stop offset=".594" class="kj"/><stop offset=".619" class="kk"/><stop offset=".648" class="kl"/><stop offset=".678" class="km"/><stop offset=".701" class="kn"/><stop offset=".717" class="ko"/><stop offset=".752" class="kp"/><stop offset=".78" class="kae"/><stop offset=".803" class="kaf"/><stop offset=".822" class="kag"/><stop offset=".833" class="kr"/><stop offset=".847" class="kah"/><stop offset=".86" class="kai"/><stop offset=".87" class="kaj"/><stop offset=".881" class="kak"/><stop offset=".905" class="kw"/><stop offset=".928" class="kx"/><stop offset=".96" class="kal"/><stop offset="1" class="kam"/></linearGradient><linearGradient id="b18" gradientUnits="userSpaceOnUse" x1="242.39" y1="0" x2="516.08" y2="0" gradientTransform="matrix(1 0 0.2636 1 -16.66 0)"><stop offset="0" class="kad"/><stop offset=".233" class="ka"/><stop offset=".295" class="kb"/><stop offset=".357" class="kc"/><stop offset=".408" class="kd"/><stop offset=".452" class="ke"/><stop offset=".492" class="kf"/><stop offset=".525" class="kg"/><stop offset=".554" class="kh"/><stop offset=".579" class="ki"/><stop offset=".598" class="kj"/><stop offset=".623" class="kk"/><stop offset=".652" class="kl"/><stop offset=".682" class="km"/><stop offset=".705" class="kn"/><stop offset=".721" class="ko"/><stop offset=".752" class="kp"/><stop offset=".777" class="kae"/><stop offset=".797" class="kaf"/><stop offset=".814" class="kag"/><stop offset=".824" class="kr"/><stop offset=".839" class="kah"/><stop offset=".852" class="kai"/><stop offset=".863" class="kaj"/><stop offset=".876" class="kak"/><stop offset=".904" class="kw"/><stop offset=".929" class="kx"/><stop offset=".961" class="kal"/><stop offset="1" class="kam"/></linearGradient><linearGradient id="b19" gradientUnits="userSpaceOnUse" x1="242.56" y1="0" x2="515.51" y2="0" gradientTransform="matrix(1 0 0.2636 1 -17.45 0)"><stop offset="0" class="kad"/><stop offset=".235" class="ka"/><stop offset=".297" class="kb"/><stop offset=".359" class="kc"/><stop offset=".411" class="kd"/><stop offset=".454" class="ke"/><stop offset=".495" class="kf"/><stop offset=".528" class="kg"/><stop offset=".557" class="kh"/><stop offset=".583" class="ki"/><stop offset=".601" class="kj"/><stop offset=".627" class="kk"/><stop offset=".656" class="kl"/><stop offset=".686" class="km"/><stop offset=".709" class="kn"/><stop offset=".726" class="ko"/><stop offset=".753" class="kp"/><stop offset=".774" class="kae"/><stop offset=".792" class="kaf"/><stop offset=".806" class="kag"/><stop offset=".817" class="kr"/><stop offset=".832" class="kah"/><stop offset=".845" class="kai"/><stop offset=".856" class="kaj"/><stop offset=".871" class="kak"/><stop offset=".902" class="kw"/><stop offset=".929" class="kx"/><stop offset=".961" class="kal"/><stop offset="1" class="kam"/></linearGradient><linearGradient id="b20" gradientUnits="userSpaceOnUse" x1="242.79" y1="0" x2="515.14" y2="0" gradientTransform="matrix(1 0 0.2636 1 -18.24 0)"><stop offset="0" class="kad"/><stop offset=".236" class="ka"/><stop offset=".298" class="kb"/><stop offset=".361" class="kc"/><stop offset=".413" class="kd"/><stop offset=".457" class="ke"/><stop offset=".497" class="kf"/><stop offset=".53" class="kg"/><stop offset=".56" class="kh"/><stop offset=".586" class="ki"/><stop offset=".604" class="kj"/><stop offset=".63" class="kk"/><stop offset=".659" class="kl"/><stop offset=".69" class="km"/><stop offset=".713" class="kn"/><stop offset=".729" class="ko"/><stop offset=".754" class="kp"/><stop offset=".772" class="kae"/><stop offset=".788" class="kaf"/><stop offset=".801" class="kag"/><stop offset=".811" class="kr"/><stop offset=".826" class="kah"/><stop offset=".839" class="kai"/><stop offset=".852" class="kaj"/><stop offset=".868" class="kak"/><stop offset=".902" class="kw"/><stop offset=".93" class="kx"/><stop offset=".961" class="kal"/><stop offset="1" class="kam"/></linearGradient><linearGradient id="b21" gradientUnits="userSpaceOnUse" x1="243.07" y1="0" x2="515.01" y2="0" gradientTransform="matrix(1 0 0.2636 1 -19.03 0)"><stop offset="0" class="kad"/><stop offset=".237" class="ka"/><stop offset=".3" class="kb"/><stop offset=".362" class="kc"/><stop offset=".414" class="kd"/><stop offset=".459" class="ke"/><stop offset=".499" class="kf"/><stop offset=".533" class="kg"/><stop offset=".562" class="kh"/><stop offset=".588" class="ki"/><stop offset=".607" class="kj"/><stop offset=".632" class="kk"/><stop offset=".662" class="kl"/><stop offset=".692" class="km"/><stop offset=".716" class="kn"/><stop offset=".732" class="ko"/><stop offset=".754" class="kp"/><stop offset=".771" class="kae"/><stop offset=".786" class="kaf"/><stop offset=".797" class="kag"/><stop offset=".808" class="kr"/><stop offset=".823" class="kah"/><stop offset=".836" class="kai"/><stop offset=".849" class="kaj"/><stop offset=".866" class="kak"/><stop offset=".902" class="kw"/><stop offset=".93" class="kx"/><stop offset=".961" class="kal"/><stop offset="1" class="kam"/></linearGradient><linearGradient id="b22" gradientUnits="userSpaceOnUse" x1="243.4" y1="0" x2="515.09" y2="0" gradientTransform="matrix(1 0 0.2636 1 -19.82 0)"><stop offset="0" class="kad"/><stop offset=".237" class="ka"/><stop offset=".301" class="kb"/><stop offset=".364" class="kc"/><stop offset=".416" class="kd"/><stop offset=".46" class="ke"/><stop offset=".501" class="kf"/><stop offset=".534" class="kg"/><stop offset=".564" class="kh"/><stop offset=".59" class="ki"/><stop offset=".608" class="kj"/><stop offset=".634" class="kk"/><stop offset=".664" class="kl"/><stop offset=".695" class="km"/><stop offset=".718" class="kn"/><stop offset=".735" class="ko"/><stop offset=".755" class="kp"/><stop offset=".771" class="kae"/><stop offset=".785" class="kaf"/><stop offset=".795" class="kag"/><stop offset=".806" class="kr"/><stop offset=".821" class="kah"/><stop offset=".835" class="kai"/><stop offset=".848" class="kaj"/><stop offset=".865" class="kak"/><stop offset=".902" class="kw"/><stop offset=".931" class="kx"/><stop offset=".962" class="kal"/><stop offset="1" class="kam"/></linearGradient><linearGradient id="b23" gradientUnits="userSpaceOnUse" x1="243.77" y1="0" x2="515.34" y2="0" gradientTransform="matrix(1 0 0.2636 1 -20.61 0)"><stop offset="0" class="kad"/><stop offset=".238" class="ka"/><stop offset=".301" class="kb"/><stop offset=".365" class="kc"/><stop offset=".417" class="kd"/><stop offset=".461" class="ke"/><stop offset=".502" class="kf"/><stop offset=".536" class="kg"/><stop offset=".565" class="kh"/><stop offset=".591" class="ki"/><stop offset=".61" class="kj"/><stop offset=".636" class="kk"/><stop offset=".666" class="kl"/><stop offset=".696" class="km"/><stop offset=".72" class="kn"/><stop offset=".737" class="ko"/><stop offset=".757" class="kp"/><stop offset=".772" class="kae"/><stop offset=".785" class="kaf"/><stop offset=".795" class="kag"/><stop offset=".806" class="kr"/><stop offset=".821" class="kah"/><stop offset=".835" class="kai"/><stop offset=".848" class="kaj"/><stop offset=".865" class="kak"/><stop offset=".902" class="kw"/><stop offset=".931" class="kx"/><stop offset=".962" class="kal"/><stop offset="1" class="kam"/></linearGradient><linearGradient id="b24" gradientUnits="userSpaceOnUse" x1="244.19" y1="0" x2="515.68" y2="0" gradientTransform="matrix(1 0 0.2636 1 -21.41 0)"><stop offset="0" class="kad"/><stop offset=".239" class="ka"/><stop offset=".302" class="kb"/><stop offset=".365" class="kc"/><stop offset=".418" class="kd"/><stop offset=".462" class="ke"/><stop offset=".503" class="kf"/><stop offset=".537" class="kg"/><stop offset=".567" class="kh"/><stop offset=".593" class="ki"/><stop offset=".611" class="kj"/><stop offset=".637" class="kk"/><stop offset=".667" class="kl"/><stop offset=".698" class="km"/><stop offset=".721" class="kn"/><stop offset=".738" class="ko"/><stop offset=".758" class="kp"/><stop offset=".772" class="kae"/><stop offset=".786" class="kaf"/><stop offset=".796" class="kag"/><stop offset=".807" class="kr"/><stop offset=".822" class="kah"/><stop offset=".835" class="kai"/><stop offset=".849" class="kaj"/><stop offset=".866" class="kak"/><stop offset=".903" class="kw"/><stop offset=".932" class="kx"/><stop offset=".962" class="kal"/><stop offset="1" class="kam"/></linearGradient><linearGradient id="b25" gradientUnits="userSpaceOnUse" x1="244.64" y1="0" x2="516.08" y2="0" gradientTransform="matrix(1 0 0.2636 1 -22.2 0)"><stop offset="0" class="kad"/><stop offset=".239" class="ka"/><stop offset=".303" class="kb"/><stop offset=".366" class="kc"/><stop offset=".418" class="kd"/><stop offset=".463" class="ke"/><stop offset=".504" class="kf"/><stop offset=".538" class="kg"/><stop offset=".568" class="kh"/><stop offset=".594" class="ki"/><stop offset=".612" class="kj"/><stop offset=".639" class="kk"/><stop offset=".669" class="kl"/><stop offset=".699" class="km"/><stop offset=".723" class="kn"/><stop offset=".739" class="ko"/><stop offset=".759" class="kp"/><stop offset=".774" class="kae"/><stop offset=".787" class="kaf"/><stop offset=".797" class="kag"/><stop offset=".808" class="kr"/><stop offset=".823" class="kah"/><stop offset=".837" class="kai"/><stop offset=".85" class="kaj"/><stop offset=".868" class="kak"/><stop offset=".904" class="kw"/><stop offset=".932" class="kx"/><stop offset=".963" class="kal"/><stop offset="1" class="kam"/></linearGradient><linearGradient id="b26" gradientUnits="userSpaceOnUse" x1="245.12" y1="0" x2="516.51" y2="0" gradientTransform="matrix(1 0 0.2636 1 -22.99 0)"><stop offset="0" class="kad"/><stop offset=".239" class="ka"/><stop offset=".303" class="kb"/><stop offset=".367" class="kc"/><stop offset=".419" class="kd"/><stop offset=".464" class="ke"/><stop offset=".505" class="kf"/><stop offset=".539" class="kg"/><stop offset=".569" class="kh"/><stop offset=".595" class="ki"/><stop offset=".614" class="kj"/><stop offset=".64" class="kk"/><stop offset=".67" class="kl"/><stop offset=".7" class="km"/><stop offset=".724" class="kn"/><stop offset=".741" class="ko"/><stop offset=".76" class="kp"/><stop offset=".775" class="kae"/><stop offset=".788" class="kaf"/><stop offset=".799" class="kag"/><stop offset=".81" class="kr"/><stop offset=".825" class="kah"/><stop offset=".838" class="kai"/><stop offset=".852" class="kaj"/><stop offset=".869" class="kak"/><stop offset=".905" class="kw"/><stop offset=".933" class="kx"/><stop offset=".963" class="kal"/><stop offset="1" class="kam"/></linearGradient><linearGradient id="b27" gradientUnits="userSpaceOnUse" x1="245.63" y1="0" x2="516.95" y2="0" gradientTransform="matrix(1 0 0.2636 1 -23.78 0)"><stop offset="0" class="kad"/><stop offset=".24" class="ka"/><stop offset=".304" class="kb"/><stop offset=".367" class="kc"/><stop offset=".42" class="kd"/><stop offset=".465" class="ke"/><stop offset=".506" class="kf"/><stop offset=".54" class="kg"/><stop offset=".57" class="kh"/><stop offset=".596" class="ki"/><stop offset=".615" class="kj"/><stop offset=".641" class="kk"/><stop offset=".671" class="kl"/><stop offset=".701" class="km"/><stop offset=".725" class="kn"/><stop offset=".742" class="ko"/><stop offset=".761" class="kp"/><stop offset=".776" class="kae"/><stop offset=".79" class="kaf"/><stop offset=".8" class="kag"/><stop offset=".812" class="kr"/><stop offset=".827" class="kah"/><stop offset=".84" class="kai"/><stop offset=".854" class="kaj"/><stop offset=".871" class="kak"/><stop offset=".906" class="kw"/><stop offset=".934" class="kx"/><stop offset=".963" class="kal"/><stop offset="1" class="kam"/></linearGradient><linearGradient id="b28" gradientUnits="userSpaceOnUse" x1="246.17" y1="0" x2="517.4" y2="0" gradientTransform="matrix(1 0 0.2636 1 -24.57 0)"><stop offset="0" class="kad"/><stop offset=".24" class="ka"/><stop offset=".304" class="kb"/><stop offset=".368" class="kc"/><stop offset=".42" class="kd"/><stop offset=".465" class="ke"/><stop offset=".507" class="kf"/><stop offset=".54" class="kg"/><stop offset=".57" class="kh"/><stop offset=".597" class="ki"/><stop offset=".616" class="kj"/><stop offset=".642" class="kk"/><stop offset=".672" class="kl"/><stop offset=".703" class="km"/><stop offset=".726" class="kn"/><stop offset=".743" class="ko"/><stop offset=".763" class="kp"/><stop offset=".777" class="kae"/><stop offset=".791" class="kaf"/><stop offset=".802" class="kag"/><stop offset=".813" class="kr"/><stop offset=".828" class="kah"/><stop offset=".842" class="kai"/><stop offset=".855" class="kaj"/><stop offset=".873" class="kak"/><stop offset=".907" class="kw"/><stop offset=".934" class="kx"/><stop offset=".963" class="kal"/><stop offset="1" class="kam"/></linearGradient><linearGradient id="b29" gradientUnits="userSpaceOnUse" x1="246.73" y1="0" x2="517.84" y2="0" gradientTransform="matrix(1 0 0.2636 1 -25.36 0)"><stop offset="0" class="kad"/><stop offset=".241" class="ka"/><stop offset=".304" class="kb"/><stop offset=".368" class="kc"/><stop offset=".421" class="kd"/><stop offset=".466" class="ke"/><stop offset=".507" class="kf"/><stop offset=".541" class="kg"/><stop offset=".571" class="kh"/><stop offset=".598" class="ki"/><stop offset=".616" class="kj"/><stop offset=".643" class="kk"/><stop offset=".673" class="kl"/><stop offset=".704" class="km"/><stop offset=".727" class="kn"/><stop offset=".744" class="ko"/><stop offset=".764" class="kp"/><stop offset=".779" class="kae"/><stop offset=".793" class="kaf"/><stop offset=".804" class="kag"/><stop offset=".815" class="kr"/><stop offset=".83" class="kah"/><stop offset=".844" class="kai"/><stop offset=".857" class="kaj"/><stop offset=".874" class="kak"/><stop offset=".908" class="kw"/><stop offset=".935" class="kx"/><stop offset=".964" class="kal"/><stop offset="1" class="kam"/></linearGradient><linearGradient id="b30" gradientUnits="userSpaceOnUse" x1="247.31" y1="0" x2="518.29" y2="0" gradientTransform="matrix(1 0 0.2636 1 -26.15 0)"><stop offset="0" class="kad"/><stop offset=".241" class="ka"/><stop offset=".305" class="kb"/><stop offset=".369" class="kc"/><stop offset=".422" class="kd"/><stop offset=".467" class="ke"/><stop offset=".508" class="kf"/><stop offset=".542" class="kg"/><stop offset=".572" class="kh"/><stop offset=".599" class="ki"/><stop offset=".617" class="kj"/><stop offset=".644" class="kk"/><stop offset=".674" class="kl"/><stop offset=".705" class="km"/><stop offset=".728" class="kn"/><stop offset=".745" class="ko"/><stop offset=".765" class="kp"/><stop offset=".78" class="kae"/><stop offset=".794" class="kaf"/><stop offset=".805" class="kag"/><stop offset=".817" class="kr"/><stop offset=".832" class="kah"/><stop offset=".845" class="kai"/><stop offset=".859" class="kaj"/><stop offset=".876" class="kak"/><stop offset=".909" class="kw"/><stop offset=".936" class="kx"/><stop offset=".964" class="kal"/><stop offset="1" class="kam"/></linearGradient><linearGradient id="b31" gradientUnits="userSpaceOnUse" x1="247.92" y1="0" x2="518.74" y2="0" gradientTransform="matrix(1 0 0.2636 1 -26.94 0)"><stop offset="0" class="kad"/><stop offset=".241" class="ka"/><stop offset=".305" class="kb"/><stop offset=".369" class="kc"/><stop offset=".422" class="kd"/><stop offset=".468" class="ke"/><stop offset=".509" class="kf"/><stop offset=".543" class="kg"/><stop offset=".573" class="kh"/><stop offset=".599" class="ki"/><stop offset=".618" class="kj"/><stop offset=".645" class="kk"/><stop offset=".675" class="kl"/><stop offset=".706" class="km"/><stop offset=".73" class="kn"/><stop offset=".747" class="ko"/><stop offset=".766" class="kp"/><stop offset=".781" class="kae"/><stop offset=".796" class="kaf"/><stop offset=".807" class="kag"/><stop offset=".818" class="kr"/><stop offset=".833" class="kah"/><stop offset=".847" class="kai"/><stop offset=".861" class="kaj"/><stop offset=".878" class="kak"/><stop offset=".91" class="kw"/><stop offset=".936" class="kx"/><stop offset=".964" class="kal"/><stop offset="1" class="kam"/></linearGradient><linearGradient id="b32" gradientUnits="userSpaceOnUse" x1="248.54" y1="0" x2="509.62" y2="0" gradientTransform="matrix(1 0 0.2636 1 -27.73 0)"><stop offset="0" class="kad"/><stop offset=".251" class="ka"/><stop offset=".317" class="kb"/><stop offset=".384" class="kc"/><stop offset=".438" class="kd"/><stop offset=".485" class="ke"/><stop offset=".528" class="kf"/><stop offset=".564" class="kg"/><stop offset=".595" class="kh"/><stop offset=".622" class="ki"/><stop offset=".642" class="kj"/><stop offset=".669" class="kk"/><stop offset=".701" class="kl"/><stop offset=".733" class="km"/><stop offset=".757" class="kn"/><stop offset=".775" class="ko"/><stop offset=".795" class="kp"/><stop offset=".811" class="kae"/><stop offset=".826" class="kaf"/><stop offset=".838" class="kag"/><stop offset=".85" class="kr"/><stop offset=".866" class="kah"/><stop offset=".88" class="kai"/><stop offset=".894" class="kaj"/><stop offset=".912" class="kak"/><stop offset=".944" class="kw"/><stop offset=".971" class="kx"/><stop offset="1" class="kal"/></linearGradient><linearGradient id="b33" gradientUnits="userSpaceOnUse" x1="249.17" y1="0" x2="510.15" y2="0" gradientTransform="matrix(1 0 0.2636 1 -28.52 0)"><stop offset="0" class="kad"/><stop offset=".251" class="ka"/><stop offset=".317" class="kb"/><stop offset=".384" class="kc"/><stop offset=".439" class="kd"/><stop offset=".486" class="ke"/><stop offset=".529" class="kf"/><stop offset=".564" class="kg"/><stop offset=".596" class="kh"/><stop offset=".623" class="ki"/><stop offset=".643" class="kj"/><stop offset=".67" class="kk"/><stop offset=".701" class="kl"/><stop offset=".734" class="km"/><stop offset=".758" class="kn"/><stop offset=".776" class="ko"/><stop offset=".796" class="kp"/><stop offset=".812" class="kae"/><stop offset=".827" class="kaf"/><stop offset=".839" class="kag"/><stop offset=".851" class="kr"/><stop offset=".867" class="kah"/><stop offset=".882" class="kai"/><stop offset=".896" class="kaj"/><stop offset=".913" class="kak"/><stop offset=".945" class="kw"/><stop offset=".971" class="kx"/><stop offset="1" class="kal"/></linearGradient><linearGradient id="b34" gradientUnits="userSpaceOnUse" x1="249.83" y1="0" x2="510.69" y2="0" gradientTransform="matrix(1 0 0.2636 1 -29.31 0)"><stop offset="0" class="kad"/><stop offset=".251" class="ka"/><stop offset=".318" class="kb"/><stop offset=".384" class="kc"/><stop offset=".439" class="kd"/><stop offset=".486" class="ke"/><stop offset=".53" class="kf"/><stop offset=".565" class="kg"/><stop offset=".596" class="kh"/><stop offset=".624" class="ki"/><stop offset=".643" class="kj"/><stop offset=".671" class="kk"/><stop offset=".702" class="kl"/><stop offset=".734" class="km"/><stop offset=".759" class="kn"/><stop offset=".777" class="ko"/><stop offset=".797" class="kp"/><stop offset=".813" class="kae"/><stop offset=".829" class="kaf"/><stop offset=".841" class="kag"/><stop offset=".853" class="kr"/><stop offset=".869" class="kah"/><stop offset=".883" class="kai"/><stop offset=".897" class="kaj"/><stop offset=".915" class="kak"/><stop offset=".946" class="kw"/><stop offset=".972" class="kx"/><stop offset="1" class="kal"/></linearGradient><linearGradient id="b35" gradientUnits="userSpaceOnUse" x1="250.49" y1="0" x2="511.22" y2="0" gradientTransform="matrix(1 0 0.2636 1 -30.1 0)"><stop offset="0" class="kad"/><stop offset=".251" class="ka"/><stop offset=".318" class="kb"/><stop offset=".385" class="kc"/><stop offset=".44" class="kd"/><stop offset=".487" class="ke"/><stop offset=".53" class="kf"/><stop offset=".566" class="kg"/><stop offset=".597" class="kh"/><stop offset=".624" class="ki"/><stop offset=".644" class="kj"/><stop offset=".672" class="kk"/><stop offset=".703" class="kl"/><stop offset=".735" class="km"/><stop offset=".76" class="kn"/><stop offset=".778" class="ko"/><stop offset=".798" class="kp"/><stop offset=".814" class="kae"/><stop offset=".83" class="kaf"/><stop offset=".842" class="kag"/><stop offset=".854" class="kr"/><stop offset=".87" class="kah"/><stop offset=".885" class="kai"/><stop offset=".899" class="kaj"/><stop offset=".916" class="kak"/><stop offset=".947" class="kw"/><stop offset=".972" class="kx"/><stop offset="1" class="kal"/></linearGradient><linearGradient id="b36" gradientUnits="userSpaceOnUse" x1="251.17" y1="0" x2="511.76" y2="0" gradientTransform="matrix(1 0 0.2636 1 -30.9 0)"><stop offset="0" class="kad"/><stop offset=".252" class="ka"/><stop offset=".318" class="kb"/><stop offset=".385" class="kc"/><stop offset=".44" class="kd"/><stop offset=".488" class="ke"/><stop offset=".531" class="kf"/><stop offset=".566" class="kg"/><stop offset=".598" class="kh"/><stop offset=".625" class="ki"/><stop offset=".645" class="kj"/><stop offset=".672" class="kk"/><stop offset=".704" class="kl"/><stop offset=".736" class="km"/><stop offset=".761" class="kn"/><stop offset=".779" class="ko"/><stop offset=".799" class="kp"/><stop offset=".815" class="kae"/><stop offset=".831" class="kaf"/><stop offset=".844" class="kag"/><stop offset=".856" class="kr"/><stop offset=".872" class="kah"/><stop offset=".886" class="kai"/><stop offset=".9" class="kaj"/><stop offset=".917" class="kak"/><stop offset=".947" class="kw"/><stop offset=".972" class="kx"/><stop offset="1" class="kal"/></linearGradient><linearGradient id="b37" gradientUnits="userSpaceOnUse" x1="251.86" y1="0" x2="512.29" y2="0" gradientTransform="matrix(1 0 0.2636 1 -31.69 0)"><stop offset="0" class="kad"/><stop offset=".252" class="ka"/><stop offset=".319" class="kb"/><stop offset=".386" class="kc"/><stop offset=".441" class="kd"/><stop offset=".488" class="ke"/><stop offset=".531" class="kf"/><stop offset=".567" class="kg"/><stop offset=".598" class="kh"/><stop offset=".626" class="ki"/><stop offset=".646" class="kj"/><stop offset=".673" class="kk"/><stop offset=".705" class="kl"/><stop offset=".737" class="km"/><stop offset=".762" class="kn"/><stop offset=".779" class="ko"/><stop offset=".8" class="kp"/><stop offset=".816" class="kae"/><stop offset=".832" class="kaf"/><stop offset=".845" class="kag"/><stop offset=".857" class="kr"/><stop offset=".873" class="kah"/><stop offset=".888" class="kai"/><stop offset=".902" class="kaj"/><stop offset=".919" class="kak"/><stop offset=".948" class="kw"/><stop offset=".973" class="kx"/><stop offset="1" class="kal"/></linearGradient><linearGradient id="b38" gradientUnits="userSpaceOnUse" x1="252.55" y1="0" x2="512.82" y2="0" gradientTransform="matrix(1 0 0.2636 1 -32.48 0)"><stop offset="0" class="kad"/><stop offset=".252" class="ka"/><stop offset=".319" class="kb"/><stop offset=".386" class="kc"/><stop offset=".441" class="kd"/><stop offset=".489" class="ke"/><stop offset=".532" class="kf"/><stop offset=".567" class="kg"/><stop offset=".599" class="kh"/><stop offset=".627" class="ki"/><stop offset=".646" class="kj"/><stop offset=".674" class="kk"/><stop offset=".705" class="kl"/><stop offset=".738" class="km"/><stop offset=".762" class="kn"/><stop offset=".78" class="ko"/><stop offset=".8" class="kp"/><stop offset=".817" class="kae"/><stop offset=".833" class="kaf"/><stop offset=".846" class="kag"/><stop offset=".859" class="kr"/><stop offset=".875" class="kah"/><stop offset=".889" class="kai"/><stop offset=".903" class="kaj"/><stop offset=".92" class="kak"/><stop offset=".949" class="kw"/><stop offset=".973" class="kx"/><stop offset="1" class="kal"/></linearGradient><linearGradient id="b39" gradientUnits="userSpaceOnUse" x1="253.26" y1="0" x2="513.36" y2="0" gradientTransform="matrix(1 0 0.2636 1 -33.27 0)"><stop offset="0" class="kad"/><stop offset=".252" class="ka"/><stop offset=".32" class="kb"/><stop offset=".387" class="kc"/><stop offset=".442" class="kd"/><stop offset=".489" class="ke"/><stop offset=".533" class="kf"/><stop offset=".568" class="kg"/><stop offset=".6" class="kh"/><stop offset=".627" class="ki"/><stop offset=".647" class="kj"/><stop offset=".675" class="kk"/><stop offset=".706" class="kl"/><stop offset=".738" class="km"/><stop offset=".763" class="kn"/><stop offset=".781" class="ko"/><stop offset=".801" class="kp"/><stop offset=".818" class="kae"/><stop offset=".835" class="kaf"/><stop offset=".848" class="kag"/><stop offset=".86" class="kr"/><stop offset=".876" class="kah"/><stop offset=".891" class="kai"/><stop offset=".905" class="kaj"/><stop offset=".922" class="kak"/><stop offset=".949" class="kw"/><stop offset=".973" class="kx"/><stop offset="1" class="kal"/></linearGradient><linearGradient id="b40" gradientUnits="userSpaceOnUse" x1="253.98" y1="0" x2="513.89" y2="0" gradientTransform="matrix(1 0 0.2636 1 -34.06 0)"><stop offset="0" class="kad"/><stop offset=".253" class="ka"/><stop offset=".32" class="kb"/><stop offset=".387" class="kc"/><stop offset=".442" class="kd"/><stop offset=".49" class="ke"/><stop offset=".533" class="kf"/><stop offset=".569" class="kg"/><stop offset=".6" class="kh"/><stop offset=".628" class="ki"/><stop offset=".648" class="kj"/><stop offset=".675" class="kk"/><stop offset=".707" class="kl"/><stop offset=".739" class="km"/><stop offset=".764" class="kn"/><stop offset=".782" class="ko"/><stop offset=".802" class="kp"/><stop offset=".819" class="kae"/><stop offset=".836" class="kaf"/><stop offset=".849" class="kag"/><stop offset=".861" class="kr"/><stop offset=".878" class="kah"/><stop offset=".892" class="kai"/><stop offset=".907" class="kaj"/><stop offset=".923" class="kak"/><stop offset=".95" class="kw"/><stop offset=".974" class="kx"/><stop offset="1" class="kal"/></linearGradient><linearGradient id="b41" gradientUnits="userSpaceOnUse" x1="254.7" y1="0" x2="514.42" y2="0" gradientTransform="matrix(1 0 0.2636 1 -34.85 0)"><stop offset="0" class="kad"/><stop offset=".253" class="ka"/><stop offset=".32" class="kb"/><stop offset=".387" class="kc"/><stop offset=".443" class="kd"/><stop offset=".49" class="ke"/><stop offset=".534" class="kf"/><stop offset=".569" class="kg"/><stop offset=".601" class="kh"/><stop offset=".629" class="ki"/><stop offset=".648" class="kj"/><stop offset=".676" class="kk"/><stop offset=".708" class="kl"/><stop offset=".74" class="km"/><stop offset=".765" class="kn"/><stop offset=".783" class="ko"/><stop offset=".803" class="kp"/><stop offset=".82" class="kae"/><stop offset=".837" class="kaf"/><stop offset=".85" class="kag"/><stop offset=".863" class="kr"/><stop offset=".879" class="kah"/><stop offset=".894" class="kai"/><stop offset=".908" class="kaj"/><stop offset=".925" class="kak"/><stop offset=".951" class="kw"/><stop offset=".974" class="kx"/><stop offset="1" class="kal"/></linearGradient><linearGradient id="b42" gradientUnits="userSpaceOnUse" x1="255.43" y1="0" x2="514.96" y2="0" gradientTransform="matrix(1 0 0.2636 1 -35.64 0)"><stop offset="0" class="kad"/><stop offset=".253" class="ka"/><stop offset=".321" class="kb"/><stop offset=".388" class="kc"/><stop offset=".443" class="kd"/><stop offset=".491" class="ke"/><stop offset=".534" class="kf"/><stop offset=".57" class="kg"/><stop offset=".602" class="kh"/><stop offset=".629" class="ki"/><stop offset=".649" class="kj"/><stop offset=".677" class="kk"/><stop offset=".708" class="kl"/><stop offset=".741" class="km"/><stop offset=".766" class="kn"/><stop offset=".784" class="ko"/><stop offset=".804" class="kp"/><stop offset=".821" class="kae"/><stop offset=".838" class="kaf"/><stop offset=".852" class="kag"/><stop offset=".864" class="kr"/><stop offset=".88" class="kah"/><stop offset=".895" class="kai"/><stop offset=".91" class="kaj"/><stop offset=".926" class="kak"/><stop offset=".951" class="kw"/><stop offset=".974" class="kx"/><stop offset="1" class="kal"/></linearGradient><linearGradient id="b43" gradientUnits="userSpaceOnUse" x1="256.16" y1="0" x2="515.49" y2="0" gradientTransform="matrix(1 0 0.2636 1 -36.43 0)"><stop offset="0" class="kad"/><stop offset=".254" class="ka"/><stop offset=".321" class="kb"/><stop offset=".388" class="kc"/><stop offset=".444" class="kd"/><stop offset=".491" class="ke"/><stop offset=".535" class="kf"/><stop offset=".57" class="kg"/><stop offset=".602" class="kh"/><stop offset=".63" class="ki"/><stop offset=".65" class="kj"/><stop offset=".677" class="kk"/><stop offset=".709" class="kl"/><stop offset=".742" class="km"/><stop offset=".767" class="kn"/><stop offset=".784" class="ko"/><stop offset=".805" class="kp"/><stop offset=".822" class="kae"/><stop offset=".839" class="kaf"/><stop offset=".853" class="kag"/><stop offset=".866" class="kr"/><stop offset=".882" class="kah"/><stop offset=".897" class="kai"/><stop offset=".911" class="kaj"/><stop offset=".927" class="kak"/><stop offset=".952" class="kw"/><stop offset=".974" class="kx"/><stop offset="1" class="kal"/></linearGradient><linearGradient id="b44" gradientUnits="userSpaceOnUse" x1="256.9" y1="0" x2="509.49" y2="0" gradientTransform="matrix(1 0 0.2636 1 -37.22 0)"><stop offset="0" class="kad"/><stop offset=".26" class="ka"/><stop offset=".33" class="kb"/><stop offset=".399" class="kc"/><stop offset=".456" class="kd"/><stop offset=".504" class="ke"/><stop offset=".549" class="kf"/><stop offset=".586" class="kg"/><stop offset=".618" class="kh"/><stop offset=".647" class="ki"/><stop offset=".667" class="kj"/><stop offset=".696" class="kk"/><stop offset=".728" class="kl"/><stop offset=".762" class="km"/><stop offset=".787" class="kn"/><stop offset=".805" class="ko"/><stop offset=".826" class="kp"/><stop offset=".845" class="kae"/><stop offset=".862" class="kaf"/><stop offset=".876" class="kag"/><stop offset=".889" class="kr"/><stop offset=".906" class="kah"/><stop offset=".921" class="kai"/><stop offset=".936" class="kaj"/><stop offset=".953" class="kak"/><stop offset=".978" class="kw"/><stop offset="1" class="kx"/></linearGradient><linearGradient id="b45" gradientUnits="userSpaceOnUse" x1="257.64" y1="0" x2="510.11" y2="0" gradientTransform="matrix(1 0 0.2636 1 -38.01 0)"><stop offset="0" class="kad"/><stop offset=".261" class="ka"/><stop offset=".33" class="kb"/><stop offset=".399" class="kc"/><stop offset=".456" class="kd"/><stop offset=".505" class="ke"/><stop offset=".55" class="kf"/><stop offset=".586" class="kg"/><stop offset=".619" class="kh"/><stop offset=".647" class="ki"/><stop offset=".668" class="kj"/><stop offset=".696" class="kk"/><stop offset=".729" class="kl"/><stop offset=".762" class="km"/><stop offset=".788" class="kn"/><stop offset=".806" class="ko"/><stop offset=".827" class="kp"/><stop offset=".845" class="kae"/><stop offset=".863" class="kaf"/><stop offset=".877" class="kag"/><stop offset=".891" class="kr"/><stop offset=".907" class="kah"/><stop offset=".923" class="kai"/><stop offset=".938" class="kaj"/><stop offset=".954" class="kak"/><stop offset=".978" class="kw"/><stop offset="1" class="kx"/></linearGradient><linearGradient id="b46" gradientUnits="userSpaceOnUse" x1="258.39" y1="0" x2="510.73" y2="0" gradientTransform="matrix(1 0 0.2636 1 -38.8 0)"><stop offset="0" class="kad"/><stop offset=".261" class="ka"/><stop offset=".33" class="kb"/><stop offset=".399" class="kc"/><stop offset=".456" class="kd"/><stop offset=".505" class="ke"/><stop offset=".55" class="kf"/><stop offset=".587" class="kg"/><stop offset=".619" class="kh"/><stop offset=".648" class="ki"/><stop offset=".668" class="kj"/><stop offset=".697" class="kk"/><stop offset=".729" class="kl"/><stop offset=".763" class="km"/><stop offset=".788" class="kn"/><stop offset=".807" class="ko"/><stop offset=".828" class="kp"/><stop offset=".846" class="kae"/><stop offset=".864" class="kaf"/><stop offset=".879" class="kag"/><stop offset=".892" class="kr"/><stop offset=".909" class="kah"/><stop offset=".924" class="kai"/><stop offset=".939" class="kaj"/><stop offset=".955" class="kak"/><stop offset=".978" class="kw"/><stop offset="1" class="kx"/></linearGradient><linearGradient id="b47" gradientUnits="userSpaceOnUse" x1="259.15" y1="0" x2="511.35" y2="0" gradientTransform="matrix(1 0 0.2636 1 -39.59 0)"><stop offset="0" class="kad"/><stop offset=".261" class="ka"/><stop offset=".33" class="kb"/><stop offset=".4" class="kc"/><stop offset=".457" class="kd"/><stop offset=".506" class="ke"/><stop offset=".55" class="kf"/><stop offset=".587" class="kg"/><stop offset=".62" class="kh"/><stop offset=".648" class="ki"/><stop offset=".669" class="kj"/><stop offset=".697" class="kk"/><stop offset=".73" class="kl"/><stop offset=".763" class="km"/><stop offset=".789" class="kn"/><stop offset=".807" class="ko"/><stop offset=".828" class="kp"/><stop offset=".847" class="kae"/><stop offset=".865" class="kaf"/><stop offset=".88" class="kag"/><stop offset=".893" class="kr"/><stop offset=".91" class="kah"/><stop offset=".925" class="kai"/><stop offset=".94" class="kaj"/><stop offset=".956" class="kak"/><stop offset=".979" class="kw"/><stop offset="1" class="kx"/></linearGradient><linearGradient id="b48" gradientUnits="userSpaceOnUse" x1="259.9" y1="0" x2="511.97" y2="0" gradientTransform="matrix(1 0 0.2636 1 -40.39 0)"><stop offset="0" class="kad"/><stop offset=".261" class="ka"/><stop offset=".33" class="kb"/><stop offset=".4" class="kc"/><stop offset=".457" class="kd"/><stop offset=".506" class="ke"/><stop offset=".551" class="kf"/><stop offset=".587" class="kg"/><stop offset=".62" class="kh"/><stop offset=".649" class="ki"/><stop offset=".669" class="kj"/><stop offset=".698" class="kk"/><stop offset=".73" class="kl"/><stop offset=".764" class="km"/><stop offset=".789" class="kn"/><stop offset=".808" class="ko"/><stop offset=".829" class="kp"/><stop offset=".847" class="kae"/><stop offset=".866" class="kaf"/><stop offset=".881" class="kag"/><stop offset=".894" class="kr"/><stop offset=".911" class="kah"/><stop offset=".926" class="kai"/><stop offset=".941" class="kaj"/><stop offset=".958" class="kak"/><stop offset=".979" class="kw"/><stop offset="1" class="kx"/></linearGradient><linearGradient id="b49" gradientUnits="userSpaceOnUse" x1="260.66" y1="0" x2="512.58" y2="0" gradientTransform="matrix(1 0 0.2636 1 -41.18 0)"><stop offset="0" class="kad"/><stop offset=".261" class="ka"/><stop offset=".331" class="kb"/><stop offset=".4" class="kc"/><stop offset=".457" class="kd"/><stop offset=".506" class="ke"/><stop offset=".551" class="kf"/><stop offset=".588" class="kg"/><stop offset=".621" class="kh"/><stop offset=".649" class="ki"/><stop offset=".67" class="kj"/><stop offset=".698" class="kk"/><stop offset=".731" class="kl"/><stop offset=".764" class="km"/><stop offset=".79" class="kn"/><stop offset=".808" class="ko"/><stop offset=".829" class="kp"/><stop offset=".848" class="kae"/><stop offset=".867" class="kaf"/><stop offset=".882" class="kag"/><stop offset=".895" class="kr"/><stop offset=".912" class="kah"/><stop offset=".928" class="kai"/><stop offset=".943" class="kaj"/><stop offset=".959" class="kak"/><stop offset=".98" class="kw"/><stop offset="1" class="kx"/></linearGradient><linearGradient id="b50" gradientUnits="userSpaceOnUse" x1="261.43" y1="0" x2="513.2" y2="0" gradientTransform="matrix(1 0 0.2636 1 -41.97 0)"><stop offset="0" class="kad"/><stop offset=".261" class="ka"/><stop offset=".331" class="kb"/><stop offset=".4" class="kc"/><stop offset=".458" class="kd"/><stop offset=".507" class="ke"/><stop offset=".552" class="kf"/><stop offset=".588" class="kg"/><stop offset=".621" class="kh"/><stop offset=".65" class="ki"/><stop offset=".67" class="kj"/><stop offset=".699" class="kk"/><stop offset=".731" class="kl"/><stop offset=".765" class="km"/><stop offset=".791" class="kn"/><stop offset=".809" class="ko"/><stop offset=".83" class="kp"/><stop offset=".849" class="kae"/><stop offset=".868" class="kaf"/><stop offset=".883" class="kag"/><stop offset=".896" class="kr"/><stop offset=".913" class="kah"/><stop offset=".929" class="kai"/><stop offset=".944" class="kaj"/><stop offset=".96" class="kak"/><stop offset=".98" class="kw"/><stop offset="1" class="kx"/></linearGradient><linearGradient id="b51" gradientUnits="userSpaceOnUse" x1="262.19" y1="0" x2="513.95" y2="0" gradientTransform="matrix(1 0 0.2636 1 -42.76 0)"><stop offset="0" class="kad"/><stop offset=".262" class="ka"/><stop offset=".331" class="kb"/><stop offset=".4" class="kc"/><stop offset=".458" class="kd"/><stop offset=".507" class="ke"/><stop offset=".552" class="kf"/><stop offset=".588" class="kg"/><stop offset=".621" class="kh"/><stop offset=".65" class="ki"/><stop offset=".67" class="kj"/><stop offset=".699" class="kk"/><stop offset=".731" class="kl"/><stop offset=".765" class="km"/><stop offset=".791" class="kn"/><stop offset=".809" class="ko"/><stop offset=".83" class="kp"/><stop offset=".849" class="kae"/><stop offset=".868" class="kaf"/><stop offset=".883" class="kag"/><stop offset=".897" class="kr"/><stop offset=".914" class="kah"/><stop offset=".929" class="kai"/><stop offset=".944" class="kaj"/><stop offset=".96" class="kak"/><stop offset=".98" class="kw"/><stop offset="1" class="kx"/></linearGradient><linearGradient id="b52" gradientUnits="userSpaceOnUse" x1="262.96" y1="0" x2="509.74" y2="0" gradientTransform="matrix(1 0 0.2636 1 -43.55 0)"><stop offset="0" class="kad"/><stop offset=".267" class="ka"/><stop offset=".338" class="kb"/><stop offset=".409" class="kc"/><stop offset=".467" class="kd"/><stop offset=".517" class="ke"/><stop offset=".563" class="kf"/><stop offset=".6" class="kg"/><stop offset=".634" class="kh"/><stop offset=".663" class="ki"/><stop offset=".684" class="kj"/><stop offset=".713" class="kk"/><stop offset=".746" class="kl"/><stop offset=".78" class="km"/><stop offset=".807" class="kn"/><stop offset=".826" class="ko"/><stop offset=".847" class="kp"/><stop offset=".866" class="kae"/><stop offset=".886" class="kaf"/><stop offset=".901" class="kag"/><stop offset=".915" class="kr"/><stop offset=".932" class="kah"/><stop offset=".948" class="kai"/><stop offset=".964" class="kaj"/><stop offset=".98" class="kak"/><stop offset="1" class="kw"/></linearGradient><linearGradient id="b53" gradientUnits="userSpaceOnUse" x1="263.73" y1="0" x2="510.53" y2="0" gradientTransform="matrix(1 0 0.2636 1 -44.34 0)"><stop offset="0" class="kad"/><stop offset=".267" class="ka"/><stop offset=".338" class="kb"/><stop offset=".409" class="kc"/><stop offset=".467" class="kd"/><stop offset=".517" class="ke"/><stop offset=".563" class="kf"/><stop offset=".6" class="kg"/><stop offset=".634" class="kh"/><stop offset=".663" class="ki"/><stop offset=".684" class="kj"/><stop offset=".713" class="kk"/><stop offset=".746" class="kl"/><stop offset=".781" class="km"/><stop offset=".807" class="kn"/><stop offset=".826" class="ko"/><stop offset=".847" class="kp"/><stop offset=".866" class="kae"/><stop offset=".886" class="kaf"/><stop offset=".901" class="kag"/><stop offset=".915" class="kr"/><stop offset=".932" class="kah"/><stop offset=".948" class="kai"/><stop offset=".964" class="kaj"/><stop offset=".98" class="kak"/><stop offset="1" class="kw"/></linearGradient><linearGradient id="b54" gradientUnits="userSpaceOnUse" x1="264.5" y1="0" x2="511.32" y2="0" gradientTransform="matrix(1 0 0.2636 1 -45.13 0)"><stop offset="0" class="kad"/><stop offset=".267" class="ka"/><stop offset=".338" class="kb"/><stop offset=".409" class="kc"/><stop offset=".467" class="kd"/><stop offset=".517" class="ke"/><stop offset=".563" class="kf"/><stop offset=".6" class="kg"/><stop offset=".634" class="kh"/><stop offset=".663" class="ki"/><stop offset=".684" class="kj"/><stop offset=".713" class="kk"/><stop offset=".746" class="kl"/><stop offset=".781" class="km"/><stop offset=".807" class="kn"/><stop offset=".826" class="ko"/><stop offset=".847" class="kp"/><stop offset=".866" class="kae"/><stop offset=".886" class="kaf"/><stop offset=".901" class="kag"/><stop offset=".915" class="kr"/><stop offset=".932" class="kah"/><stop offset=".948" class="kai"/><stop offset=".964" class="kaj"/><stop offset=".98" class="kak"/><stop offset="1" class="kw"/></linearGradient><linearGradient id="b55" gradientUnits="userSpaceOnUse" x1="265.27" y1="0" x2="512.11" y2="0" gradientTransform="matrix(1 0 0.2636 1 -45.92 0)"><stop offset="0" class="kad"/><stop offset=".267" class="ka"/><stop offset=".338" class="kb"/><stop offset=".409" class="kc"/><stop offset=".467" class="kd"/><stop offset=".517" class="ke"/><stop offset=".563" class="kf"/><stop offset=".6" class="kg"/><stop offset=".634" class="kh"/><stop offset=".663" class="ki"/><stop offset=".684" class="kj"/><stop offset=".713" class="kk"/><stop offset=".746" class="kl"/><stop offset=".781" class="km"/><stop offset=".807" class="kn"/><stop offset=".826" class="ko"/><stop offset=".847" class="kp"/><stop offset=".866" class="kae"/><stop offset=".886" class="kaf"/><stop offset=".901" class="kag"/><stop offset=".915" class="kr"/><stop offset=".932" class="kah"/><stop offset=".948" class="kai"/><stop offset=".964" class="kaj"/><stop offset=".98" class="kak"/><stop offset="1" class="kw"/></linearGradient><linearGradient id="b56" gradientUnits="userSpaceOnUse" x1="266.05" y1="0" x2="512.9" y2="0" gradientTransform="matrix(1 0 0.2636 1 -46.71 0)"><stop offset="0" class="kad"/><stop offset=".267" class="ka"/><stop offset=".338" class="kb"/><stop offset=".409" class="kc"/><stop offset=".467" class="kd"/><stop offset=".517" class="ke"/><stop offset=".563" class="kf"/><stop offset=".6" class="kg"/><stop offset=".634" class="kh"/><stop offset=".663" class="ki"/><stop offset=".684" class="kj"/><stop offset=".713" class="kk"/><stop offset=".746" class="kl"/><stop offset=".781" class="km"/><stop offset=".807" class="kn"/><stop offset=".826" class="ko"/><stop offset=".847" class="kp"/><stop offset=".866" class="kae"/><stop offset=".886" class="kaf"/><stop offset=".901" class="kag"/><stop offset=".915" class="kr"/><stop offset=".932" class="kah"/><stop offset=".948" class="kai"/><stop offset=".964" class="kaj"/><stop offset=".98" class="kak"/><stop offset="1" class="kw"/></linearGradient><linearGradient id="b57" gradientUnits="userSpaceOnUse" x1="266.83" y1="0" x2="513.69" y2="0" gradientTransform="matrix(1 0 0.2636 1 -47.5 0)"><stop offset="0" class="kad"/><stop offset=".267" class="ka"/><stop offset=".338" class="kb"/><stop offset=".409" class="kc"/><stop offset=".467" class="kd"/><stop offset=".517" class="ke"/><stop offset=".563" class="kf"/><stop offset=".6" class="kg"/><stop offset=".634" class="kh"/><stop offset=".663" class="ki"/><stop offset=".684" class="kj"/><stop offset=".713" class="kk"/><stop offset=".746" class="kl"/><stop offset=".781" class="km"/><stop offset=".807" class="kn"/><stop offset=".826" class="ko"/><stop offset=".847" class="kp"/><stop offset=".866" class="kae"/><stop offset=".886" class="kaf"/><stop offset=".901" class="kag"/><stop offset=".915" class="kr"/><stop offset=".932" class="kah"/><stop offset=".948" class="kai"/><stop offset=".964" class="kaj"/><stop offset=".98" class="kak"/><stop offset="1" class="kw"/></linearGradient><linearGradient id="b58" gradientUnits="userSpaceOnUse" x1="267.61" y1="0" x2="509.49" y2="0" gradientTransform="matrix(1 0 0.2636 1 -48.29 0)"><stop offset="0" class="kad"/><stop offset=".272" class="ka"/><stop offset=".345" class="kb"/><stop offset=".417" class="kc"/><stop offset=".477" class="kd"/><stop offset=".528" class="ke"/><stop offset=".575" class="kf"/><stop offset=".613" class="kg"/><stop offset=".647" class="kh"/><stop offset=".677" class="ki"/><stop offset=".698" class="kj"/><stop offset=".728" class="kk"/><stop offset=".762" class="kl"/><stop offset=".797" class="km"/><stop offset=".824" class="kn"/><stop offset=".843" class="ko"/><stop offset=".864" class="kp"/><stop offset=".884" class="kae"/><stop offset=".904" class="kaf"/><stop offset=".92" class="kag"/><stop offset=".934" class="kr"/><stop offset=".952" class="kah"/><stop offset=".968" class="kai"/><stop offset=".983" class="kaj"/><stop offset="1" class="kak"/></linearGradient><linearGradient id="b59" gradientUnits="userSpaceOnUse" x1="268.38" y1="0" x2="510.28" y2="0" gradientTransform="matrix(1 0 0.2636 1 -49.09 0)"><stop offset="0" class="kad"/><stop offset=".272" class="ka"/><stop offset=".345" class="kb"/><stop offset=".417" class="kc"/><stop offset=".477" class="kd"/><stop offset=".528" class="ke"/><stop offset=".575" class="kf"/><stop offset=".613" class="kg"/><stop offset=".647" class="kh"/><stop offset=".677" class="ki"/><stop offset=".698" class="kj"/><stop offset=".728" class="kk"/><stop offset=".762" class="kl"/><stop offset=".797" class="km"/><stop offset=".824" class="kn"/><stop offset=".843" class="ko"/><stop offset=".864" class="kp"/><stop offset=".884" class="kae"/><stop offset=".904" class="kaf"/><stop offset=".92" class="kag"/><stop offset=".934" class="kr"/><stop offset=".952" class="kah"/><stop offset=".968" class="kai"/><stop offset=".983" class="kaj"/><stop offset="1" class="kak"/></linearGradient><linearGradient id="b60" gradientUnits="userSpaceOnUse" x1="269.17" y1="0" x2="511.07" y2="0" gradientTransform="matrix(1 0 0.2636 1 -49.88 0)"><stop offset="0" class="kad"/><stop offset=".272" class="ka"/><stop offset=".345" class="kb"/><stop offset=".417" class="kc"/><stop offset=".477" class="kd"/><stop offset=".528" class="ke"/><stop offset=".575" class="kf"/><stop offset=".613" class="kg"/><stop offset=".647" class="kh"/><stop offset=".677" class="ki"/><stop offset=".698" class="kj"/><stop offset=".728" class="kk"/><stop offset=".762" class="kl"/><stop offset=".797" class="km"/><stop offset=".824" class="kn"/><stop offset=".843" class="ko"/><stop offset=".864" class="kp"/><stop offset=".884" class="kae"/><stop offset=".904" class="kaf"/><stop offset=".92" class="kag"/><stop offset=".934" class="kr"/><stop offset=".952" class="kah"/><stop offset=".968" class="kai"/><stop offset=".983" class="kaj"/><stop offset="1" class="kak"/></linearGradient><linearGradient id="b61" gradientUnits="userSpaceOnUse" x1="269.95" y1="0" x2="511.86" y2="0" gradientTransform="matrix(1 0 0.2636 1 -50.67 0)"><stop offset="0" class="kad"/><stop offset=".272" class="ka"/><stop offset=".345" class="kb"/><stop offset=".417" class="kc"/><stop offset=".477" class="kd"/><stop offset=".528" class="ke"/><stop offset=".575" class="kf"/><stop offset=".613" class="kg"/><stop offset=".647" class="kh"/><stop offset=".677" class="ki"/><stop offset=".698" class="kj"/><stop offset=".728" class="kk"/><stop offset=".762" class="kl"/><stop offset=".797" class="km"/><stop offset=".824" class="kn"/><stop offset=".843" class="ko"/><stop offset=".864" class="kp"/><stop offset=".884" class="kae"/><stop offset=".904" class="kaf"/><stop offset=".92" class="kag"/><stop offset=".934" class="kr"/><stop offset=".952" class="kah"/><stop offset=".968" class="kai"/><stop offset=".983" class="kaj"/><stop offset="1" class="kak"/></linearGradient><linearGradient id="b62" gradientUnits="userSpaceOnUse" x1="270.73" y1="0" x2="512.65" y2="0" gradientTransform="matrix(1 0 0.2636 1 -51.46 0)"><stop offset="0" class="kad"/><stop offset=".272" class="ka"/><stop offset=".345" class="kb"/><stop offset=".417" class="kc"/><stop offset=".477" class="kd"/><stop offset=".528" class="ke"/><stop offset=".575" class="kf"/><stop offset=".613" class="kg"/><stop offset=".647" class="kh"/><stop offset=".677" class="ki"/><stop offset=".698" class="kj"/><stop offset=".728" class="kk"/><stop offset=".762" class="kl"/><stop offset=".797" class="km"/><stop offset=".824" class="kn"/><stop offset=".843" class="ko"/><stop offset=".864" class="kp"/><stop offset=".884" class="kae"/><stop offset=".904" class="kaf"/><stop offset=".92" class="kag"/><stop offset=".934" class="kr"/><stop offset=".952" class="kah"/><stop offset=".968" class="kai"/><stop offset=".983" class="kaj"/><stop offset="1" class="kak"/></linearGradient><linearGradient id="b63" gradientUnits="userSpaceOnUse" x1="271.51" y1="0" x2="509.44" y2="0" gradientTransform="matrix(1 0 0.2636 1 -52.25 0)"><stop offset="0" class="kad"/><stop offset=".277" class="ka"/><stop offset=".351" class="kb"/><stop offset=".424" class="kc"/><stop offset=".485" class="kd"/><stop offset=".537" class="ke"/><stop offset=".584" class="kf"/><stop offset=".623" class="kg"/><stop offset=".658" class="kh"/><stop offset=".688" class="ki"/><stop offset=".71" class="kj"/><stop offset=".74" class="kk"/><stop offset=".775" class="kl"/><stop offset=".81" class="km"/><stop offset=".837" class="kn"/><stop offset=".857" class="ko"/><stop offset=".879" class="kp"/><stop offset=".899" class="kae"/><stop offset=".919" class="kaf"/><stop offset=".935" class="kag"/><stop offset=".95" class="kr"/><stop offset=".968" class="kah"/><stop offset=".984" class="kai"/><stop offset="1" class="kaj"/></linearGradient><linearGradient id="b64" gradientUnits="userSpaceOnUse" x1="272.3" y1="0" x2="510.23" y2="0" gradientTransform="matrix(1 0 0.2636 1 -53.04 0)"><stop offset="0" class="kad"/><stop offset=".277" class="ka"/><stop offset=".351" class="kb"/><stop offset=".424" class="kc"/><stop offset=".485" class="kd"/><stop offset=".537" class="ke"/><stop offset=".584" class="kf"/><stop offset=".623" class="kg"/><stop offset=".658" class="kh"/><stop offset=".688" class="ki"/><stop offset=".71" class="kj"/><stop offset=".74" class="kk"/><stop offset=".775" class="kl"/><stop offset=".81" class="km"/><stop offset=".837" class="kn"/><stop offset=".857" class="ko"/><stop offset=".879" class="kp"/><stop offset=".899" class="kae"/><stop offset=".919" class="kaf"/><stop offset=".935" class="kag"/><stop offset=".95" class="kr"/><stop offset=".968" class="kah"/><stop offset=".984" class="kai"/><stop offset="1" class="kaj"/></linearGradient><linearGradient id="b65" gradientUnits="userSpaceOnUse" x1="273.08" y1="0" x2="511.02" y2="0" gradientTransform="matrix(1 0 0.2636 1 -53.83 0)"><stop offset="0" class="kad"/><stop offset=".277" class="ka"/><stop offset=".351" class="kb"/><stop offset=".424" class="kc"/><stop offset=".485" class="kd"/><stop offset=".537" class="ke"/><stop offset=".584" class="kf"/><stop offset=".623" class="kg"/><stop offset=".658" class="kh"/><stop offset=".688" class="ki"/><stop offset=".71" class="kj"/><stop offset=".74" class="kk"/><stop offset=".775" class="kl"/><stop offset=".81" class="km"/><stop offset=".837" class="kn"/><stop offset=".857" class="ko"/><stop offset=".879" class="kp"/><stop offset=".899" class="kae"/><stop offset=".919" class="kaf"/><stop offset=".935" class="kag"/><stop offset=".95" class="kr"/><stop offset=".968" class="kah"/><stop offset=".984" class="kai"/><stop offset="1" class="kaj"/></linearGradient><linearGradient id="b66" gradientUnits="userSpaceOnUse" x1="273.87" y1="0" x2="511.81" y2="0" gradientTransform="matrix(1 0 0.2636 1 -54.62 0)"><stop offset="0" class="kad"/><stop offset=".277" class="ka"/><stop offset=".351" class="kb"/><stop offset=".424" class="kc"/><stop offset=".485" class="kd"/><stop offset=".537" class="ke"/><stop offset=".584" class="kf"/><stop offset=".623" class="kg"/><stop offset=".658" class="kh"/><stop offset=".688" class="ki"/><stop offset=".71" class="kj"/><stop offset=".74" class="kk"/><stop offset=".775" class="kl"/><stop offset=".81" class="km"/><stop offset=".837" class="kn"/><stop offset=".857" class="ko"/><stop offset=".879" class="kp"/><stop offset=".899" class="kae"/><stop offset=".919" class="kaf"/><stop offset=".935" class="kag"/><stop offset=".95" class="kr"/><stop offset=".968" class="kah"/><stop offset=".984" class="kai"/><stop offset="1" class="kaj"/></linearGradient><linearGradient id="b67" gradientUnits="userSpaceOnUse" x1="274.65" y1="0" x2="512.6" y2="0" gradientTransform="matrix(1 0 0.2636 1 -55.41 0)"><stop offset="0" class="kad"/><stop offset=".277" class="ka"/><stop offset=".351" class="kb"/><stop offset=".424" class="kc"/><stop offset=".485" class="kd"/><stop offset=".537" class="ke"/><stop offset=".584" class="kf"/><stop offset=".623" class="kg"/><stop offset=".658" class="kh"/><stop offset=".688" class="ki"/><stop offset=".71" class="kj"/><stop offset=".74" class="kk"/><stop offset=".775" class="kl"/><stop offset=".81" class="km"/><stop offset=".837" class="kn"/><stop offset=".857" class="ko"/><stop offset=".879" class="kp"/><stop offset=".899" class="kae"/><stop offset=".919" class="kaf"/><stop offset=".935" class="kag"/><stop offset=".95" class="kr"/><stop offset=".968" class="kah"/><stop offset=".984" class="kai"/><stop offset="1" class="kaj"/></linearGradient><linearGradient id="b68" gradientUnits="userSpaceOnUse" x1="275.44" y1="0" x2="509.59" y2="0" gradientTransform="matrix(1 0 0.2636 1 -56.2 0)"><stop offset="0" class="kad"/><stop offset=".281" class="ka"/><stop offset=".356" class="kb"/><stop offset=".431" class="kc"/><stop offset=".493" class="kd"/><stop offset=".545" class="ke"/><stop offset=".594" class="kf"/><stop offset=".633" class="kg"/><stop offset=".668" class="kh"/><stop offset=".699" class="ki"/><stop offset=".721" class="kj"/><stop offset=".752" class="kk"/><stop offset=".787" class="kl"/><stop offset=".823" class="km"/><stop offset=".851" class="kn"/><stop offset=".871" class="ko"/><stop offset=".893" class="kp"/><stop offset=".914" class="kae"/><stop offset=".934" class="kaf"/><stop offset=".95" class="kag"/><stop offset=".965" class="kr"/><stop offset=".983" class="kah"/><stop offset="1" class="kai"/></linearGradient><linearGradient id="b69" gradientUnits="userSpaceOnUse" x1="276" y1="0" x2="510.16" y2="0" gradientTransform="matrix(1 0 0.2636 1 -56.77 0)"><stop offset="0" class="kad"/><stop offset=".281" class="ka"/><stop offset=".356" class="kb"/><stop offset=".431" class="kc"/><stop offset=".493" class="kd"/><stop offset=".545" class="ke"/><stop offset=".594" class="kf"/><stop offset=".633" class="kg"/><stop offset=".668" class="kh"/><stop offset=".699" class="ki"/><stop offset=".721" class="kj"/><stop offset=".752" class="kk"/><stop offset=".787" class="kl"/><stop offset=".823" class="km"/><stop offset=".851" class="kn"/><stop offset=".871" class="ko"/><stop offset=".893" class="kp"/><stop offset=".914" class="kae"/><stop offset=".934" class="kaf"/><stop offset=".95" class="kag"/><stop offset=".965" class="kr"/><stop offset=".983" class="kah"/><stop offset="1" class="kai"/></linearGradient><filter id="noise" x="0" y="0" width="1" height="1" color-interpolation-filters="sRGB"><feTurbulence type="fractalNoise" baseFrequency="0.75" numOctaves="2" seed="3"/><feColorMatrix type="matrix" values="2.2 0 0 0 -0.6  2.2 0 0 0 -0.6  2.2 0 0 0 -0.6  0 0 0 0 1"/></filter></defs>
<rect x="7.3" y="4.6" width="10.5" height="211.9" fill="url(#gcb)" stroke="#9a9a9a" stroke-width="0.5"/>
<path d="M7.3 214 h1.6 M17.8 214 h-1.6 M7.3 190 h1.6 M17.8 190 h-1.6 M7.3 166 h1.6 M17.8 166 h-1.6 M7.3 142 h1.6 M17.8 142 h-1.6 M7.3 118 h1.6 M17.8 118 h-1.6 M7.3 94 h1.6 M17.8 94 h-1.6 M7.3 70 h1.6 M17.8 70 h-1.6 M7.3 46 h1.6 M17.8 46 h-1.6 M7.3 22 h1.6 M17.8 22 h-1.6" stroke="#5a4a30" stroke-opacity="0.55" stroke-width="0.6" fill="none"/>
<text x="21" y="25.8" font-size="13.5" fill="#111">8</text>
<text x="21" y="122.2" font-size="13.5" fill="#111">4</text>
<text x="21" y="218.4" font-size="13.5" fill="#111">0</text>
<text x="25.6" y="11.6" font-size="15.5" fill="#111">B/B<tspan font-size="8" dy="2.6">app</tspan></text>
<g>
<rect x="73.7" y="7.7" width="208.3" height="5.6" fill="url(#a0)"/>
<rect x="73.7" y="12.7" width="208.3" height="5.6" fill="url(#a1)"/>
<rect x="73.7" y="17.7" width="208.3" height="5.6" fill="url(#a2)"/>
<rect x="73.7" y="22.7" width="208.3" height="5.6" fill="url(#a3)"/>
<rect x="73.7" y="27.7" width="208.3" height="5.6" fill="url(#a4)"/>
<rect x="73.7" y="32.7" width="208.3" height="5.6" fill="url(#a5)"/>
<rect x="73.7" y="37.7" width="208.3" height="5.6" fill="url(#a6)"/>
<rect x="73.7" y="42.7" width="208.3" height="5.6" fill="url(#a7)"/>
<rect x="73.7" y="47.7" width="208.3" height="5.6" fill="url(#a8)"/>
<rect x="73.7" y="52.7" width="208.3" height="5.6" fill="url(#a9)"/>
<rect x="73.7" y="57.7" width="208.3" height="5.6" fill="url(#a10)"/>
<rect x="73.7" y="62.7" width="208.3" height="5.6" fill="url(#a11)"/>
<rect x="73.7" y="67.7" width="208.3" height="5.6" fill="url(#a12)"/>
<rect x="73.7" y="72.7" width="208.3" height="5.6" fill="url(#a13)"/>
<rect x="73.7" y="77.7" width="208.3" height="5.6" fill="url(#a14)"/>
<rect x="73.7" y="82.7" width="208.3" height="5.6" fill="url(#a15)"/>
<rect x="73.7" y="87.7" width="208.3" height="5.6" fill="url(#a16)"/>
<rect x="73.7" y="92.7" width="208.3" height="5.6" fill="url(#a17)"/>
<rect x="73.7" y="97.7" width="208.3" height="5.6" fill="url(#a18)"/>
<rect x="73.7" y="102.7" width="208.3" height="5.6" fill="url(#a19)"/>
<rect x="73.7" y="107.7" width="208.3" height="5.6" fill="url(#a20)"/>
<rect x="73.7" y="112.7" width="208.3" height="5.6" fill="url(#a21)"/>
<rect x="73.7" y="117.7" width="208.3" height="5.6" fill="url(#a22)"/>
<rect x="73.7" y="122.7" width="208.3" height="5.6" fill="url(#a23)"/>
<rect x="73.7" y="127.7" width="208.3" height="5.6" fill="url(#a24)"/>
<rect x="73.7" y="132.7" width="208.3" height="5.6" fill="url(#a25)"/>
<rect x="73.7" y="137.7" width="208.3" height="5.6" fill="url(#a26)"/>
<rect x="73.7" y="142.7" width="208.3" height="5.6" fill="url(#a27)"/>
<rect x="73.7" y="147.7" width="208.3" height="5.6" fill="url(#a28)"/>
<rect x="73.7" y="152.7" width="208.3" height="5.6" fill="url(#a29)"/>
<rect x="73.7" y="157.7" width="208.3" height="5.6" fill="url(#a30)"/>
<rect x="73.7" y="162.7" width="208.3" height="5.6" fill="url(#a31)"/>
<rect x="73.7" y="167.7" width="208.3" height="5.6" fill="url(#a32)"/>
<rect x="73.7" y="172.7" width="208.3" height="5.6" fill="url(#a33)"/>
<rect x="73.7" y="177.7" width="208.3" height="5.6" fill="url(#a34)"/>
<rect x="73.7" y="182.7" width="208.3" height="5.6" fill="url(#a35)"/>
<rect x="73.7" y="187.7" width="208.3" height="5.6" fill="url(#a36)"/>
<rect x="73.7" y="192.7" width="208.3" height="5.6" fill="url(#a37)"/>
<rect x="73.7" y="197.7" width="208.3" height="5.6" fill="url(#a38)"/>
<rect x="73.7" y="202.7" width="208.3" height="5.6" fill="url(#a39)"/>
<rect x="73.7" y="207.7" width="208.3" height="5.6" fill="url(#a40)"/>
<rect x="73.7" y="212.7" width="208.3" height="3.3" fill="url(#a41)"/>
<rect x="73.7" y="7.7" width="208.3" height="208.3" filter="url(#noise)" opacity="0.28" style="mix-blend-mode:overlay"/>
<rect x="74.6" y="8.6" width="66.2" height="26.4" fill="#fff" fill-opacity="0.47"/>
<rect x="255" y="9.4" width="26.2" height="20" fill="#fff" fill-opacity="0.47"/>
<rect x="204" y="96.5" width="77.2" height="36" fill="#fff" fill-opacity="0.47"/>
<rect x="74.6" y="191" width="64" height="23.6" fill="#fff" fill-opacity="0.47"/>
<rect x="191.8" y="191" width="52.6" height="19" fill="#fff" fill-opacity="0.47"/>
<path d="M74.5 99 L281.4 42.6" stroke="#2e8c42" stroke-width="2" stroke-dasharray="6 4.4" fill="none"/>
<path d="M200.6 8 L256 215.5" stroke="#0b0b0b" stroke-width="1.7" fill="none"/>
<path d="M78.9 28 H137.6 M78.9 24.4 v7.2 M137.6 24.4 v7.2" stroke="#3a0c0c" stroke-width="1.9" fill="none"/>
<text x="108" y="21.4" font-size="14.6" font-weight="700" text-anchor="middle" fill="#2a0a0a">5 µm</text>
<text x="267.6" y="24" font-size="15" font-weight="700" text-anchor="middle" fill="#2a1414">(a)</text>
<text x="279.4" y="109.7" font-size="15" text-anchor="end" fill="#1a1010">Supercon-</text>
<text x="279.4" y="127.7" font-size="15" text-anchor="end" fill="#1a1010">ductor</text>
<text x="79.3" y="207.2" font-size="15" fill="#2a0c0c">Outside</text>
<text x="196.6" y="204.8" font-size="15" fill="#1a1408">Border</text>
<text x="79.3" y="113.6" font-size="15" fill="#6e7226">Cross-</text>
<text x="79.3" y="132.6" font-size="15" fill="#6e7226">section</text>
<rect x="74.35" y="8.35" width="207" height="207" fill="none" stroke="#5a1010" stroke-width="1.3"/>
</g>
<g>
<rect x="300" y="7.7" width="208.4" height="3.6" fill="url(#b0)"/>
<rect x="300" y="10.7" width="208.4" height="3.6" fill="url(#b1)"/>
<rect x="300" y="13.7" width="208.4" height="3.6" fill="url(#b2)"/>
<rect x="300" y="16.7" width="208.4" height="3.6" fill="url(#b3)"/>
<rect x="300" y="19.7" width="208.4" height="3.6" fill="url(#b4)"/>
<rect x="300" y="22.7" width="208.4" height="3.6" fill="url(#b5)"/>
<rect x="300" y="25.7" width="208.4" height="3.6" fill="url(#b6)"/>
<rect x="300" y="28.7" width="208.4" height="3.6" fill="url(#b7)"/>
<rect x="300" y="31.7" width="208.4" height="3.6" fill="url(#b8)"/>
<rect x="300" y="34.7" width="208.4" height="3.6" fill="url(#b9)"/>
<rect x="300" y="37.7" width="208.4" height="3.6" fill="url(#b10)"/>
<rect x="300" y="40.7" width="208.4" height="3.6" fill="url(#b11)"/>
<rect x="300" y="43.7" width="208.4" height="3.6" fill="url(#b12)"/>
<rect x="300" y="46.7" width="208.4" height="3.6" fill="url(#b13)"/>
<rect x="300" y="49.7" width="208.4" height="3.6" fill="url(#b14)"/>
<rect x="300" y="52.7" width="208.4" height="3.6" fill="url(#b15)"/>
<rect x="300" y="55.7" width="208.4" height="3.6" fill="url(#b16)"/>
<rect x="300" y="58.7" width="208.4" height="3.6" fill="url(#b17)"/>
<rect x="300" y="61.7" width="208.4" height="3.6" fill="url(#b18)"/>
<rect x="300" y="64.7" width="208.4" height="3.6" fill="url(#b19)"/>
<rect x="300" y="67.7" width="208.4" height="3.6" fill="url(#b20)"/>
<rect x="300" y="70.7" width="208.4" height="3.6" fill="url(#b21)"/>
<rect x="300" y="73.7" width="208.4" height="3.6" fill="url(#b22)"/>
<rect x="300" y="76.7" width="208.4" height="3.6" fill="url(#b23)"/>
<rect x="300" y="79.7" width="208.4" height="3.6" fill="url(#b24)"/>
<rect x="300" y="82.7" width="208.4" height="3.6" fill="url(#b25)"/>
<rect x="300" y="85.7" width="208.4" height="3.6" fill="url(#b26)"/>
<rect x="300" y="88.7" width="208.4" height="3.6" fill="url(#b27)"/>
<rect x="300" y="91.7" width="208.4" height="3.6" fill="url(#b28)"/>
<rect x="300" y="94.7" width="208.4" height="3.6" fill="url(#b29)"/>
<rect x="300" y="97.7" width="208.4" height="3.6" fill="url(#b30)"/>
<rect x="300" y="100.7" width="208.4" height="3.6" fill="url(#b31)"/>
<rect x="300" y="103.7" width="208.4" height="3.6" fill="url(#b32)"/>
<rect x="300" y="106.7" width="208.4" height="3.6" fill="url(#b33)"/>
<rect x="300" y="109.7" width="208.4" height="3.6" fill="url(#b34)"/>
<rect x="300" y="112.7" width="208.4" height="3.6" fill="url(#b35)"/>
<rect x="300" y="115.7" width="208.4" height="3.6" fill="url(#b36)"/>
<rect x="300" y="118.7" width="208.4" height="3.6" fill="url(#b37)"/>
<rect x="300" y="121.7" width="208.4" height="3.6" fill="url(#b38)"/>
<rect x="300" y="124.7" width="208.4" height="3.6" fill="url(#b39)"/>
<rect x="300" y="127.7" width="208.4" height="3.6" fill="url(#b40)"/>
<rect x="300" y="130.7" width="208.4" height="3.6" fill="url(#b41)"/>
<rect x="300" y="133.7" width="208.4" height="3.6" fill="url(#b42)"/>
<rect x="300" y="136.7" width="208.4" height="3.6" fill="url(#b43)"/>
<rect x="300" y="139.7" width="208.4" height="3.6" fill="url(#b44)"/>
<rect x="300" y="142.7" width="208.4" height="3.6" fill="url(#b45)"/>
<rect x="300" y="145.7" width="208.4" height="3.6" fill="url(#b46)"/>
<rect x="300" y="148.7" width="208.4" height="3.6" fill="url(#b47)"/>
<rect x="300" y="151.7" width="208.4" height="3.6" fill="url(#b48)"/>
<rect x="300" y="154.7" width="208.4" height="3.6" fill="url(#b49)"/>
<rect x="300" y="157.7" width="208.4" height="3.6" fill="url(#b50)"/>
<rect x="300" y="160.7" width="208.4" height="3.6" fill="url(#b51)"/>
<rect x="300" y="163.7" width="208.4" height="3.6" fill="url(#b52)"/>
<rect x="300" y="166.7" width="208.4" height="3.6" fill="url(#b53)"/>
<rect x="300" y="169.7" width="208.4" height="3.6" fill="url(#b54)"/>
<rect x="300" y="172.7" width="208.4" height="3.6" fill="url(#b55)"/>
<rect x="300" y="175.7" width="208.4" height="3.6" fill="url(#b56)"/>
<rect x="300" y="178.7" width="208.4" height="3.6" fill="url(#b57)"/>
<rect x="300" y="181.7" width="208.4" height="3.6" fill="url(#b58)"/>
<rect x="300" y="184.7" width="208.4" height="3.6" fill="url(#b59)"/>
<rect x="300" y="187.7" width="208.4" height="3.6" fill="url(#b60)"/>
<rect x="300" y="190.7" width="208.4" height="3.6" fill="url(#b61)"/>
<rect x="300" y="193.7" width="208.4" height="3.6" fill="url(#b62)"/>
<rect x="300" y="196.7" width="208.4" height="3.6" fill="url(#b63)"/>
<rect x="300" y="199.7" width="208.4" height="3.6" fill="url(#b64)"/>
<rect x="300" y="202.7" width="208.4" height="3.6" fill="url(#b65)"/>
<rect x="300" y="205.7" width="208.4" height="3.6" fill="url(#b66)"/>
<rect x="300" y="208.7" width="208.4" height="3.6" fill="url(#b67)"/>
<rect x="300" y="211.7" width="208.4" height="3.6" fill="url(#b68)"/>
<rect x="300" y="214.7" width="208.4" height="1.3" fill="url(#b69)"/>
<rect x="300" y="7.7" width="208.4" height="208.3" filter="url(#noise)" opacity="0.28" style="mix-blend-mode:overlay"/>
<rect x="300.9" y="8.6" width="66.2" height="26.4" fill="#fff" fill-opacity="0.47"/>
<rect x="481.3" y="9.4" width="26.2" height="20" fill="#fff" fill-opacity="0.47"/>
<rect x="430.3" y="96.5" width="77.2" height="36" fill="#fff" fill-opacity="0.47"/>
<rect x="300.9" y="191" width="64" height="23.6" fill="#fff" fill-opacity="0.47"/>
<rect x="418.1" y="191" width="52.6" height="19" fill="#fff" fill-opacity="0.47"/>
<path d="M300.8 99 L507.8 42.6" stroke="#2e8c42" stroke-width="2" stroke-dasharray="6 4.4" fill="none"/>
<path d="M427.3 8 L482 215.5" stroke="#0b0b0b" stroke-width="1.7" fill="none"/>
<circle cx="467" cy="52" r="12.4" fill="none" stroke="#111" stroke-width="1.5"/>
<path d="M305.2 28 H363.9 M305.2 24.4 v7.2 M363.9 24.4 v7.2" stroke="#3a0c0c" stroke-width="1.9" fill="none"/>
<text x="334.3" y="21.4" font-size="14.6" font-weight="700" text-anchor="middle" fill="#2a0a0a">5 µm</text>
<text x="493.9" y="24" font-size="15" font-weight="700" text-anchor="middle" fill="#2a1414">(b)</text>
<text x="505.7" y="109.7" font-size="15" text-anchor="end" fill="#1a1010">Supercon-</text>
<text x="505.7" y="127.7" font-size="15" text-anchor="end" fill="#1a1010">ductor</text>
<text x="305.6" y="207.2" font-size="15" fill="#2a0c0c">Outside</text>
<text x="422.9" y="204.8" font-size="15" fill="#1a1408">Border</text>
<text x="305.6" y="113.6" font-size="15" fill="#6e7226">Cross-</text>
<text x="305.6" y="132.6" font-size="15" fill="#6e7226">section</text>
<rect x="300.65" y="8.35" width="207.1" height="207" fill="none" stroke="#5a1010" stroke-width="1.3"/>
</g>
<g>
<marker id="mc0" markerUnits="userSpaceOnUse" markerWidth="7.4" markerHeight="7.4" refX="3.7" refY="3.7" overflow="visible"><path d="M1.85 1.85h3.7v3.7h-3.7z" fill="#fff" stroke="#505050" stroke-width="0.75"/></marker>
<marker id="mc1" markerUnits="userSpaceOnUse" markerWidth="7.8" markerHeight="7.8" refX="3.9" refY="3.9" overflow="visible"><path d="M1.95 3.9a1.95 1.95 0 1 0 3.9 0a1.95 1.95 0 1 0 -3.9 0z" fill="#fff" stroke="#ef6a6a" stroke-width="0.75"/></marker>
<polyline points="47,460.8 49.2,460.6 51.3,460.6 53.5,462.2 55.7,461.4 57.9,460.9 60,460.6 62.2,459.6 64.4,458.6 66.6,458.8 68.7,458.7 70.9,458.2 73.1,456.7 75.3,455.5 77.4,455.8 79.6,455.9 81.8,454.4 84,452.3 86.1,451.8 88.3,451.6 90.5,450 92.6,449.6 94.8,448.3 97,446.4 99.2,445.5 101.3,445 103.5,443.9 105.7,444.1 107.9,443.7 110,443.5 112.2,443 114.4,442.7 116.6,442.1 118.7,441.6 120.9,440.7 123.1,439.9 125.2,438.9 127.4,437 129.6,437.7 131.8,435.9 133.9,435.4 136.1,435.5 138.3,434.6 140.5,433.5 142.6,431.7 144.8,431.7 147,430.5 149.2,429.5 151.3,429.9 153.5,429.7 155.7,428 157.9,426.3 160,424.4 162.2,423.1 164.4,422 166.5,421.1 168.7,419.4 170.9,419.4 173.1,418.7 175.2,417.5 177.4,418 179.6,415.9 181.8,415.8 183.9,414.9 186.1,412.3 188.3,412.3 190.5,411.9 192.6,409.8 194.8,410 197,409.5 199.2,408.2 201.3,407 203.5,405.7 205.7,404.7 207.8,402.9 210,401.5 212.2,400.6 214.4,400.6 216.5,400.6 218.7,400.8 220.9,396.1 223.1,393.5 225.2,391.4 227.4,388.9 229.6,388.9 231.8,388.5 233.9,387.8 236.1,386.1 238.3,385.8 240.5,384.9 242.6,384.2 244.8,383.3 247,381.2 249.1,380.5 251.3,378.3 253.5,376 255.7,373.3 257.8,372.3 260,369.3 262.2,367 264.4,364.4 266.5,362.5 268.7,361.9 270.9,360.5 273.1,358.2 275.2,356.6 277.4,355.1 279.6,352.1 281.7,348.3 283.9,346.2 286.1,342.5 288.3,342 290.4,341.3 292.6,338 294.8,335.7 297,332.9 299.1,330.1 301.3,327.9 303.5,325 305.7,322.7 307.8,321.6 310,319 312.2,316.4 314.4,312.6 316.5,311.3 318.7,308.9 320.9,306.9 323,304.6 325.2,300.8 327.4,298.3 329.6,296.5 331.7,294.1 333.9,291.2 336.1,289.7 338.3,287.6 340.4,284 342.6,281.1 344.8,279.6 347,278.4 349.1,276.8 351.3,276.4 353.5,273.7 355.7,271.6 357.8,270.3 360,270.7 362.2,270.5 364.3,269.5 366.5,270.4 368.7,272 370.9,272.8 373,273.3 375.2,275.2 377.4,278.3 379.6,282.5 381.7,286.9 383.9,290 386.1,294.5 388.3,299.2 390.4,305.2 392.6,311.6 394.8,317.3 396.9,323.2 399.1,328.6 401.3,334.7 403.5,339.6 405.6,344.1 407.8,350.2 410,356.4 412.2,364 414.3,370.4 416.5,377.7 418.7,383.9 420.9,391.6 423,399.7 425.2,407.8 427.4,414.4 429.6,420.9 431.7,427.5 433.9,435.2 436.1,439.9 438.2,445.9 440.4,449.3 442.6,453.8 444.8,457.8 446.9,462.1 449.1,467.4 451.3,472.3 453.5,475.9 455.6,478.3 457.8,483.1 460,486.9 462.2,490 464.3,494.5 466.5,498.7 468.7,501.9 470.9,504.7 473,506.9 475.2,507.4 477.4,509.6 479.5,511.3 481.7,512.1 483.9,513 486.1,517.3 488.2,520.5 490.4,522.5 492.6,526.6 494.8,530.2 496.9,534 499.1,537 501.3,539.6 503.5,541.1 505.6,541.8 507.8,542.6 510,544.7 512.1,547" fill="none" stroke="none" marker-start="url(#mc0)" marker-mid="url(#mc0)" marker-end="url(#mc0)"/>
<polyline points="47,472.5 49.2,472.4 51.3,471.9 53.5,471.7 55.7,472.2 57.9,471.6 60,472.2 62.2,472 64.4,471.4 66.6,470.8 68.7,469.7 70.9,470.5 73.1,469.9 75.3,469.2 77.4,469 79.6,468.4 81.8,468.6 84,467.9 86.1,467.4 88.3,467.4 90.5,467.1 92.6,466.6 94.8,466.3 97,465.1 99.2,464.5 101.3,463.3 103.5,462.3 105.7,461.9 107.9,461.6 110,461.6 112.2,461.5 114.4,461.3 116.6,460.5 118.7,460.3 120.9,459.6 123.1,458.9 125.2,458.5 127.4,458 129.6,456.7 131.8,455.5 133.9,455.4 136.1,454.7 138.3,454.2 140.5,453.5 142.6,452 144.8,451 147,449.8 149.2,448.4 151.3,448.1 153.5,447.6 155.7,447 157.9,445.9 160,445.4 162.2,444.5 164.4,443.3 166.5,442.3 168.7,441.6 170.9,441.4 173.1,441.5 175.2,440.3 177.4,439.4 179.6,439.1 181.8,438.6 183.9,437.9 186.1,437.8 188.3,436.7 190.5,436.1 192.6,435.2 194.8,433.9 197,433 199.2,431.8 201.3,430.8 203.5,429.9 205.7,429.1 207.8,427.4 210,426.7 212.2,425.3 214.4,425 216.5,423.9 218.7,423.2 220.9,422.8 223.1,423.2 225.2,421.5 227.4,421 229.6,420.3 231.8,419.1 233.9,418 236.1,416.8 238.3,415.8 240.5,415.5 242.6,413.9 244.8,413.2 247,412 249.1,410.4 251.3,408.4 253.5,407.2 255.7,405.9 257.8,404.6 260,404 262.2,402.8 264.4,401.7 266.5,400.6 268.7,398.8 270.9,397.2 273.1,394.1 275.2,391.3 277.4,390.1 279.6,387.9 281.7,386.3 283.9,384.1 286.1,382.1 288.3,379.8 290.4,377.8 292.6,375.7 294.8,374.1 297,373.3 299.1,371.8 301.3,370 303.5,368.1 305.7,366.4 307.8,363.4 310,361.5 312.2,358.8 314.4,357 316.5,354.3 318.7,353 320.9,350.5 323,349 325.2,346.6 327.4,343.7 329.6,342.3 331.7,340.5 333.9,338.2 336.1,336 338.3,334.4 340.4,331.6 342.6,329.4 344.8,327.4 347,325.9 349.1,325.1 351.3,323.9 353.5,321.8 355.7,322 357.8,321.7 360,321 362.2,320.1 364.3,319.4 366.5,320.1 368.7,319.5 370.9,320 373,320.4 375.2,321.3 377.4,322.8 379.6,324.5 381.7,325.9 383.9,327.2 386.1,329.9 388.3,333 390.4,334.5 392.6,336.3 394.8,337.9 396.9,339.8 399.1,343.3 401.3,346.3 403.5,349.2 405.6,351.8 407.8,354.3 410,356.9 412.2,359.5 414.3,361.6 416.5,364.3 418.7,365.6 420.9,367.5 423,369.2 425.2,371.2 427.4,372 429.6,373.5 431.7,375.3 433.9,376.7 436.1,377.9 438.2,378.7 440.4,379.3 442.6,380.6 444.8,381.6 446.9,382.6 449.1,383.4 451.3,384.8 453.5,386.4 455.6,388.3 457.8,389.7 460,391.7 462.2,392.8 464.3,394.5 466.5,396.1 468.7,398.3 470.9,400.5 473,402.7 475.2,403.9 477.4,405.8 479.5,408.7 481.7,412.4 483.9,415.2 486.1,419.6 488.2,421.5 490.4,424.4 492.6,427.1 494.8,430.9 496.9,434.4 499.1,437.1 501.3,440.2 503.5,443.7 505.6,447 507.8,450.7 510,455.6 512.1,458.4" fill="none" stroke="none" marker-start="url(#mc1)" marker-mid="url(#mc1)" marker-end="url(#mc1)"/>
<path d="M47 588.85 v-4.6 M47 242.85 v4.6 M105.14 588.85 v-4.6 M105.14 242.85 v4.6 M163.29 588.85 v-4.6 M163.29 242.85 v4.6 M221.43 588.85 v-4.6 M221.43 242.85 v4.6 M279.57 588.85 v-4.6 M279.57 242.85 v4.6 M337.72 588.85 v-4.6 M337.72 242.85 v4.6 M395.86 588.85 v-4.6 M395.86 242.85 v4.6 M454.01 588.85 v-4.6 M454.01 242.85 v4.6 M512.15 588.85 v-4.6 M512.15 242.85 v4.6 M76.07 588.85 v-2.5 M76.07 242.85 v2.5 M134.22 588.85 v-2.5 M134.22 242.85 v2.5 M192.36 588.85 v-2.5 M192.36 242.85 v2.5 M250.5 588.85 v-2.5 M250.5 242.85 v2.5 M308.65 588.85 v-2.5 M308.65 242.85 v2.5 M366.79 588.85 v-2.5 M366.79 242.85 v2.5 M424.93 588.85 v-2.5 M424.93 242.85 v2.5 M483.08 588.85 v-2.5 M483.08 242.85 v2.5 M47 588.85 h4.6 M512.15 588.85 h-4.6 M47 545.6 h4.6 M512.15 545.6 h-4.6 M47 502.35 h4.6 M512.15 502.35 h-4.6 M47 459.1 h4.6 M512.15 459.1 h-4.6 M47 415.85 h4.6 M512.15 415.85 h-4.6 M47 372.6 h4.6 M512.15 372.6 h-4.6 M47 329.35 h4.6 M512.15 329.35 h-4.6 M47 286.1 h4.6 M512.15 286.1 h-4.6 M47 242.85 h4.6 M512.15 242.85 h-4.6 M47 567.23 h2.5 M512.15 567.23 h-2.5 M47 523.98 h2.5 M512.15 523.98 h-2.5 M47 480.73 h2.5 M512.15 480.73 h-2.5 M47 437.48 h2.5 M512.15 437.48 h-2.5 M47 394.23 h2.5 M512.15 394.23 h-2.5 M47 350.98 h2.5 M512.15 350.98 h-2.5 M47 307.73 h2.5 M512.15 307.73 h-2.5 M47 264.48 h2.5 M512.15 264.48 h-2.5" stroke="#222" stroke-width="1.24" fill="none"/>
<rect x="47" y="242.85" width="465.15" height="346" fill="none" stroke="#222" stroke-width="1.55"/>
<text x="47" y="607.7" font-size="13" text-anchor="middle" fill="#111">0</text>
<text x="105.14" y="607.7" font-size="13" text-anchor="middle" fill="#111">2</text>
<text x="163.29" y="607.7" font-size="13" text-anchor="middle" fill="#111">4</text>
<text x="221.43" y="607.7" font-size="13" text-anchor="middle" fill="#111">6</text>
<text x="279.57" y="607.7" font-size="13" text-anchor="middle" fill="#111">8</text>
<text x="337.72" y="607.7" font-size="13" text-anchor="middle" fill="#111">10</text>
<text x="395.86" y="607.7" font-size="13" text-anchor="middle" fill="#111">12</text>
<text x="454.01" y="607.7" font-size="13" text-anchor="middle" fill="#111">14</text>
<text x="511.55" y="607.7" font-size="13" text-anchor="middle" fill="#111">16</text>
<text x="39.2" y="593.55" font-size="13" text-anchor="end" fill="#111">1</text>
<text x="39.2" y="550.3" font-size="13" text-anchor="end" fill="#111">2</text>
<text x="39.2" y="507.05" font-size="13" text-anchor="end" fill="#111">3</text>
<text x="39.2" y="463.8" font-size="13" text-anchor="end" fill="#111">4</text>
<text x="39.2" y="420.55" font-size="13" text-anchor="end" fill="#111">5</text>
<text x="39.2" y="377.3" font-size="13" text-anchor="end" fill="#111">6</text>
<text x="39.2" y="334.05" font-size="13" text-anchor="end" fill="#111">7</text>
<text x="39.2" y="290.8" font-size="13" text-anchor="end" fill="#111">8</text>
<text x="39.2" y="247.55" font-size="13" text-anchor="end" fill="#111">9</text>
<text x="175" y="634" font-size="17" textLength="211" lengthAdjust="spacingAndGlyphs" fill="#111">Distance along x-axis (µm)</text>
<text transform="translate(18.2 555.8) rotate(-90)" font-size="17" textLength="239" lengthAdjust="spacingAndGlyphs" fill="#111">Normalized magnetic field B/B</text>
<text transform="translate(24.4 316.6) rotate(-90)" font-size="9.8" fill="#111">app</text>
<text x="486" y="570.5" font-size="12.5" font-weight="700" text-anchor="middle" fill="#111">(c)</text>
<rect x="57.5" y="251.6" width="118.5" height="52.2" fill="#fff" stroke="#444" stroke-width="0.9"/>
<rect x="79.4" y="262.2" width="3.2" height="3.2" fill="#fff" stroke="#444" stroke-width="0.7"/>
<circle cx="81" cy="289.4" r="1.7" fill="#fff" stroke="#ee5555" stroke-width="0.7"/>
<text x="102" y="268.5" font-size="16" fill="#111">H<tspan font-size="11" dy="5">app</tspan><tspan dy="-5" font-size="16">&lt; H</tspan><tspan font-size="11" dy="5">p</tspan></text>
<text x="105" y="295.3" font-size="16" fill="#111">H<tspan font-size="11" dy="5">app</tspan><tspan dy="-5" font-size="16">&gt; H</tspan><tspan font-size="11" dy="5">p</tspan></text>
</g>
<g>
<clipPath id="cd"><rect x="43.6" y="652.5" width="472" height="351.2"/></clipPath>
<g clip-path="url(#cd)">
<marker id="md0" markerUnits="userSpaceOnUse" markerWidth="10.8" markerHeight="10.8" refX="5.4" refY="5.4" overflow="visible"><path d="M2.7 2.7h5.4v5.4h-5.4z" fill="#fff" stroke="#333333" stroke-width="0.75"/></marker>
<polyline points="44.2,880.2 46,881.1 47.9,883.3 49.8,885 51.6,884.5 53.5,883.8 55.3,881.7 57.2,881 59.1,878.1 60.9,880 62.8,880.9 64.6,879.3 66.5,878.7 68.4,879.1 70.2,876.9 72.1,874.6 73.9,872.4 75.8,872.9 77.6,872.7 79.5,872.1 81.4,871.7 83.2,870.1 85.1,870.7 86.9,869.9 88.8,872.7 90.7,870.8 92.5,868 94.4,867.9 96.2,866.3 98.1,868.6 100,868.5 101.8,870 103.7,868.5 105.5,867 107.4,868.2 109.3,868.4 111.1,868.1 113,863.7 114.8,863.4 116.7,862.8 118.5,861.9 120.4,861.2 122.3,861.2 124.1,862.6 126,862.7 127.8,859.5 129.7,858.7 131.6,858.9 133.4,860.2 135.3,859.3 137.1,858.4 139,858.5 140.9,856.4 142.7,856.5 144.6,856 146.4,854 148.3,853.2 150.1,851.1 152,851.2 153.9,851.4 155.7,850.2 157.6,849.5 159.4,847.4 161.3,846.7 163.2,846.6 165,845.7 166.9,844.5 168.7,845.9 170.6,845.5 172.5,845.2 174.3,842.8 176.2,843 178,841 179.9,842.3 181.7,841.5 183.6,839.3 185.5,839.1 187.3,836.8 189.2,839.2 191,838.1 192.9,836.9 194.8,836.1 196.6,837.1 198.5,834.7 200.3,836.7 202.2,833.6 204.1,831.8 205.9,829.2 207.8,828.5 209.6,829 211.5,828.3 213.3,827.4 215.2,825.1 217.1,824.2 218.9,822.2 220.8,820.4 222.6,817.4 224.5,819.4 226.4,818.6 228.2,816.3 230.1,814.2 231.9,814 233.8,813.2 235.7,812.1 237.5,810.7 239.4,810.3 241.2,809.8 243.1,809.8 244.9,808.6 246.8,805 248.7,805.1 250.5,802.3 252.4,798.5 254.2,797.5 256.1,793.6 258,793.6 259.8,790.9 261.7,790.8 263.5,792 265.4,790.6 267.3,787.1 269.1,787.5 271,786 272.8,786.6 274.7,786.6 276.6,784.5 278.4,783.4 280.3,781.2 282.1,778.2 284,778.7 285.8,778.1 287.7,776.3 289.6,771.3 291.4,770.5 293.3,769.6 295.1,767.2 297,762.7 298.9,762.3 300.7,761.3 302.6,759.6 304.4,756.9 306.3,752.4 308.2,753.1 310,753.8 311.9,751.4 313.7,748.6 315.6,749.7 317.4,747.9 319.3,743.9 321.2,742.3 323,739.1 324.9,736.6 326.7,733.4 328.6,730.7 330.5,728.3 332.3,724.5 334.2,723.4 336,721 337.9,717.2 339.8,716 341.6,714.4 343.5,713.2 345.3,712 347.2,706.6 349,704.1 350.9,700.1 352.8,698.3 354.6,697.5 356.5,697.3 358.3,696.5 360.2,696.3 362.1,694.8 363.9,696.1 365.8,696 367.6,695.9 369.5,697.1 371.4,698.2 373.2,698.7 375.1,699.6 376.9,701.8 378.8,704.1 380.6,707.4 382.5,709.3 384.4,712.6 386.2,718.2 388.1,721.9 389.9,724.7 391.8,728.6 393.7,734.3 395.5,737.3 397.4,740.2 399.2,743 401.1,744.7 403,749.6 404.8,753.4 406.7,758.7 408.5,762.4 410.4,766.2 412.2,771.2 414.1,775.8 416,782.7 417.8,787.3 419.7,794.4 421.5,796.6 423.4,800.8 425.3,808.8 427.1,817.8 429,820.7 430.8,826.9 432.7,830.8 434.6,837.4 436.4,841.6 438.3,846.8 440.1,850.1 442,854.8 443.9,856.8 445.7,862.2 447.6,864.5 449.4,868.8 451.3,872.3 453.1,878.8 455,885 456.9,887 458.7,892.6 460.6,896.7 462.4,900.7 464.3,905.4 466.2,908.3 468,913.4 469.9,917.7" fill="none" stroke="none" marker-start="url(#md0)" marker-mid="url(#md0)" marker-end="url(#md0)"/>
<marker id="md1" markerUnits="userSpaceOnUse" markerWidth="10.8" markerHeight="10.8" refX="5.4" refY="5.4" overflow="visible"><path d="M2.7 5.4a2.7 2.7 0 1 0 5.4 0a2.7 2.7 0 1 0 -5.4 0z" fill="#fff" stroke="#ee1c24" stroke-width="0.75"/></marker>
<polyline points="44.2,886.7 46.2,887.4 48.3,885.8 50.3,884.6 52.4,882.3 54.4,881.9 56.5,884.6 58.5,885 60.6,885 62.6,882.6 64.6,881.9 66.7,882.3 68.7,881.3 70.8,881.5 72.8,880.3 74.9,879.8 76.9,878.1 79,877.6 81,876.3 83.1,876.4 85.1,875.5 87.1,875.8 89.2,874.9 91.2,874.7 93.3,874.8 95.3,875.3 97.4,875.3 99.4,874.3 101.5,877.1 103.5,874.4 105.6,877.1 107.6,876.1 109.7,875.5 111.7,873.4 113.7,872.3 115.8,871.7 117.8,871 119.9,869.1 121.9,865.6 124,865.4 126,868.4 128.1,868.4 130.1,867.3 132.2,862.3 134.2,863.7 136.2,864.2 138.3,863.2 140.3,862.7 142.4,864.3 144.4,862.5 146.5,863.9 148.5,863.5 150.6,861 152.6,862.4 154.7,862 156.7,858.9 158.7,858.9 160.8,859.8 162.8,859.8 164.9,857.7 166.9,859.2 169,858.9 171,859.7 173.1,859.8 175.1,856.4 177.2,855.3 179.2,854.8 181.3,853.1 183.3,853.1 185.3,853.6 187.4,850.7 189.4,848.5 191.5,848.9 193.5,846.9 195.6,844.1 197.6,843 199.7,841.8 201.7,843 203.8,842.2 205.8,843.8 207.8,840.7 209.9,839.7 211.9,836.7 214,836.8 216,834.5 218.1,835.7 220.1,834.8 222.2,832.6 224.2,830.8 226.3,829.6 228.3,830.7 230.3,827.2 232.4,825 234.4,822.3 236.5,819.9 238.5,819.8 240.6,818.3 242.6,813.8 244.7,814.6 246.7,813.2 248.8,813.2 250.8,809.7 252.8,808.8 254.9,809.4 256.9,809.1 259,809.7 261,811 263.1,812.5 265.1,810.6 267.2,809.4 269.2,806.5 271.3,805.2 273.3,802.4 275.4,797.9 277.4,798 279.4,797.9 281.5,794.5 283.5,789.7 285.6,790 287.6,791.1 289.7,789.8 291.7,788.7 293.8,786 295.8,786.1 297.9,784.7 299.9,783.5 301.9,783.9 304,784 306,781.1 308.1,778.4 310.1,777.8 312.2,773.9 314.2,771.4 316.3,769.9 318.3,768.2 320.4,767.1 322.4,765.5 324.4,763.8 326.5,763.3 328.5,765.7 330.6,764.8 332.6,764.8 334.7,765.2 336.7,762.9 338.8,764.3 340.8,761.8 342.9,761.8 344.9,762.5 347,762.7 349,758.3 351,756.1 353.1,756.6 355.1,755.3 357.2,753.3 359.2,755.4 361.3,756.6 363.3,756.1 365.4,756.7 367.4,758.5 369.5,757.5 371.5,758.5 373.5,759.1 375.6,757.7 377.6,759.5 379.7,758.3 381.7,761 383.8,764.2 385.8,766.8 387.9,768.6 389.9,771 392,774 394,779.9 396,784.8 398.1,788.4 400.1,790.6 402.2,792 404.2,799 406.3,802.1 408.3,805.7 410.4,808.6 412.4,811.2 414.5,815.4 416.5,820 418.5,821.2 420.6,823.2 422.6,827.1 424.7,830.6 426.7,834.9 428.8,840.2 430.8,842.5 432.9,847 434.9,852.2 437,856.5 439,857.7 441.1,861.1 443.1,864.9 445.1,868.8 447.2,871.6 449.2,874.7 451.3,880.8 453.3,884.8 455.4,889.2 457.4,892.2 459.5,895.6 461.5,901.5 463.6,902.5 465.6,905.1 467.6,910.5 469.7,911.3 471.7,913.9 473.8,916 475.8,918.8 477.9,921.3 479.9,924.7 482,929.5 484,932.4 486.1,934 488.1,935.9 490.1,937 492.2,939.3 494.2,944.4 496.3,944.8 498.3,947.5 500.4,950.7 502.4,952.2 504.5,955.1 506.5,955.4 508.6,957.6 510.6,955.7 512.6,957.5" fill="none" stroke="none" marker-start="url(#md1)" marker-mid="url(#md1)" marker-end="url(#md1)"/>
<marker id="md2" markerUnits="userSpaceOnUse" markerWidth="10.8" markerHeight="10.8" refX="5.4" refY="5.4" overflow="visible"><path d="M5.4 2.43L8.24 7.43L2.56 7.43z" fill="#fff" stroke="#7ac82a" stroke-width="0.75"/></marker>
<polyline points="44.2,888.2 46.2,888.9 48.3,891.4 50.3,891.6 52.4,891.6 54.4,890.8 56.5,892.8 58.5,891.2 60.6,888.1 62.6,887.9 64.6,887.1 66.7,885.8 68.7,886.3 70.8,886.2 72.8,884 74.9,883.3 76.9,884.6 79,886.3 81,882 83.1,880.9 85.1,882.8 87.1,881.9 89.2,880.3 91.2,879.7 93.3,881.9 95.3,878.4 97.4,877.2 99.4,877.3 101.5,876.1 103.5,876.2 105.6,876.4 107.6,874.7 109.7,877.3 111.7,875.1 113.7,874.1 115.8,872.7 117.8,871.3 119.9,869.1 121.9,867.5 124,866.8 126,868 128.1,867.3 130.1,868.2 132.2,869.5 134.2,868.5 136.2,867.8 138.3,865.9 140.3,868.9 142.4,867.4 144.4,866 146.5,865.5 148.5,863.1 150.6,864.3 152.6,863.5 154.7,863.7 156.7,863.3 158.7,864.1 160.8,863.5 162.8,861.8 164.9,861.1 166.9,860 169,860.6 171,857.7 173.1,858.3 175.1,857.7 177.2,856.3 179.2,856.1 181.3,854.5 183.3,853.9 185.3,851.1 187.4,850.3 189.4,849.7 191.5,850.7 193.5,849.6 195.6,847.8 197.6,846.9 199.7,847.8 201.7,847.8 203.8,847.2 205.8,846.1 207.8,846.9 209.9,842.9 211.9,842.1 214,841 216,840.7 218.1,839.6 220.1,835.9 222.2,836.6 224.2,836.4 226.3,836.8 228.3,836.2 230.3,832.7 232.4,832.7 234.4,832.2 236.5,833.5 238.5,832.4 240.6,830.5 242.6,829.8 244.7,828.9 246.7,826.3 248.8,824.4 250.8,823.6 252.8,823.7 254.9,824.6 256.9,820.7 259,821.8 261,819.6 263.1,818.7 265.1,818.5 267.2,816 269.2,815.9 271.3,813 273.3,813.5 275.4,811.7 277.4,809 279.4,809.7 281.5,805.9 283.5,804.4 285.6,807.3 287.6,804.5 289.7,801.4 291.7,801.8 293.8,801.8 295.8,801 297.9,803.2 299.9,802.1 301.9,800 304,800.2 306,798 308.1,794.6 310.1,797.5 312.2,799.5 314.2,799.6 316.3,797.7 318.3,796.5 320.4,797.4 322.4,798.3 324.4,798.5 326.5,795.3 328.5,796.3 330.6,796.6 332.6,794.7 334.7,794.9 336.7,796 338.8,793.6 340.8,793.1 342.9,794.2 344.9,794.7 347,793.4 349,794.3 351,794.3 353.1,793.5 355.1,792.9 357.2,796.5 359.2,797.7 361.3,798.7 363.3,799.2 365.4,799 367.4,798.6 369.5,800.8 371.5,803.6 373.5,804.3 375.6,806.2 377.6,804.6 379.7,805.5 381.7,806.9 383.8,807 385.8,809.6 387.9,811.7 389.9,813.7 392,814.5 394,814.9 396,816.5 398.1,818.4 400.1,821.8 402.2,824.2 404.2,827.5 406.3,828.8 408.3,832.7 410.4,835.7 412.4,838.1 414.5,839.9 416.5,843.9 418.5,846.9 420.6,850.7 422.6,855 424.7,855.7 426.7,857.6 428.8,862.3 430.8,865.9 432.9,867.2 434.9,870.3 437,874 439,874.3 441.1,877.5 443.1,880.3 445.1,881.8 447.2,885.2 449.2,887.4 451.3,889.4 453.3,890.7 455.4,894.2 457.4,895 459.5,897 461.5,897.1 463.6,899.8 465.6,903.4 467.6,906.6 469.7,910.4 471.7,912.3 473.8,914.2 475.8,914.8 477.9,916.8 479.9,920 482,920.4 484,923 486.1,924.4 488.1,924.2 490.1,924.6 492.2,928 494.2,930.1 496.3,930 498.3,930.8 500.4,932.2 502.4,933.2 504.5,938.3 506.5,940.1 508.6,943.4 510.6,945.1 512.6,946.3" fill="none" stroke="none" marker-start="url(#md2)" marker-mid="url(#md2)" marker-end="url(#md2)"/>
<marker id="md3" markerUnits="userSpaceOnUse" markerWidth="10.8" markerHeight="10.8" refX="5.4" refY="5.4" overflow="visible"><path d="M5.4 8.37L8.24 3.38L2.56 3.38z" fill="#fff" stroke="#2a3ca8" stroke-width="0.75"/></marker>
<polyline points="44.2,890.2 46.2,888.4 48.3,887.3 50.3,887.2 52.4,887.8 54.4,886 56.5,886 58.5,888.6 60.6,888.3 62.6,887.3 64.6,888.4 66.7,887.6 68.7,885.1 70.8,885.4 72.8,885.4 74.9,885.3 76.9,886.4 79,886.5 81,887.2 83.1,886.8 85.1,887.1 87.1,884.8 89.2,884.4 91.2,882.6 93.3,884 95.3,883.4 97.4,882 99.4,880.6 101.5,881.2 103.5,880.9 105.6,880.3 107.6,880.4 109.7,880.4 111.7,879.1 113.7,880.3 115.8,882 117.8,881.5 119.9,879.9 121.9,882 124,878.7 126,877.7 128.1,876.1 130.1,876.6 132.2,875.9 134.2,872.7 136.2,869.9 138.3,869.3 140.3,869.9 142.4,870.1 144.4,868.2 146.5,869.3 148.5,870.5 150.6,870.1 152.6,868.4 154.7,869.5 156.7,868.4 158.7,867.4 160.8,866.8 162.8,866.6 164.9,864.8 166.9,863.7 169,865.6 171,862.7 173.1,861.9 175.1,861.3 177.2,861.6 179.2,861.7 181.3,864.6 183.3,863.7 185.3,861.7 187.4,860 189.4,860.2 191.5,862.6 193.5,862.6 195.6,861.3 197.6,857.9 199.7,859 201.7,857.5 203.8,855.2 205.8,853.2 207.8,852.4 209.9,855.3 211.9,852.7 214,851.2 216,849.2 218.1,849.5 220.1,848.9 222.2,845.5 224.2,844.9 226.3,844.1 228.3,844.3 230.3,841.6 232.4,843.3 234.4,842.9 236.5,841.2 238.5,840.4 240.6,838.3 242.6,837.1 244.7,834.6 246.7,834.8 248.8,834.7 250.8,833.9 252.8,836 254.9,833.1 256.9,833.9 259,831.7 261,829.3 263.1,827.9 265.1,827.8 267.2,828.8 269.2,831.5 271.3,829.8 273.3,829.5 275.4,826.5 277.4,826.8 279.4,825.6 281.5,826.1 283.5,825.2 285.6,825.5 287.6,825.4 289.7,827.7 291.7,827.9 293.8,827.2 295.8,824.6 297.9,823.9 299.9,825.3 301.9,822.6 304,822 306,820.5 308.1,822 310.1,826.4 312.2,826.5 314.2,826.9 316.3,825.5 318.3,826.8 320.4,827 322.4,827.8 324.4,826.4 326.5,826.8 328.5,824 330.6,822.6 332.6,821.5 334.7,822.1 336.7,821.9 338.8,821 340.8,822.7 342.9,821.2 344.9,821.9 347,820.7 349,818.5 351,817.8 353.1,820.9 355.1,820.4 357.2,822.2 359.2,824 361.3,825.2 363.3,827.7 365.4,827.9 367.4,829.5 369.5,828.5 371.5,828.9 373.5,833.5 375.6,835.1 377.6,836.7 379.7,837.8 381.7,838.9 383.8,838.8 385.8,839.5 387.9,841.7 389.9,841.7 392,841.4 394,842.9 396,842.9 398.1,844.3 400.1,847.2 402.2,849.7 404.2,851.5 406.3,852.6 408.3,854.3 410.4,854.9 412.4,855.5 414.5,859.3 416.5,862.9 418.5,864.6 420.6,865.7 422.6,866.3 424.7,867.5 426.7,868.9 428.8,872.6 430.8,874.1 432.9,877.2 434.9,878.7 437,879.6 439,883 441.1,885.5 443.1,884.2 445.1,887.9 447.2,890.9 449.2,894.5 451.3,898.1 453.3,898 455.4,900.6 457.4,902.9 459.5,905.2 461.5,910.2 463.6,909.6 465.6,911.3 467.6,912.2 469.7,911.3 471.7,912.9 473.8,914.2 475.8,915.4 477.9,915.2 479.9,918.8 482,921 484,925.2 486.1,925.8 488.1,925.7 490.1,927.4 492.2,925.7 494.2,925.9 496.3,925 498.3,927 500.4,926.6 502.4,929.7 504.5,931.2 506.5,932.9 508.6,935.4 510.6,934.7 512.6,934.8" fill="none" stroke="none" marker-start="url(#md3)" marker-mid="url(#md3)" marker-end="url(#md3)"/>
<marker id="md4" markerUnits="userSpaceOnUse" markerWidth="10.8" markerHeight="10.8" refX="5.4" refY="5.4" overflow="visible"><path d="M5.4 2.3L8.51 5.4L5.4 8.51L2.3 5.4z" fill="#fff" stroke="#35d0e0" stroke-width="0.75"/></marker>
<polyline points="44.2,893.3 46.2,892.1 48.3,891.9 50.3,891.6 52.4,890.7 54.4,891.4 56.5,891 58.5,890.4 60.6,891.2 62.6,891.6 64.6,890 66.7,889.8 68.7,886.4 70.8,883.9 72.8,885.8 74.9,885.8 76.9,889 79,889.6 81,890.3 83.1,890.7 85.1,892.8 87.1,891.2 89.2,889.9 91.2,890.2 93.3,889.3 95.3,887.2 97.4,884.5 99.4,886.2 101.5,883.6 103.5,885.9 105.6,886.5 107.6,886.3 109.7,883.4 111.7,882.3 113.7,881.3 115.8,879.2 117.8,879.2 119.9,880 121.9,878 124,878.5 126,880.3 128.1,882.3 130.1,881.2 132.2,877.9 134.2,876.6 136.2,876.5 138.3,874.7 140.3,876.8 142.4,875.8 144.4,876.2 146.5,873.7 148.5,874.7 150.6,873.2 152.6,872.6 154.7,872.3 156.7,871 158.7,871 160.8,868.7 162.8,869 164.9,871.8 166.9,869 169,866.8 171,866 173.1,864.1 175.1,863.4 177.2,864.8 179.2,867.4 181.3,868.1 183.3,867.4 185.3,865.7 187.4,866.8 189.4,866.9 191.5,863.6 193.5,863.8 195.6,863.8 197.6,864.1 199.7,860.6 201.7,858.8 203.8,857.1 205.8,854.5 207.8,853.3 209.9,851.7 211.9,851.6 214,850.6 216,850.1 218.1,849.5 220.1,851.4 222.2,851.6 224.2,851.8 226.3,852.3 228.3,851.7 230.3,848.7 232.4,847.3 234.4,847.3 236.5,846.9 238.5,845 240.6,847 242.6,846.4 244.7,844 246.7,841.9 248.8,841.4 250.8,841.3 252.8,844.5 254.9,845.4 256.9,845.2 259,844.5 261,843.7 263.1,846.8 265.1,846.8 267.2,845.7 269.2,846.1 271.3,845.7 273.3,844.3 275.4,843.4 277.4,842.9 279.4,841.6 281.5,840.1 283.5,840.8 285.6,842.4 287.6,843.2 289.7,843.5 291.7,843.2 293.8,845 295.8,845.4 297.9,845 299.9,842.5 301.9,841.7 304,842 306,840.8 308.1,840.8 310.1,840.7 312.2,839.6 314.2,839.6 316.3,840 318.3,839.4 320.4,840.8 322.4,841.1 324.4,844.2 326.5,844.5 328.5,842.1 330.6,842.9 332.6,843 334.7,843.8 336.7,845.3 338.8,844.5 340.8,844.6 342.9,843.3 344.9,845 347,845.3 349,846 351,847.1 353.1,845.8 355.1,847.3 357.2,848.6 359.2,845.4 361.3,846.5 363.3,847.8 365.4,848.2 367.4,850.7 369.5,851.2 371.5,853.9 373.5,855.3 375.6,856.8 377.6,855.6 379.7,855.9 381.7,854.7 383.8,854.2 385.8,857.2 387.9,858.3 389.9,860.7 392,863.1 394,862.8 396,862.5 398.1,864.3 400.1,865.8 402.2,867.2 404.2,868.6 406.3,870 408.3,873.2 410.4,873.8 412.4,876.4 414.5,879.4 416.5,880.7 418.5,881.4 420.6,881.5 422.6,882.5 424.7,883.7 426.7,886.2 428.8,887.1 430.8,888.3 432.9,889.4 434.9,892 437,891.1 439,891.9 441.1,892.9 443.1,894.8 445.1,897.1 447.2,897.6 449.2,901.3 451.3,903.3 453.3,904.9 455.4,905.3 457.4,907.1 459.5,906.4 461.5,910.3 463.6,909.2 465.6,910.3 467.6,910.5 469.7,912.9 471.7,912.9 473.8,915 475.8,916.1 477.9,919.5 479.9,919.7 482,920.7 484,924.4 486.1,925.1 488.1,926.2 490.1,925.7 492.2,927.6 494.2,928.1 496.3,927.2 498.3,929.6 500.4,928 502.4,929.1 504.5,930.9 506.5,934 508.6,937.2 510.6,936.2 512.6,937.6" fill="none" stroke="none" marker-start="url(#md4)" marker-mid="url(#md4)" marker-end="url(#md4)"/>
<marker id="md5" markerUnits="userSpaceOnUse" markerWidth="10.8" markerHeight="10.8" refX="5.4" refY="5.4" overflow="visible"><path d="M2.43 5.4L7.43 2.56L7.43 8.24z" fill="#fff" stroke="#c83cb4" stroke-width="0.75"/></marker>
<polyline points="44.2,902.3 46.2,900.6 48.3,899.6 50.3,899.6 52.4,901.7 54.4,903.9 56.5,901.7 58.5,901.3 60.6,901.1 62.6,897.9 64.6,898.5 66.7,897.9 68.7,894.8 70.8,894.4 72.8,895.6 74.9,896.8 76.9,895 79,896.8 81,895.3 83.1,892.9 85.1,893.3 87.1,892.3 89.2,892.5 91.2,890.6 93.3,890.7 95.3,891.9 97.4,891.4 99.4,891.2 101.5,892 103.5,892.1 105.6,893.3 107.6,893.7 109.7,892 111.7,893.9 113.7,892.4 115.8,891.5 117.8,891.5 119.9,888.7 121.9,887.4 124,887.9 126,887.2 128.1,885.5 130.1,887.4 132.2,886.5 134.2,886.2 136.2,885 138.3,881.6 140.3,882.5 142.4,882.7 144.4,884 146.5,882.9 148.5,881.4 150.6,884.3 152.6,881.1 154.7,878.3 156.7,881.7 158.7,882.8 160.8,880.8 162.8,879.7 164.9,877.2 166.9,877 169,874.7 171,876.3 173.1,875 175.1,875.1 177.2,875.1 179.2,876.7 181.3,876.1 183.3,873.1 185.3,873.3 187.4,872.8 189.4,871.8 191.5,872.4 193.5,871.2 195.6,869.6 197.6,869.4 199.7,871.3 201.7,868.1 203.8,867.5 205.8,867 207.8,866.8 209.9,867 211.9,868.6 214,867.5 216,866.3 218.1,864.1 220.1,861.4 222.2,862.4 224.2,859.9 226.3,860 228.3,859.2 230.3,860.8 232.4,860.1 234.4,861.2 236.5,859.8 238.5,861.2 240.6,860.5 242.6,860.5 244.7,859.3 246.7,858.5 248.8,857.9 250.8,858.3 252.8,856.7 254.9,855.7 256.9,856.8 259,855.6 261,856.4 263.1,856.1 265.1,856.1 267.2,856.1 269.2,854.8 271.3,857.3 273.3,855.1 275.4,857.4 277.4,855.2 279.4,854.3 281.5,856.4 283.5,855.5 285.6,855.7 287.6,857.1 289.7,854.9 291.7,853.3 293.8,853 295.8,851.1 297.9,851.6 299.9,852.6 301.9,851.3 304,853.1 306,852.4 308.1,851.5 310.1,852 312.2,852.5 314.2,852.5 316.3,852.9 318.3,854.5 320.4,859.7 322.4,859.8 324.4,861.2 326.5,859 328.5,859.3 330.6,858.6 332.6,857.4 334.7,856.2 336.7,857.9 338.8,855.2 340.8,854.8 342.9,854.9 344.9,857.3 347,855.2 349,855.6 351,855.3 353.1,857.1 355.1,855.7 357.2,855.3 359.2,857.2 361.3,856.2 363.3,859.7 365.4,860 367.4,860.9 369.5,861.8 371.5,864.7 373.5,866.7 375.6,866.7 377.6,866.7 379.7,868.4 381.7,870.2 383.8,872.2 385.8,871.4 387.9,873 389.9,875 392,878.6 394,881.6 396,883.2 398.1,886 400.1,886.2 402.2,886.4 404.2,887.7 406.3,888.2 408.3,888.3 410.4,891 412.4,889.9 414.5,894.1 416.5,891.1 418.5,893.7 420.6,893.9 422.6,894.8 424.7,894.7 426.7,896.5 428.8,896.3 430.8,899.3 432.9,898.7 434.9,899.9 437,900.2 439,899.8 441.1,902.7 443.1,904.5 445.1,906.3 447.2,907.1 449.2,907.6 451.3,907.4 453.3,908.2 455.4,909.5 457.4,909.8 459.5,909.5 461.5,909.6 463.6,908.3 465.6,911.2 467.6,912.5 469.7,915.9 471.7,917.9 473.8,917.9 475.8,917.2 477.9,919.2 479.9,919.6 482,920.7 484,921.1 486.1,922 488.1,923.9 490.1,928 492.2,930.4 494.2,929.9 496.3,930.3 498.3,927.8 500.4,928.8 502.4,928.5 504.5,931.3 506.5,934 508.6,934.1 510.6,932.4 512.6,932.8" fill="none" stroke="none" marker-start="url(#md5)" marker-mid="url(#md5)" marker-end="url(#md5)"/>
<marker id="md6" markerUnits="userSpaceOnUse" markerWidth="10.8" markerHeight="10.8" refX="5.4" refY="5.4" overflow="visible"><path d="M8.37 5.4L3.38 2.56L3.38 8.24z" fill="#fff" stroke="#f6ee3a" stroke-width="0.75"/></marker>
<polyline points="44.2,908.3 46.2,907.6 48.3,906.7 50.3,906.1 52.4,906.2 54.4,907.7 56.5,909 58.5,909.2 60.6,908.7 62.6,909.9 64.6,906.9 66.7,905.7 68.7,906.3 70.8,905 72.8,901.6 74.9,901.8 76.9,902 79,901 81,903.3 83.1,904.1 85.1,905 87.1,903.5 89.2,905.6 91.2,904.5 93.3,904.7 95.3,904.5 97.4,904.7 99.4,902 101.5,903 103.5,904.2 105.6,903 107.6,903.3 109.7,901.9 111.7,901.6 113.7,901.1 115.8,900.6 117.8,902.6 119.9,904.5 121.9,900.5 124,901.5 126,900 128.1,900.9 130.1,900.2 132.2,899.7 134.2,897 136.2,896.9 138.3,898.6 140.3,899.8 142.4,898.2 144.4,896.1 146.5,892.9 148.5,890 150.6,892.4 152.6,892.5 154.7,894 156.7,893.1 158.7,891.6 160.8,893.9 162.8,892 164.9,890.6 166.9,890.8 169,891.3 171,888.6 173.1,888.8 175.1,890.2 177.2,889.7 179.2,887.9 181.3,887 183.3,889.7 185.3,891.1 187.4,890.9 189.4,889.9 191.5,889.1 193.5,890.4 195.6,888.4 197.6,887.3 199.7,889.2 201.7,889.9 203.8,889.2 205.8,890.6 207.8,889.5 209.9,888.4 211.9,888.4 214,886.9 216,884 218.1,885.1 220.1,884.3 222.2,885 224.2,882.7 226.3,881.3 228.3,881.9 230.3,883.2 232.4,882.3 234.4,882.7 236.5,884.6 238.5,885.8 240.6,885.7 242.6,882.4 244.7,881.2 246.7,879.9 248.8,879.4 250.8,878.5 252.8,877.5 254.9,880.4 256.9,880.3 259,880.2 261,880.3 263.1,880.5 265.1,884.7 267.2,884.4 269.2,886.2 271.3,884.6 273.3,885.2 275.4,885.5 277.4,885.4 279.4,888 281.5,887.6 283.5,888.7 285.6,886.7 287.6,887 289.7,888.2 291.7,885.9 293.8,886.2 295.8,887.3 297.9,887.1 299.9,887.2 301.9,886.6 304,888 306,886.3 308.1,886 310.1,884.1 312.2,884 314.2,886.1 316.3,885.1 318.3,886.1 320.4,886.5 322.4,890.4 324.4,891.9 326.5,889.6 328.5,888.1 330.6,891 332.6,890.4 334.7,890.1 336.7,888.6 338.8,890.7 340.8,893.4 342.9,892.8 344.9,893.7 347,894.4 349,895.5 351,893.5 353.1,894.9 355.1,893.5 357.2,893.1 359.2,894.5 361.3,893.5 363.3,892.4 365.4,892.9 367.4,894.2 369.5,893.9 371.5,895.9 373.5,895.9 375.6,894.6 377.6,897.5 379.7,900.6 381.7,899.8 383.8,901.4 385.8,902.1 387.9,902.1 389.9,903.1 392,903.1 394,904.7 396,905.4 398.1,905.5 400.1,904.9 402.2,905.8 404.2,905.5 406.3,905.1 408.3,905.1 410.4,905.9 412.4,904.8 414.5,906.9 416.5,906.2 418.5,905.8 420.6,905.8 422.6,907.8 424.7,907.5 426.7,908 428.8,910.8 430.8,912 432.9,914.4 434.9,914.2 437,912.8 439,912.5 441.1,914.9 443.1,917 445.1,917.7 447.2,918.4 449.2,917.8 451.3,918.9 453.3,917.9 455.4,919.5 457.4,918.8 459.5,921.7 461.5,922.9 463.6,923.2 465.6,922.5 467.6,922.4 469.7,924.4 471.7,926.7 473.8,926.8 475.8,927.2 477.9,927.9 479.9,928.2 482,930.2 484,929.5 486.1,928.3 488.1,930 490.1,931.4 492.2,929.8 494.2,928.9 496.3,930.7 498.3,932.1 500.4,934.8 502.4,934 504.5,933.8 506.5,934 508.6,931.2 510.6,932.3 512.6,933.2" fill="none" stroke="none" marker-start="url(#md6)" marker-mid="url(#md6)" marker-end="url(#md6)"/>
<marker id="md7" markerUnits="userSpaceOnUse" markerWidth="10.8" markerHeight="10.8" refX="5.4" refY="5.4" overflow="visible"><path d="M7.97 6.89L5.4 8.37L2.83 6.89L2.83 3.92L5.4 2.43L7.97 3.92z" fill="#fff" stroke="#8a8a1e" stroke-width="0.75"/></marker>
<polyline points="44.2,913.9 46.2,914 48.3,912.3 50.3,912.6 52.4,912.5 54.4,909.4 56.5,910.8 58.5,912.7 60.6,912.4 62.6,913.2 64.6,913.8 66.7,913.1 68.7,911.6 70.8,913.7 72.8,913.5 74.9,915.9 76.9,913.7 79,914.5 81,912.9 83.1,910 85.1,908.3 87.1,908.2 89.2,911.3 91.2,908.5 93.3,909.3 95.3,908.4 97.4,909.3 99.4,909.7 101.5,907.4 103.5,910 105.6,911.5 107.6,911.3 109.7,909.4 111.7,912.6 113.7,910 115.8,910.2 117.8,908.8 119.9,905 121.9,904.8 124,903.7 126,902.5 128.1,903.7 130.1,904 132.2,904.7 134.2,904.6 136.2,905.2 138.3,905.9 140.3,906.5 142.4,905.1 144.4,906.7 146.5,906 148.5,903.7 150.6,905.6 152.6,907.5 154.7,905.7 156.7,906.2 158.7,906.4 160.8,904.7 162.8,903.7 164.9,904.3 166.9,904.2 169,905.6 171,905.5 173.1,904.7 175.1,903.1 177.2,901.8 179.2,899.2 181.3,899.5 183.3,898.3 185.3,898.3 187.4,899.9 189.4,899.5 191.5,899 193.5,898.3 195.6,897.8 197.6,898 199.7,899.4 201.7,899.8 203.8,899.3 205.8,898.3 207.8,897.3 209.9,897.1 211.9,896.6 214,895.1 216,895.5 218.1,896.8 220.1,899.1 222.2,898.9 224.2,897.9 226.3,898.5 228.3,896.5 230.3,898 232.4,898.6 234.4,898.6 236.5,900.2 238.5,898.5 240.6,899.5 242.6,900.9 244.7,902.9 246.7,900.8 248.8,898.6 250.8,900 252.8,901.7 254.9,901.7 256.9,901.2 259,901.5 261,900.3 263.1,901.5 265.1,898.3 267.2,898 269.2,896.9 271.3,897.9 273.3,896.9 275.4,895.2 277.4,897.1 279.4,897.4 281.5,896.5 283.5,896.6 285.6,898.4 287.6,899.4 289.7,898.8 291.7,898.6 293.8,899.9 295.8,899.6 297.9,902.9 299.9,902.5 301.9,901.1 304,900 306,901.1 308.1,901.1 310.1,901.2 312.2,901.8 314.2,903.4 316.3,905.5 318.3,906.2 320.4,907.7 322.4,910.2 324.4,907.8 326.5,909.6 328.5,910.1 330.6,910.5 332.6,912.5 334.7,911.4 336.7,913.4 338.8,910.4 340.8,912.4 342.9,913.3 344.9,913.2 347,913.2 349,913.1 351,911.6 353.1,910.1 355.1,907.5 357.2,910.2 359.2,909.4 361.3,909.2 363.3,910.6 365.4,913.1 367.4,910.1 369.5,909.4 371.5,913 373.5,911.5 375.6,911.8 377.6,912.5 379.7,912.3 381.7,914.2 383.8,915.1 385.8,914.5 387.9,916.9 389.9,919.3 392,921.7 394,920.3 396,921.8 398.1,922.2 400.1,922.7 402.2,921.8 404.2,921.4 406.3,922.8 408.3,921 410.4,920.9 412.4,921.1 414.5,922.3 416.5,923.3 418.5,924 420.6,924.3 422.6,924.1 424.7,924 426.7,924.9 428.8,925.6 430.8,925.1 432.9,924 434.9,923.2 437,924.4 439,927.2 441.1,927.5 443.1,927.8 445.1,928.2 447.2,928.1 449.2,929.4 451.3,929.8 453.3,933.4 455.4,930.8 457.4,931.2 459.5,932.1 461.5,931.7 463.6,932.6 465.6,934 467.6,933 469.7,933.4 471.7,934.8 473.8,934.1 475.8,934 477.9,934 479.9,935 482,934.1 484,936 486.1,935.3 488.1,933.8 490.1,936 492.2,936.3 494.2,939.4 496.3,939.4 498.3,941.8 500.4,943.3 502.4,942.5 504.5,940.7 506.5,940.1 508.6,940.6 510.6,941.9 512.6,941.9" fill="none" stroke="none" marker-start="url(#md7)" marker-mid="url(#md7)" marker-end="url(#md7)"/>
<polyline points="43.6,883.3 46.6,882.8 49.5,882.3 52.5,881.7 55.4,881.2 58.4,880.7 61.3,880.1 64.2,879.5 67.2,878.9 70.2,878.3 73.1,877.7 76.1,877.1 79,876.4 82,875.8 84.9,875.1 87.8,874.4 90.8,873.8 93.8,873.1 96.7,872.4 99.7,871.7 102.6,870.9 105.6,870.2 108.5,869.5 111.5,868.7 114.4,868 117.3,867.2 120.3,866.4 123.2,865.6 126.2,864.8 129.2,864 132.1,863.2 135.1,862.4 138,861.6 141,860.7 143.9,859.8 146.8,859 149.8,858.1 152.8,857.1 155.7,856.2 158.7,855.2 161.6,854.3 164.6,853.3 167.5,852.3 170.4,851.2 173.4,850.2 176.3,849.1 179.3,848 182.2,846.8 185.2,845.7 188.2,844.5 191.1,843.2 194.1,841.9 197,840.6 200,839.1 202.9,837.6 205.8,836.1 208.8,834.4 211.8,832.8 214.7,831.1 217.7,829.4 220.6,827.7 223.6,825.9 226.5,824.2 229.5,822.4 232.4,820.7 235.3,819 238.3,817.2 241.2,815.5 244.2,813.7 247.2,811.9 250.1,810 253.1,808.2 256,806.3 259,804.4 261.9,802.5 264.9,800.5 267.8,798.5 270.8,796.5 273.7,794.4 276.7,792.3 279.6,790.1 282.6,787.8 285.5,785.4 288.5,782.8 291.4,780.1 294.4,777.3 297.3,774.4 300.3,771.5 303.2,768.5 306.2,765.4 309.1,762.3 312.1,759.1 315,755.9 318,752.6 320.9,749.3 323.9,746 326.8,742.5 329.8,738.9 332.7,735.1 335.7,731.1 338.6,726.9 341.6,722.3 344.5,717.5 347.5,712.9 350.4,708.7 353.4,705.1 356.3,702.2 359.3,699.8 362.2,698 365.2,696.6 368.1,695.8 371.1,695.7 374,696.3 377,697.9 379.9,700.6 382.9,704.5 385.8,709.5 388.8,715.4 391.7,721.9 394.7,728.9 397.6,736 400.6,743.4 403.5,751 406.5,759.1 409.4,768 412.4,777.3 415.3,787.1 418.3,797 421.2,806.9 424.2,816.5 427.1,825.7 430.1,834.4 433,842.6 436,850.2 438.9,857.4 441.9,864.1 444.8,870.5 447.8,876.8 450.7,883.2 453.7,889.6 456.6,896 459.6,902.2 462.5,908 465.5,913.6 468.4,918.7 471.4,923.6 474.3,928.3 477.3,932.6 480.2,936.8 483.2,940.7 486.1,944.4 489.1,947.9 492,951.3 495,954.4 497.9,957.3 500.9,959.9 503.8,962.1 506.8,964.2 509.7,966.1 512.6,967.7 515.6,969.3" fill="none" stroke="#000000" stroke-width="2.6" stroke-linejoin="round"/>
<polyline points="43.6,886.8 46.6,886.3 49.5,885.7 52.5,885.2 55.4,884.6 58.4,884.1 61.3,883.5 64.2,882.9 67.2,882.3 70.2,881.7 73.1,881.1 76.1,880.4 79,879.8 82,879.1 84.9,878.5 87.8,877.8 90.8,877.2 93.8,876.5 96.7,875.8 99.7,875.1 102.6,874.4 105.6,873.7 108.5,872.9 111.5,872.2 114.4,871.5 117.3,870.7 120.3,870 123.2,869.2 126.2,868.5 129.2,867.7 132.1,867 135.1,866.2 138,865.4 141,864.6 143.9,863.8 146.8,863 149.8,862.2 152.8,861.3 155.7,860.4 158.7,859.6 161.6,858.7 164.6,857.7 167.5,856.8 170.4,855.8 173.4,854.8 176.3,853.8 179.3,852.8 182.2,851.7 185.2,850.6 188.2,849.5 191.1,848.3 194.1,847 197,845.7 200,844.3 202.9,842.8 205.8,841.3 208.8,839.7 211.8,838.1 214.7,836.5 217.7,834.7 220.6,833 223.6,831.3 226.5,829.5 229.5,827.7 232.4,825.9 235.3,824 238.3,822.1 241.2,820.1 244.2,818.1 247.2,816 250.1,814 253.1,811.9 256,809.9 259,807.8 261.9,805.8 264.9,803.9 267.8,801.9 270.8,800 273.7,798.1 276.7,796.2 279.6,794.2 282.6,792.4 285.5,790.5 288.5,788.6 291.4,786.8 294.4,784.9 297.3,783 300.3,781.2 303.2,779.3 306.2,777.5 309.1,775.7 312.1,773.9 315,772.2 318,770.5 320.9,769 323.9,767.5 326.8,766 329.8,764.5 332.7,763 335.7,761.7 338.6,760.6 341.6,759.7 344.5,759 347.5,758.5 350.4,758.1 353.4,757.8 356.3,757.6 359.3,757.7 362.2,758.1 365.2,759 368.1,760.2 371.1,761.6 374,763.1 377,764.8 379.9,766.7 382.9,768.8 385.8,771.2 388.8,774.2 391.7,777.9 394.7,782.2 397.6,786.9 400.6,791.7 403.5,796.4 406.5,801 409.4,805.6 412.4,810.1 415.3,814.7 418.3,819.4 421.2,824.1 424.2,828.9 427.1,834 430.1,839.3 433,844.9 436,850.8 438.9,856.8 441.9,862.8 444.8,868.6 447.8,874.2 450.7,879.6 453.7,884.9 456.6,890 459.6,895 462.5,899.7 465.5,904.3 468.4,908.7 471.4,912.9 474.3,916.9 477.3,920.8 480.2,924.6 483.2,928.3 486.1,931.8 489.1,935.2 492,938.4 495,941.4 497.9,944.3 500.9,946.9 503.8,949.5 506.8,951.9 509.7,954.2 512.6,956.4 515.6,958.4" fill="none" stroke="#ee1c24" stroke-width="2.6" stroke-linejoin="round"/>
<polyline points="43.6,888.3 46.6,887.8 49.5,887.4 52.5,886.9 55.4,886.4 58.4,885.9 61.3,885.4 64.2,884.8 67.2,884.3 70.2,883.7 73.1,883.2 76.1,882.6 79,882 82,881.5 84.9,880.9 87.8,880.3 90.8,879.6 93.8,879 96.7,878.4 99.7,877.8 102.6,877.1 105.6,876.5 108.5,875.8 111.5,875.1 114.4,874.5 117.3,873.8 120.3,873.1 123.2,872.4 126.2,871.7 129.2,871 132.1,870.3 135.1,869.6 138,868.8 141,868.1 143.9,867.3 146.8,866.6 149.8,865.8 152.8,865 155.7,864.2 158.7,863.4 161.6,862.5 164.6,861.6 167.5,860.8 170.4,859.9 173.4,858.9 176.3,858 179.3,857 182.2,856 185.2,855 188.2,853.9 191.1,852.8 194.1,851.6 197,850.4 200,849 202.9,847.6 205.8,846.2 208.8,844.6 211.8,843.1 214.7,841.5 217.7,840 220.6,838.4 223.6,836.9 226.5,835.3 229.5,833.9 232.4,832.4 235.3,831 238.3,829.6 241.2,828.2 244.2,826.8 247.2,825.4 250.1,824 253.1,822.6 256,821.2 259,819.8 261.9,818.4 264.9,817 267.8,815.6 270.8,814.2 273.7,812.7 276.7,811.3 279.6,809.9 282.6,808.5 285.5,807.3 288.5,806 291.4,804.9 294.4,803.8 297.3,802.7 300.3,801.6 303.2,800.6 306.2,799.6 309.1,798.6 312.1,797.8 315,797 318,796.4 320.9,795.8 323.9,795.4 326.8,795.1 329.8,794.8 332.7,794.6 335.7,794.3 338.6,794.2 341.6,794.1 344.5,794.1 347.5,794.3 350.4,794.7 353.4,795.2 356.3,796 359.3,796.9 362.2,798 365.2,799.5 368.1,801.1 371.1,802.8 374,804.5 377,806 379.9,807.6 382.9,809.2 385.8,811 388.8,813.1 391.7,815.6 394.7,818.4 397.6,821.6 400.6,825.1 403.5,828.7 406.5,832.3 409.4,835.9 412.4,839.6 415.3,843.3 418.3,847.1 421.2,851 424.2,854.8 427.1,858.6 430.1,862.4 433,866.2 436,870 438.9,873.8 441.9,877.6 444.8,881.3 447.8,884.9 450.7,888.5 453.7,891.9 456.6,895.4 459.6,898.7 462.5,902 465.5,905.2 468.4,908.3 471.4,911.3 474.3,914.2 477.3,917.1 480.2,919.9 483.2,922.5 486.1,925.1 489.1,927.6 492,929.9 495,932.1 497.9,934.3 500.9,936.4 503.8,938.4 506.8,940.3 509.7,942.1 512.6,943.9 515.6,945.6" fill="none" stroke="#7ac82a" stroke-width="2.6" stroke-linejoin="round"/>
<polyline points="43.6,890.3 46.6,889.9 49.5,889.5 52.5,889.1 55.4,888.6 58.4,888.2 61.3,887.7 64.2,887.3 67.2,886.8 70.2,886.3 73.1,885.8 76.1,885.3 79,884.8 82,884.3 84.9,883.7 87.8,883.2 90.8,882.6 93.8,882.1 96.7,881.5 99.7,880.9 102.6,880.4 105.6,879.8 108.5,879.2 111.5,878.6 114.4,877.9 117.3,877.3 120.3,876.7 123.2,876.1 126.2,875.4 129.2,874.8 132.1,874.1 135.1,873.4 138,872.7 141,872 143.9,871.3 146.8,870.6 149.8,869.8 152.8,869.1 155.7,868.3 158.7,867.5 161.6,866.7 164.6,865.9 167.5,865.1 170.4,864.2 173.4,863.4 176.3,862.5 179.3,861.6 182.2,860.7 185.2,859.8 188.2,858.9 191.1,857.9 194.1,856.8 197,855.7 200,854.6 202.9,853.4 205.8,852.1 208.8,850.9 211.8,849.6 214.7,848.3 217.7,847 220.6,845.8 223.6,844.5 226.5,843.4 229.5,842.2 232.4,841.1 235.3,840.1 238.3,839 241.2,838 244.2,837 247.2,836 250.1,835 253.1,834.1 256,833.2 259,832.4 261.9,831.5 264.9,830.7 267.8,830 270.8,829.2 273.7,828.4 276.7,827.7 279.6,827 282.6,826.4 285.5,825.8 288.5,825.2 291.4,824.7 294.4,824.3 297.3,823.9 300.3,823.5 303.2,823.1 306.2,822.7 309.1,822.4 312.1,822.1 315,821.9 318,821.7 320.9,821.7 323.9,821.6 326.8,821.7 329.8,821.8 332.7,822 335.7,822.2 338.6,822.5 341.6,822.8 344.5,823.1 347.5,823.5 350.4,824 353.4,824.6 356.3,825.2 359.3,825.9 362.2,826.7 365.2,827.6 368.1,828.6 371.1,829.7 374,830.8 377,832.1 379.9,833.5 382.9,835 385.8,836.6 388.8,838.4 391.7,840.5 394.7,842.8 397.6,845.3 400.6,848 403.5,850.7 406.5,853.3 409.4,855.9 412.4,858.5 415.3,861 418.3,863.6 421.2,866.2 424.2,868.8 427.1,871.5 430.1,874.3 433,877.2 436,880.2 438.9,883.2 441.9,886.2 444.8,889.2 447.8,892 450.7,894.8 453.7,897.4 456.6,900 459.6,902.5 462.5,904.9 465.5,907.2 468.4,909.6 471.4,911.9 474.3,914.1 477.3,916.3 480.2,918.5 483.2,920.6 486.1,922.7 489.1,924.7 492,926.7 495,928.7 497.9,930.6 500.9,932.5 503.8,934.4 506.8,936.2 509.7,938 512.6,939.7 515.6,941.5" fill="none" stroke="#2a3ca8" stroke-width="2.6" stroke-linejoin="round"/>
<polyline points="43.6,893.3 46.6,893 49.5,892.7 52.5,892.4 55.4,892.1 58.4,891.8 61.3,891.4 64.2,891 67.2,890.7 70.2,890.3 73.1,889.8 76.1,889.4 79,889 82,888.5 84.9,888.1 87.8,887.6 90.8,887.1 93.8,886.6 96.7,886.1 99.7,885.6 102.6,885.1 105.6,884.6 108.5,884 111.5,883.5 114.4,882.9 117.3,882.4 120.3,881.8 123.2,881.2 126.2,880.5 129.2,879.9 132.1,879.2 135.1,878.5 138,877.8 141,877 143.9,876.3 146.8,875.5 149.8,874.7 152.8,873.9 155.7,873.1 158.7,872.3 161.6,871.4 164.6,870.6 167.5,869.8 170.4,868.9 173.4,868.1 176.3,867.2 179.3,866.4 182.2,865.5 185.2,864.7 188.2,863.8 191.1,862.9 194.1,862.1 197,861.2 200,860.2 202.9,859.2 205.8,858.3 208.8,857.3 211.8,856.3 214.7,855.4 217.7,854.4 220.6,853.5 223.6,852.7 226.5,851.8 229.5,851.1 232.4,850.3 235.3,849.7 238.3,849 241.2,848.3 244.2,847.7 247.2,847.1 250.1,846.5 253.1,846 256,845.5 259,845.1 261.9,844.6 264.9,844.2 267.8,843.8 270.8,843.4 273.7,843.1 276.7,842.7 279.6,842.4 282.6,842.1 285.5,841.9 288.5,841.8 291.4,841.7 294.4,841.7 297.3,841.7 300.3,841.7 303.2,841.7 306.2,841.8 309.1,841.8 312.1,841.9 315,841.9 318,842 320.9,842.1 323.9,842.2 326.8,842.4 329.8,842.6 332.7,842.8 335.7,843.1 338.6,843.5 341.6,844 344.5,844.4 347.5,845 350.4,845.5 353.4,846.1 356.3,846.8 359.3,847.5 362.2,848.4 365.2,849.5 368.1,850.8 371.1,852.3 374,853.8 377,855.4 379.9,857 382.9,858.6 385.8,860.2 388.8,861.9 391.7,863.6 394.7,865.4 397.6,867.2 400.6,869 403.5,870.8 406.5,872.7 409.4,874.6 412.4,876.5 415.3,878.5 418.3,880.5 421.2,882.5 424.2,884.5 427.1,886.5 430.1,888.5 433,890.5 436,892.5 438.9,894.6 441.9,896.6 444.8,898.6 447.8,900.6 450.7,902.6 453.7,904.5 456.6,906.3 459.6,908.1 462.5,909.9 465.5,911.7 468.4,913.4 471.4,915.1 474.3,916.7 477.3,918.4 480.2,920 483.2,921.5 486.1,923.1 489.1,924.6 492,926.1 495,927.6 497.9,929.1 500.9,930.5 503.8,931.9 506.8,933.3 509.7,934.7 512.6,936 515.6,937.3" fill="none" stroke="#35d0e0" stroke-width="2.6" stroke-linejoin="round"/>
<polyline points="43.6,898.8 46.6,898.5 49.5,898.1 52.5,897.8 55.4,897.4 58.4,897 61.3,896.6 64.2,896.2 67.2,895.8 70.2,895.4 73.1,894.9 76.1,894.5 79,894 82,893.6 84.9,893.1 87.8,892.6 90.8,892.1 93.8,891.6 96.7,891.1 99.7,890.6 102.6,890.1 105.6,889.6 108.5,889 111.5,888.5 114.4,888 117.3,887.4 120.3,886.8 123.2,886.2 126.2,885.6 129.2,885 132.1,884.3 135.1,883.6 138,882.9 141,882.2 143.9,881.5 146.8,880.8 149.8,880.1 152.8,879.3 155.7,878.6 158.7,877.9 161.6,877.1 164.6,876.4 167.5,875.6 170.4,874.9 173.4,874.2 176.3,873.5 179.3,872.8 182.2,872.1 185.2,871.4 188.2,870.7 191.1,870.1 194.1,869.4 197,868.7 200,868.1 202.9,867.5 205.8,866.8 208.8,866.2 211.8,865.5 214.7,864.9 217.7,864.3 220.6,863.7 223.6,863.1 226.5,862.6 229.5,862 232.4,861.4 235.3,860.9 238.3,860.3 241.2,859.7 244.2,859.2 247.2,858.7 250.1,858.2 253.1,857.7 256,857.3 259,857 261.9,856.7 264.9,856.5 267.8,856.2 270.8,856 273.7,855.9 276.7,855.7 279.6,855.5 282.6,855.4 285.5,855.3 288.5,855.2 291.4,855.2 294.4,855.2 297.3,855.3 300.3,855.3 303.2,855.5 306.2,855.6 309.1,855.8 312.1,855.9 315,856.1 318,856.3 320.9,856.6 323.9,856.8 326.8,857.1 329.8,857.4 332.7,857.7 335.7,858.1 338.6,858.6 341.6,859.1 344.5,859.6 347.5,860.2 350.4,860.9 353.4,861.5 356.3,862.3 359.3,863.1 362.2,864 365.2,865.2 368.1,866.5 371.1,867.9 374,869.3 377,870.7 379.9,872 382.9,873.3 385.8,874.5 388.8,875.8 391.7,877 394.7,878.3 397.6,879.5 400.6,880.8 403.5,882.2 406.5,883.6 409.4,885 412.4,886.4 415.3,887.9 418.3,889.5 421.2,891 424.2,892.5 427.1,894.1 430.1,895.6 433,897.2 436,898.9 438.9,900.5 441.9,902.2 444.8,903.8 447.8,905.4 450.7,907 453.7,908.5 456.6,910.1 459.6,911.5 462.5,913 465.5,914.4 468.4,915.8 471.4,917.2 474.3,918.5 477.3,919.9 480.2,921.2 483.2,922.4 486.1,923.7 489.1,925 492,926.2 495,927.4 497.9,928.6 500.9,929.8 503.8,931 506.8,932.2 509.7,933.3 512.6,934.4 515.6,935.5" fill="none" stroke="#c83cb4" stroke-width="2.6" stroke-linejoin="round"/>
<polyline points="43.6,908.4 46.6,908.1 49.5,907.9 52.5,907.6 55.4,907.3 58.4,907 61.3,906.7 64.2,906.4 67.2,906.1 70.2,905.8 73.1,905.5 76.1,905.2 79,904.8 82,904.5 84.9,904.2 87.8,903.8 90.8,903.5 93.8,903.1 96.7,902.7 99.7,902.4 102.6,902 105.6,901.6 108.5,901.2 111.5,900.9 114.4,900.5 117.3,900 120.3,899.6 123.2,899.2 126.2,898.7 129.2,898.2 132.1,897.6 135.1,897.1 138,896.5 141,896 143.9,895.4 146.8,894.8 149.8,894.3 152.8,893.7 155.7,893.1 158.7,892.6 161.6,892 164.6,891.5 167.5,891 170.4,890.5 173.4,890 176.3,889.5 179.3,889.1 182.2,888.7 185.2,888.4 188.2,888 191.1,887.7 194.1,887.4 197,887.2 200,886.9 202.9,886.6 205.8,886.3 208.8,886.1 211.8,885.8 214.7,885.6 217.7,885.3 220.6,885.1 223.6,884.9 226.5,884.7 229.5,884.6 232.4,884.4 235.3,884.3 238.3,884.2 241.2,884.1 244.2,884.1 247.2,884.1 250.1,884.1 253.1,884.1 256,884.1 259,884.1 261.9,884.1 264.9,884.2 267.8,884.2 270.8,884.3 273.7,884.3 276.7,884.4 279.6,884.5 282.6,884.5 285.5,884.6 288.5,884.7 291.4,884.8 294.4,884.9 297.3,885.1 300.3,885.3 303.2,885.6 306.2,885.9 309.1,886.2 312.1,886.6 315,887 318,887.3 320.9,887.7 323.9,888.1 326.8,888.6 329.8,889 332.7,889.4 335.7,889.9 338.6,890.3 341.6,890.8 344.5,891.4 347.5,891.9 350.4,892.4 353.4,893 356.3,893.6 359.3,894.2 362.2,894.8 365.2,895.4 368.1,896.1 371.1,896.8 374,897.5 377,898.2 379.9,898.9 382.9,899.6 385.8,900.3 388.8,901.1 391.7,901.8 394.7,902.5 397.6,903.3 400.6,904 403.5,904.8 406.5,905.6 409.4,906.4 412.4,907.2 415.3,908 418.3,908.8 421.2,909.6 424.2,910.5 427.1,911.3 430.1,912.2 433,913.1 436,914 438.9,914.9 441.9,915.8 444.8,916.8 447.8,917.7 450.7,918.6 453.7,919.5 456.6,920.4 459.6,921.2 462.5,922.1 465.5,923 468.4,923.8 471.4,924.7 474.3,925.5 477.3,926.3 480.2,927.1 483.2,927.8 486.1,928.6 489.1,929.3 492,930 495,930.7 497.9,931.4 500.9,932.1 503.8,932.7 506.8,933.4 509.7,934 512.6,934.6 515.6,935.2" fill="none" stroke="#fff020" stroke-width="2.6" stroke-linejoin="round"/>
<polyline points="43.6,913.9 46.6,913.7 49.5,913.6 52.5,913.4 55.4,913.3 58.4,913.1 61.3,912.9 64.2,912.7 67.2,912.6 70.2,912.4 73.1,912.2 76.1,912 79,911.8 82,911.5 84.9,911.3 87.8,911.1 90.8,910.9 93.8,910.7 96.7,910.4 99.7,910.2 102.6,909.9 105.6,909.7 108.5,909.5 111.5,909.2 114.4,908.9 117.3,908.7 120.3,908.4 123.2,908.1 126.2,907.8 129.2,907.4 132.1,907.1 135.1,906.7 138,906.3 141,905.9 143.9,905.5 146.8,905.1 149.8,904.7 152.8,904.3 155.7,903.9 158.7,903.6 161.6,903.2 164.6,902.8 167.5,902.5 170.4,902.1 173.4,901.8 176.3,901.5 179.3,901.2 182.2,900.9 185.2,900.7 188.2,900.5 191.1,900.3 194.1,900.1 197,900 200,899.8 202.9,899.6 205.8,899.5 208.8,899.3 211.8,899.2 214.7,899 217.7,898.9 220.6,898.8 223.6,898.7 226.5,898.6 229.5,898.5 232.4,898.4 235.3,898.4 238.3,898.4 241.2,898.4 244.2,898.4 247.2,898.4 250.1,898.4 253.1,898.5 256,898.5 259,898.6 261.9,898.6 264.9,898.7 267.8,898.8 270.8,898.9 273.7,899 276.7,899.1 279.6,899.3 282.6,899.4 285.5,899.5 288.5,899.7 291.4,899.8 294.4,900 297.3,900.2 300.3,900.5 303.2,900.9 306.2,901.3 309.1,901.7 312.1,902.2 315,902.7 318,903.2 320.9,903.7 323.9,904.2 326.8,904.7 329.8,905.2 332.7,905.7 335.7,906.3 338.6,906.9 341.6,907.5 344.5,908.1 347.5,908.8 350.4,909.4 353.4,910 356.3,910.7 359.3,911.3 362.2,912 365.2,912.6 368.1,913.3 371.1,914 374,914.6 377,915.3 379.9,915.9 382.9,916.5 385.8,917.2 388.8,917.8 391.7,918.4 394.7,919 397.6,919.6 400.6,920.2 403.5,920.9 406.5,921.5 409.4,922 412.4,922.6 415.3,923.2 418.3,923.8 421.2,924.4 424.2,925 427.1,925.6 430.1,926.1 433,926.7 436,927.3 438.9,927.9 441.9,928.5 444.8,929.1 447.8,929.7 450.7,930.3 453.7,930.8 456.6,931.4 459.6,932 462.5,932.6 465.5,933.1 468.4,933.7 471.4,934.2 474.3,934.8 477.3,935.3 480.2,935.8 483.2,936.3 486.1,936.8 489.1,937.3 492,937.7 495,938.2 497.9,938.6 500.9,939.1 503.8,939.5 506.8,939.9 509.7,940.4 512.6,940.8 515.6,941.1" fill="none" stroke="#8a8a1e" stroke-width="2.6" stroke-linejoin="round"/>
</g>
<path d="M43.6 1003.7 v-6 M43.6 652.5 v6 M191.1 1003.7 v-6 M191.1 652.5 v6 M338.6 1003.7 v-6 M338.6 652.5 v6 M486.1 1003.7 v-6 M486.1 652.5 v6 M117.35 1003.7 v-3.2 M117.35 652.5 v3.2 M264.85 1003.7 v-3.2 M264.85 652.5 v3.2 M412.35 1003.7 v-3.2 M412.35 652.5 v3.2 M43.6 1003.7 h6 M515.6 1003.7 h-6 M43.6 953.53 h6 M515.6 953.53 h-6 M43.6 903.36 h6 M515.6 903.36 h-6 M43.6 853.19 h6 M515.6 853.19 h-6 M43.6 803.01 h6 M515.6 803.01 h-6 M43.6 752.84 h6 M515.6 752.84 h-6 M43.6 702.67 h6 M515.6 702.67 h-6 M43.6 652.5 h6 M515.6 652.5 h-6 M43.6 978.61 h3.2 M515.6 978.61 h-3.2 M43.6 928.44 h3.2 M515.6 928.44 h-3.2 M43.6 878.27 h3.2 M515.6 878.27 h-3.2 M43.6 828.1 h3.2 M515.6 828.1 h-3.2 M43.6 777.93 h3.2 M515.6 777.93 h-3.2 M43.6 727.76 h3.2 M515.6 727.76 h-3.2 M43.6 677.59 h3.2 M515.6 677.59 h-3.2" stroke="#222" stroke-width="1.24" fill="none"/>
<rect x="43.6" y="652.5" width="472" height="351.2" fill="none" stroke="#222" stroke-width="1.55"/>
<text x="43.6" y="1022.6" font-size="13" text-anchor="middle" fill="#111">0</text>
<text x="191.1" y="1022.6" font-size="13" text-anchor="middle" fill="#111">5</text>
<text x="338.6" y="1022.6" font-size="13" text-anchor="middle" fill="#111">10</text>
<text x="486.1" y="1022.6" font-size="13" text-anchor="middle" fill="#111">15</text>
<text x="35.6" y="1008.4" font-size="13" text-anchor="end" fill="#111">1</text>
<text x="35.6" y="958.23" font-size="13" text-anchor="end" fill="#111">2</text>
<text x="35.6" y="908.06" font-size="13" text-anchor="end" fill="#111">3</text>
<text x="35.6" y="857.89" font-size="13" text-anchor="end" fill="#111">4</text>
<text x="35.6" y="807.71" font-size="13" text-anchor="end" fill="#111">5</text>
<text x="35.6" y="757.54" font-size="13" text-anchor="end" fill="#111">6</text>
<text x="35.6" y="707.37" font-size="13" text-anchor="end" fill="#111">7</text>
<text x="35.6" y="657.2" font-size="13" text-anchor="end" fill="#111">8</text>
<text x="173" y="1049" font-size="17" textLength="213" lengthAdjust="spacingAndGlyphs" fill="#111">Distance along x-axis (µm)</text>
<text transform="translate(14.6 969.4) rotate(-90)" font-size="17" textLength="240.4" lengthAdjust="spacingAndGlyphs" fill="#111">Normalized magnetic field B/B</text>
<text transform="translate(21 728.8) rotate(-90)" font-size="9.8" fill="#111">app</text>
<text x="485" y="980.3" font-size="12.5" font-weight="700" text-anchor="middle" fill="#111">(d)</text>
<text x="218.8" y="956.5" font-size="17.6" textLength="97.4" lengthAdjust="spacingAndGlyphs" fill="#111">Λ = 715 nm</text>
<rect x="46.6" y="657" width="148.6" height="174.6" fill="#fff" stroke="#444" stroke-width="0.9"/>
<path d="M65.8 664.8h7.4v7.4h-7.4z" fill="#fff" stroke="#333333" stroke-width="0.8"/>
<text x="89" y="673.5" font-size="14" fill="#111">z<tspan font-size="8.5" dy="3.5">0</tspan><tspan dy="-3.5"> = 1.38 µm</tspan></text>
<path d="M65.8 690a3.7 3.7 0 1 0 7.4 0a3.7 3.7 0 1 0 -7.4 0z" fill="#fff" stroke="#ee1c24" stroke-width="0.8"/>
<text x="89" y="695" font-size="14" fill="#111">z<tspan font-size="8.5" dy="3.5">0</tspan><tspan dy="-3.5">+p = 2.15 µm</tspan></text>
<path d="M69.5 707.43L73.39 714.27L65.61 714.27z" fill="#fff" stroke="#7ac82a" stroke-width="0.8"/>
<text x="89" y="716.5" font-size="14" fill="#111">z<tspan font-size="8.5" dy="3.5">0</tspan><tspan dy="-3.5">+2p = 2.98 µm</tspan></text>
<path d="M69.5 737.07L73.39 730.23L65.61 730.23z" fill="#fff" stroke="#2a3ca8" stroke-width="0.8"/>
<text x="89" y="738" font-size="14" fill="#111">z<tspan font-size="8.5" dy="3.5">0</tspan><tspan dy="-3.5">+3p = 3.87 µm</tspan></text>
<path d="M69.5 750.25L73.75 754.5L69.5 758.75L65.25 754.5z" fill="#fff" stroke="#35d0e0" stroke-width="0.8"/>
<text x="89" y="759.5" font-size="14" fill="#111">z<tspan font-size="8.5" dy="3.5">0</tspan><tspan dy="-3.5">+4p = 4.81 µm</tspan></text>
<path d="M65.43 776L72.28 772.12L72.28 779.88z" fill="#fff" stroke="#c83cb4" stroke-width="0.8"/>
<text x="89" y="781" font-size="14" fill="#111">z<tspan font-size="8.5" dy="3.5">0</tspan><tspan dy="-3.5">+5p = 5.60 µm</tspan></text>
<path d="M73.57 797.5L66.72 793.62L66.72 801.38z" fill="#fff" stroke="#f6ee3a" stroke-width="0.8"/>
<text x="89" y="802.5" font-size="14" fill="#111">z<tspan font-size="8.5" dy="3.5">0</tspan><tspan dy="-3.5">+7p = 7.86 µm</tspan></text>
<path d="M73.02 821.03L69.5 823.07L65.98 821.03L65.98 816.97L69.5 814.93L73.02 816.97z" fill="#fff" stroke="#8a8a1e" stroke-width="0.8"/>
<text x="89" y="824" font-size="14" fill="#111">z<tspan font-size="8.5" dy="3.5">0</tspan><tspan dy="-3.5">+9p = 9.72 µm</tspan></text>
</g>
</svg>
</body></html>
